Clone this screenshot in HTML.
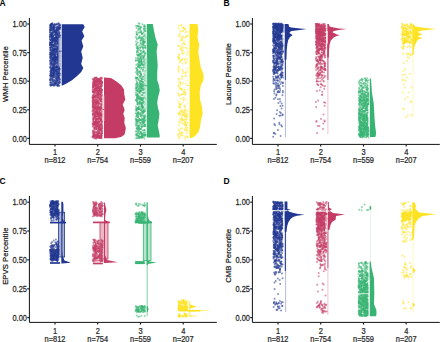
<!DOCTYPE html>
<html><head><meta charset="utf-8"><style>
html,body{margin:0;padding:0;background:#fff;width:440px;height:342px;overflow:hidden}
svg{display:block}
</style></head><body>
<svg width="440" height="342" viewBox="0 0 440 342">
<rect width="440" height="342" fill="#fff"/>
<g>
<g font-family="Liberation Sans, sans-serif" stroke-linejoin="round">
<text transform="translate(-0.5 5.7) scale(0.95 1)" font-size="9" font-weight="bold" fill="#000">A</text>
<path d="M29.4 18V144.4H216.8" stroke="#111" stroke-width="1" fill="none"/>
<path d="M27.2 138.4H29.4" stroke="#222" stroke-width="1.2"/>
<text transform="translate(26.9 141.6) scale(0.835 1)" font-size="8.9" fill="#2a2a2a" stroke="#2a2a2a" stroke-width="0.25" text-anchor="end">0.00</text>
<path d="M27.2 109.8H29.4" stroke="#222" stroke-width="1.2"/>
<text transform="translate(26.9 113) scale(0.835 1)" font-size="8.9" fill="#2a2a2a" stroke="#2a2a2a" stroke-width="0.25" text-anchor="end">0.25</text>
<path d="M27.2 81.2H29.4" stroke="#222" stroke-width="1.2"/>
<text transform="translate(26.9 84.4) scale(0.835 1)" font-size="8.9" fill="#2a2a2a" stroke="#2a2a2a" stroke-width="0.25" text-anchor="end">0.50</text>
<path d="M27.2 52.6H29.4" stroke="#222" stroke-width="1.2"/>
<text transform="translate(26.9 55.8) scale(0.835 1)" font-size="8.9" fill="#2a2a2a" stroke="#2a2a2a" stroke-width="0.25" text-anchor="end">0.75</text>
<path d="M27.2 24H29.4" stroke="#222" stroke-width="1.2"/>
<text transform="translate(26.9 27.2) scale(0.835 1)" font-size="8.9" fill="#2a2a2a" stroke="#2a2a2a" stroke-width="0.25" text-anchor="end">1.00</text>
<path d="M55 144.4V146.6" stroke="#222" stroke-width="1.2"/>
<text transform="translate(55 154.6) scale(0.885 1)" font-size="8.4" fill="#2a2a2a" stroke="#2a2a2a" stroke-width="0.25" text-anchor="middle">1</text>
<text transform="translate(55 162.6) scale(0.885 1)" font-size="8.4" fill="#2a2a2a" stroke="#2a2a2a" stroke-width="0.25" text-anchor="middle">n=812</text>
<path d="M97.7 144.4V146.6" stroke="#222" stroke-width="1.2"/>
<text transform="translate(97.7 154.6) scale(0.885 1)" font-size="8.4" fill="#2a2a2a" stroke="#2a2a2a" stroke-width="0.25" text-anchor="middle">2</text>
<text transform="translate(97.7 162.6) scale(0.885 1)" font-size="8.4" fill="#2a2a2a" stroke="#2a2a2a" stroke-width="0.25" text-anchor="middle">n=754</text>
<path d="M140.5 144.4V146.6" stroke="#222" stroke-width="1.2"/>
<text transform="translate(140.5 154.6) scale(0.885 1)" font-size="8.4" fill="#2a2a2a" stroke="#2a2a2a" stroke-width="0.25" text-anchor="middle">3</text>
<text transform="translate(140.5 162.6) scale(0.885 1)" font-size="8.4" fill="#2a2a2a" stroke="#2a2a2a" stroke-width="0.25" text-anchor="middle">n=559</text>
<path d="M183.2 144.4V146.6" stroke="#222" stroke-width="1.2"/>
<text transform="translate(183.2 154.6) scale(0.885 1)" font-size="8.4" fill="#2a2a2a" stroke="#2a2a2a" stroke-width="0.25" text-anchor="middle">4</text>
<text transform="translate(183.2 162.6) scale(0.885 1)" font-size="8.4" fill="#2a2a2a" stroke="#2a2a2a" stroke-width="0.25" text-anchor="middle">n=207</text>
<text transform="translate(7.5 74.1) rotate(-90)" font-size="7.75" fill="#111" stroke="#111" stroke-width="0.2" text-anchor="middle">WMH Percentile</text>
</g>
<path d="M54.4 58.4h0M59.1 52.8h0M59.6 53.6h0M50 80.6h0M56.1 81.3h0M50 31.6h0M52 84.9h0M55.3 54.9h0M51.9 63h0M59.3 29h0M49.9 45.5h0M55.2 60.8h0M60 38.1h0M57.4 81.3h0M58.8 40.8h0M57.4 85.7h0M56.5 38h0M54.6 68.3h0M53.9 27.6h0M53.2 81.8h0M56.6 32.2h0M54.1 74h0M57.1 31.5h0M54.9 34.4h0M50.2 42.9h0M56.4 26.7h0M53.1 71.8h0M50.4 47.3h0M52.6 75.5h0M50.4 27.3h0M52.7 69.3h0M54.7 49.2h0M56.5 74.3h0M56.4 36.4h0M54.4 56.9h0M56.9 52.5h0M58.9 38.9h0M57.3 72.1h0M50.1 30h0M55.9 83.8h0M57.8 50.9h0M58.4 45.7h0M59.5 68.5h0M59 29.5h0M50.1 30.1h0M57.9 57.2h0M50.5 34.7h0M50.2 39.5h0M54.3 28.4h0M56.2 30.9h0M50.5 26.3h0M55.6 70.1h0M57.4 41.8h0M51.5 62.6h0M58.8 36.8h0M56.6 67h0M53.9 58h0M58.1 68.8h0" stroke="#213791" stroke-opacity="0.56" stroke-width="2" stroke-linecap="round" fill="none"/>
<path d="M54.5 55.1h0M53.9 27.6h0M58.6 34.6h0M59.6 24.3h0M49.9 42.1h0M50.1 75.5h0M57.9 43.3h0M50.1 84.4h0M55.2 76.9h0M59.5 52.2h0M56.2 37.7h0M52.7 64.5h0M58.9 72.6h0M53.6 29.1h0M55.1 57.4h0M51.5 35.9h0M54.6 46.5h0M56.8 29.7h0M54.2 55.4h0M54.5 30.9h0M55.9 52.7h0M57.4 58.9h0M59.4 51.2h0M56.4 45.8h0M55.2 39.8h0M56.9 77.7h0M50.4 47.9h0M54.9 40.7h0M53.7 80.6h0M57 30.1h0M51 43.9h0M53.8 26.6h0M56.3 45.4h0M58.9 77.2h0M51.8 40.7h0M51 82.6h0M53.3 74.9h0M54.6 24h0M59.7 63.7h0M55.9 46.4h0M53.7 51.3h0M54.7 85.1h0M58.5 69h0M51 85.6h0M59.6 24.5h0M57.6 38.5h0M50.3 42.4h0M53.6 52.9h0M52.2 75.5h0M50.4 77.9h0M55.2 83.1h0M56.4 66.1h0M59.5 64.5h0M56.6 41.3h0M53 51h0M54.6 41.3h0M59.9 27.7h0M50.4 25.2h0" stroke="#213791" stroke-opacity="0.56" stroke-width="2" stroke-linecap="round" fill="none"/>
<path d="M51.7 55.4h0M57.7 40.1h0M59.1 74.8h0M54.7 69.2h0M51.9 33.7h0M51.2 26h0M58.5 45.1h0M53.9 73.7h0M58.5 37.7h0M53.1 52.6h0M56.6 44.4h0M52.7 68.4h0M53.5 40.2h0M50.6 28.3h0M59.7 64.2h0M52.8 84.4h0M57.1 61.4h0M54.5 64.4h0M57.6 75h0M51.2 80.2h0M56.2 66.6h0M50.8 73.2h0M52.1 42.4h0M57.8 55.7h0M50.7 74.9h0M58.8 52.3h0M50.2 32.6h0M53.9 53.1h0M51.2 55.1h0M57.7 53.4h0M55.3 53.6h0M56.5 62.4h0M59 43.4h0M54.9 58.9h0M50.6 58.1h0M53.4 35.4h0M55.8 57.6h0M59.4 79.7h0M50.3 49.3h0M56 60.3h0M51 43.3h0M56.9 37.8h0M52.3 24.3h0M58.7 26.9h0M58.3 66.6h0M54 85.7h0M51.1 56.4h0M53 45.6h0M52.4 80.1h0M57.8 78.3h0M54 48.7h0M50.3 68h0M54.2 64.4h0M54.1 32.2h0M55.6 61.6h0M53.4 45.8h0M59.7 57.4h0M51.2 35.8h0" stroke="#213791" stroke-opacity="0.56" stroke-width="2" stroke-linecap="round" fill="none"/>
<path d="M57.9 29h0M53.2 30.5h0M51.7 69.8h0M60 27.8h0M56.5 51h0M54.4 62.9h0M54.3 57.8h0M54.8 66.7h0M58.1 80.1h0M54.2 61h0M55.6 56.7h0M49.9 38.5h0M55.6 60.5h0M54.7 66.4h0M50.5 57.6h0M52.9 30.3h0M51.4 43.4h0M53.6 67.9h0M53.2 49.1h0M55.5 58.5h0M57.5 53.8h0M55.3 83.2h0M51.8 34.5h0M58.4 66.3h0M52.4 33.1h0M58.4 47.1h0M50.1 42.8h0M56.6 38.2h0M53.5 84.8h0M58.6 78.1h0M53 73.7h0M59.4 77.7h0M53.2 69.9h0M58.3 66.7h0M54.8 38.3h0M56.9 69.6h0M58.9 28.6h0M53.4 56.9h0M52.5 30.1h0M54.9 55.7h0M50.5 30.3h0M57.3 59.4h0M52.4 41.5h0M50.5 24.9h0M55.7 70.9h0M53.4 47.5h0M55.6 71.3h0M55.7 49.4h0M54.1 58.1h0M59.4 63.5h0M54.6 83.7h0M50.4 53h0M57.7 57.1h0M54.5 56.5h0M52.1 37.1h0M52.8 39.5h0M53 77.6h0M51.5 53h0" stroke="#213791" stroke-opacity="0.56" stroke-width="2" stroke-linecap="round" fill="none"/>
<path d="M50.7 74.3h0M50.8 26.8h0M51.8 61.2h0M57.3 80h0M53.1 65.2h0M58 35.6h0M54.8 24.8h0M55.3 49.2h0M53 81.4h0M57 76.4h0M60 63.7h0M51.4 70.8h0M57.5 35h0M57.7 27.8h0M50.7 28.2h0M57.7 34.4h0M58.7 55.7h0M55.6 52h0M53.9 67.3h0M59.1 61.1h0M58.4 77.1h0M52.3 41.9h0M56.6 73h0M59.5 34h0M58.3 72.8h0M52 45h0M55.3 31.6h0M53.3 49.7h0M51.8 37.5h0M52.4 55.1h0M52.7 47.8h0M54.3 75.8h0M57.4 57.6h0M56.6 49.5h0M58.5 71.8h0M53 48.8h0M53.6 68.8h0M50.9 73h0M53.2 54h0M50.3 28.9h0M56.6 57.7h0M50.5 75.2h0M51.1 53.7h0M59.8 66.4h0M49.8 27.3h0M57.9 72.5h0M59.5 28.2h0M54.5 44h0M54.8 53.5h0M53.7 45.4h0M54.2 66.4h0M50.5 47.7h0M53.3 68h0M55.6 83.4h0M51.3 84h0M53 60.5h0M59.9 27.8h0M53.1 39.4h0" stroke="#213791" stroke-opacity="0.56" stroke-width="2" stroke-linecap="round" fill="none"/>
<path d="M50.2 64.4h0M51.6 58.4h0M50.9 25.4h0M57 73.2h0M54.2 74h0M51.6 23.7h0M50.5 73.6h0M59.2 40h0M60 79.2h0M54.4 69.8h0M57.6 85h0M59 70.4h0M59.8 25.5h0M56.6 28.2h0M59 28.4h0M54.5 60h0M59.9 39.9h0M59.9 73.6h0M57.9 64.8h0M58.2 41.3h0M54.2 58.8h0M50.4 79.7h0M56.6 79h0M51.5 61.5h0M54 46.1h0M55.4 33.4h0M52.5 68.9h0M55.7 67.4h0M52.2 23.1h0M53.8 68.3h0M57.6 85.1h0M51.6 24.7h0M51.6 29.7h0M52.1 61h0M59 73.4h0M56.2 49.9h0M53.3 24.5h0M55 30.9h0M58.8 82.9h0M52.6 73.4h0M51 42.6h0M57.1 50.4h0M52.7 40.6h0M57.8 56h0M59.7 75.8h0M57.9 47h0M50.6 42.6h0M52.2 78.8h0M58.4 54.8h0M51.4 73.4h0M55.5 63.6h0M50.9 53.8h0M54 71.5h0M57.5 27.8h0M54.3 50.3h0M51 76.6h0M49.9 32.4h0M51.7 63.2h0" stroke="#213791" stroke-opacity="0.56" stroke-width="2" stroke-linecap="round" fill="none"/>
<path d="M51.4 23.9h0M51.7 69.3h0M52.2 67.6h0M53.4 66.4h0M58.8 47.3h0M57.1 34.3h0M53.2 72.9h0M51.1 50.5h0M52.2 69h0M51.8 33.4h0M56.1 69.8h0M59.9 82.8h0M52.6 49.9h0M57.2 66.9h0M51.3 70.2h0M50.2 29.9h0M51.3 71.8h0M56.1 41.4h0M50 44h0M52.3 59.3h0M55.2 56.2h0M53.9 45.6h0M52.1 42h0M54.3 71.9h0M59.7 25.7h0M52 52.6h0M51.3 36h0M56.9 24.5h0M53.8 38.1h0M57.1 43.7h0M56.9 57.6h0M51 27.7h0M53.4 50.3h0M55.1 25h0M53.5 29.4h0M54 51.9h0M54.6 45.9h0M51.1 28.6h0M54.9 80.2h0M58.6 48.5h0M55.5 81.4h0M55.5 51.9h0M58.7 33.1h0M55.2 34.7h0M53.2 44.9h0M55.9 69.9h0M59.2 54.9h0M55 85.3h0M51.8 36.6h0M56.5 72.1h0M59 38.9h0M53 85.3h0M56.1 37h0M56.9 66.7h0M59.1 65.9h0M55 42.7h0M56.3 30h0M59.3 25.8h0" stroke="#213791" stroke-opacity="0.56" stroke-width="2" stroke-linecap="round" fill="none"/>
<path d="M50.4 35h0M56.4 30.4h0M58.2 60.8h0M58.7 49.4h0M53 31.6h0M53.3 67.1h0M51.3 55.7h0M59 53.2h0M50.8 75.7h0M50 79.5h0M53.9 26.2h0M59 50.2h0M50.8 57.3h0M51.3 45.6h0M52.3 37h0M52 37.9h0M58.2 76.6h0M55.3 41.9h0M56.4 29.7h0M51.7 57.7h0M59 43.3h0M50.3 25h0M56.6 40.5h0M57.9 37.9h0M57.6 85.4h0M54.4 77.6h0M57.1 48.7h0M53.5 27h0M56.4 57.7h0M57.5 76.3h0M51.3 34.1h0M57.5 42.6h0M54.9 48.5h0M54.4 60.6h0M53.3 77.7h0M59.4 44.9h0M53 65.5h0M52.8 72.2h0M52.9 69.8h0M56.7 28.4h0M54 56.9h0M52.2 70.7h0M58.5 61.6h0M53.4 54.6h0M57.7 39.6h0M58.1 23.9h0M53.2 59h0M51.5 68.8h0M58 66.4h0M55.1 43h0M60 56.4h0M52.9 37h0M59.9 35.4h0M53.7 40.3h0M53.4 67.7h0M57.5 62.4h0M59.4 50.6h0M53.7 75.1h0" stroke="#213791" stroke-opacity="0.56" stroke-width="2" stroke-linecap="round" fill="none"/>
<path d="M50.1 52.4h0M52 40.1h0M51.6 68.6h0M58.6 59.3h0M58.3 76.7h0M56.1 70.9h0M58.4 66.6h0M51.8 62.1h0M57.9 31h0M57 77.5h0M53.6 29.2h0M59.7 38.4h0M50.7 65.8h0M53.5 30.4h0M55.1 71.4h0M55.9 37.2h0M50.6 40.1h0M53.8 65.2h0M55 72.9h0M50.1 34.4h0M57.2 80h0M52.9 54.5h0M50.7 85.2h0M52.1 59.7h0M54.4 70.2h0M53.7 27.6h0M58.6 37.3h0M50.4 54.4h0M55.5 75.6h0M55.6 49.6h0M59.3 38.9h0M49.9 36.3h0M55.3 83.3h0M59.3 32.6h0M51 34.5h0M52.2 59.7h0M59.7 48h0M54 26.4h0M53.6 50.2h0M58.3 43.8h0M51.1 78.3h0M52.9 76.6h0M57.3 56.8h0M57 49.4h0M55.2 44.2h0M53.7 27.1h0M57.9 84.6h0M55.8 33h0M57.1 74.2h0M51.7 64h0M57.6 26.6h0M55 49h0M50.4 59.9h0M55.3 24.5h0M58.8 78.2h0M56.9 54.7h0M55.8 59.9h0" stroke="#213791" stroke-opacity="0.56" stroke-width="2" stroke-linecap="round" fill="none"/>
<path d="M58.4 55.9h0M58 42.3h0M52.1 58.4h0M53.7 59.9h0M59.5 40.5h0M57.9 80.4h0M54.8 83.1h0M51.1 72.3h0M56.8 24.1h0M53.9 61h0M59 57.8h0M59.4 68.7h0M56.2 46.6h0M55.6 80.8h0M53.2 54.2h0M52.7 33.9h0M50.8 53.4h0M51.8 69.3h0M56 33h0M59.4 64.7h0M55.9 70.6h0M59.8 52.9h0M55.2 56.6h0M50.2 60.8h0M52.3 79.3h0M53.5 40.4h0M53.3 36.7h0M54.6 43.6h0M53.2 44.9h0M56.2 75.6h0M51 43.5h0M49.9 56.4h0M58.8 43.3h0M59.9 69.7h0M58.5 62.1h0M58.7 41.1h0M56.4 67.4h0M54.4 58.3h0M53.5 50.3h0M58.2 72.9h0M50.1 50.3h0M56.9 59h0M59.2 72.1h0M50.6 53.8h0M54.4 37.8h0M51.3 36h0M56 76.6h0M52.7 29.1h0M51.6 74.6h0M59.4 43.9h0M55.4 40.3h0M58.8 39.3h0M58.3 47.8h0M56.5 32.4h0M53.5 37.5h0M53.8 54.9h0M54.5 80h0" stroke="#213791" stroke-opacity="0.56" stroke-width="2" stroke-linecap="round" fill="none"/>
<path d="M54.9 64.9h0M51.9 48h0M56.1 40.7h0M50.6 63.5h0M54.4 40.4h0M59.3 68.7h0M52.1 56.3h0M51.8 37.4h0M56.8 30.3h0M59.8 73.9h0M59.7 59h0M59.8 74.7h0M51.9 44.8h0M58 42.3h0M57.2 67.8h0M53 57.7h0M59.5 60.1h0M59.4 58.6h0M59 57.7h0M56.6 69.7h0M55.9 27.4h0M52.8 35.4h0M55.9 41h0M55.6 78.3h0M53.8 41.9h0M51.7 39.6h0M50.1 62.9h0M50 45h0M53 68.3h0M51.1 46.9h0M55.6 32.1h0M57.9 69.6h0M50.9 85.5h0M57.3 85.6h0M50.5 85.5h0M56.7 51.8h0M50.5 52.3h0M58.5 29.6h0M50.3 75.9h0M50.4 71.3h0M56.7 81.8h0M53.2 32.6h0M50.4 82.3h0M59.7 58.5h0M51.6 32.5h0M59.6 82h0M51.7 24.5h0M53.3 58.4h0M52.3 81.2h0M59.1 41.4h0M57.2 43.2h0M57 51.4h0M57.1 71.2h0M58.7 82.1h0M50.3 67h0M55.2 56.7h0M52 51.3h0" stroke="#213791" stroke-opacity="0.56" stroke-width="2" stroke-linecap="round" fill="none"/>
<path d="M52.6 76.2h0M56.3 29.4h0M51.9 24h0M58.8 69.1h0M54 62.6h0M54.4 62.6h0M57.2 63.4h0M53.1 45.5h0M57.5 54.8h0M59.1 70.1h0M56.3 74.2h0M51 62.5h0M58.4 27.7h0M53.9 38.7h0M54 75.3h0M54.7 39.5h0M52.9 73h0M53.2 75.3h0M54.9 32h0M55.8 73.9h0M54.4 54.8h0M53.4 52.9h0M58 28.5h0M51.3 24.1h0M50.6 25.2h0M59.2 68.3h0M58 84.8h0M55.6 39.6h0M56.8 33.1h0M52.2 34.7h0M52.6 37.4h0M58 75.4h0M59.6 36.9h0M58.6 31h0M56.2 78.5h0M53.8 70.1h0M56.5 36.8h0M51.4 84.4h0M55.2 57.7h0M56.2 57.9h0M56.8 47.6h0M57.6 74h0M57.8 37.8h0M52.9 44.2h0M54.7 72.6h0M59.3 32h0M53.9 26.3h0M59.2 55.5h0M55 44.7h0M56.1 44.1h0M56.4 67.7h0M54.3 51.7h0M55.7 38.9h0M51.6 30.5h0M58.4 57.4h0M58.9 37.2h0M53.2 59.6h0" stroke="#213791" stroke-opacity="0.56" stroke-width="2" stroke-linecap="round" fill="none"/>
<path d="M53 37.5h0M52 39.3h0M54.3 26.8h0M57.3 59.8h0M53 76.1h0M53.6 59h0M58.4 58.4h0M50.9 69.3h0M51.7 27.5h0M58.1 48.7h0M55.9 71.1h0M51.9 26.3h0M58.1 62.5h0M53.5 46h0M58.5 74h0M59.1 44.7h0M59.2 28.8h0M51.2 29h0M59.9 55.7h0M51.8 52.6h0M50.3 67h0M58.8 86h0M57.5 38.6h0M54.2 51h0M57.6 69.5h0M53.5 32.7h0M56.6 81.2h0M51.7 52.7h0M54.8 58.7h0M55.8 31.5h0M53.5 39.4h0M59.9 29.4h0M57 34.3h0M54.8 37.8h0M51.8 65.3h0M54.4 27.1h0M51.9 46.4h0M53.9 61.8h0M52.1 29.3h0M56.3 24.4h0M50.9 70h0M57.8 36.8h0M53.6 69.2h0M59.4 82.2h0M52.2 64.4h0M59.4 35.2h0M51.6 69.6h0M49.8 54.4h0M56 63.8h0M55.1 53.9h0M54.2 29.7h0M56.2 49h0M55.5 57.5h0M57.9 69.8h0M50.8 25.8h0M52.9 25h0M50 36.9h0" stroke="#213791" stroke-opacity="0.56" stroke-width="2" stroke-linecap="round" fill="none"/>
<path d="M50.5 71.5h0M53.2 41.8h0M53.6 59.2h0M58.4 28.3h0M54.4 27.7h0M57.9 82.8h0M53.7 76.5h0M55 38.9h0M50.2 57.9h0M58.8 67h0M59.3 33.1h0M51.1 51h0M52 49.9h0M53.8 35.3h0M58.9 83.6h0M59.6 53.5h0M51.9 57.4h0M57 34.4h0M58.3 35.5h0M53.7 59.1h0M52.2 42.4h0M56.3 35.1h0M55.4 34.8h0M57.9 27.6h0M52.4 57.9h0M53.5 71.5h0M56.8 65.2h0M59.5 46h0M52.7 70.4h0M54.1 63h0M50.5 79.5h0M53.9 67.6h0M56.7 83h0M56.4 73.5h0M50 44.5h0M52.7 50.9h0M53.8 70h0M59.6 49.2h0M53 53.6h0M57.5 59.7h0M55.8 35.8h0M55.3 61.6h0M55 58.8h0M54.8 60.4h0M55.1 39.1h0M56.7 78.9h0M50 36.9h0M55.7 63h0M56.6 29.9h0M58.6 56.9h0M59.5 79.2h0M57.7 51.8h0M51.2 72.4h0M54.8 67h0M59.8 61h0M56.1 41.1h0M52 27.6h0" stroke="#213791" stroke-opacity="0.56" stroke-width="2" stroke-linecap="round" fill="none"/>
<path d="M58.4 47.5h0M50.7 59.9h0M53.5 64.6h0M50.1 61.1h0M58.7 25.6h0M56.4 36h0M51.9 76.9h0M55.2 50.6h0M55.6 32.3h0M57.6 48.7h0M51.5 54.4h0M54.4 39.6h0M58.1 46.4h0M57.9 57.2h0M55.1 67.9h0M50.3 47.4h0M51.4 75.7h0M58.3 60.5h0M56.2 35.5h0M55.1 39.7h0M52.2 27.3h0M50.3 29.7h0M59.9 25.1h0M55.6 57.4h0M54.5 82h0M59.1 24.3h0M58.7 37.9h0M59.4 71.8h0M52.2 38.8h0M59.3 85.6h0M50.6 34.6h0M59.1 24.5h0M51.7 45.6h0M59.9 27.1h0M56.2 40.6h0M52.8 67h0M51.5 64.1h0M51.4 74.8h0M57.4 53.9h0M57.3 49.5h0M51.5 45.1h0M57.6 59.9h0M52.2 83.1h0M56 61.8h0M51.7 37.7h0M59.5 51.7h0M54.9 64.3h0M50.7 54.5h0M58.7 42.7h0M57.4 38.8h0M50.5 40.1h0M58.8 51.8h0M57.2 83.2h0M58.2 77.4h0M50.4 29.4h0M58.7 75.9h0M53.2 83.6h0" stroke="#213791" stroke-opacity="0.56" stroke-width="2" stroke-linecap="round" fill="none"/>
<path d="M58.4 23h0M55.9 46.5h0M55.8 31.9h0M52.1 67.2h0M55.6 42.6h0M58.1 63.6h0M55.1 59.3h0M54 56.5h0M51.9 76.2h0M50.5 44.6h0M50.4 82.8h0M54.1 72.2h0M59.9 43.6h0M55.5 34.2h0M54.1 49.6h0M55.1 40.4h0M53 27.8h0M52.1 32.9h0M52.3 59.5h0M53.2 63.6h0M59.7 65.1h0M53 80h0M57.5 47.4h0M52.2 32.3h0M53.2 25.5h0M53.7 28.3h0M50.7 50.1h0M56.1 49h0M51.6 55.5h0M57.1 30.5h0M60 35.8h0M52.1 47.6h0M51.3 63.2h0M57.1 38.9h0M56.9 34.4h0M52.3 49h0M57.4 39h0M57.1 32.9h0M53.9 84.2h0M59.8 81h0M55.1 47.6h0M59.2 66.6h0M59.4 64.6h0M50.7 55.9h0M53.2 69h0M51 40.3h0M51.7 24h0M56.3 84.4h0M56.9 71h0M55.7 38.3h0M54.3 31.1h0M59 48.4h0M55.6 56.4h0M57 67.3h0M56.9 34.2h0M56.9 70.1h0M50.8 63.3h0" stroke="#213791" stroke-opacity="0.56" stroke-width="2" stroke-linecap="round" fill="none"/>
<path d="M61.7 24.2L83.3 24.2L84.7 27.1L82.2 31.2L84.3 36.3L81.6 40.4L83.3 46.5L81.2 51.6L82.7 57.8L81.2 63.9L83.3 68L81.2 72L77.1 76.1L72 80.2L66.5 83.5L62.5 85.6L61.7 85.6Z" fill="#213791"/>
<rect x="58.6" y="37.6" width="3" height="29.1" fill="#fff" fill-opacity="0.75"/>
<rect x="58.6" y="37.6" width="3" height="29.1" fill="#213791" fill-opacity="0.22"/>
<path d="M58.6 51.2H61.6" stroke="#213791" stroke-width="0.8"/>
<path d="M99.5 88.8h0M100 121.6h0M95.4 95.4h0M92.6 97.6h0M97.8 85.3h0M98.4 124.2h0M94 110.9h0M95 96.8h0M93.5 83.2h0M97.1 93.2h0M101.7 128.7h0M95.4 103.1h0M97.8 112.9h0M96.8 113.9h0M98.1 82h0M99.1 114.5h0M97.7 93.8h0M99.6 109.7h0M96.2 135.6h0M99.5 135.4h0M100.4 90.7h0M100.7 113.2h0M94 123.6h0M97.7 88h0M94.2 108.7h0M94.9 137.2h0M94.5 107.5h0M96.8 127.3h0M99 80.3h0M100 126.9h0M101.1 88.5h0M96 121h0M95.4 84.5h0M93 136.3h0M100.3 109h0M100.7 129h0M96.1 122.4h0M94.3 83.3h0M93.6 133.9h0M98.5 92.1h0M95 107.9h0M94.8 107.2h0M101.8 86.6h0M97.7 83.2h0M92.7 98.9h0M95.7 80.4h0M95.8 104.3h0M95.5 123.9h0M97.1 126.3h0M101.1 78.4h0M97.7 122.7h0M100.5 78.9h0M97 136.4h0M96.9 100.1h0M95.3 112.1h0M96.9 112.9h0M93.7 105.5h0" stroke="#C43C66" stroke-opacity="0.56" stroke-width="2" stroke-linecap="round" fill="none"/>
<path d="M102 92.2h0M100.6 86.5h0M100.2 120.2h0M102.2 116.5h0M100.6 98.5h0M95.5 100h0M101 92.7h0M100.3 133.8h0M94.1 138.1h0M93.6 85.9h0M95.7 100h0M98.4 127.6h0M100.5 129.9h0M101.6 132.9h0M100.7 128.7h0M101.9 127.1h0M93.2 98.8h0M100.3 81.2h0M100.6 110h0M94.8 89.7h0M93.1 124.2h0M98.7 80.4h0M96.1 134.5h0M98.4 115.7h0M94.2 131.8h0M95.8 93.1h0M95.3 113.4h0M97 124.5h0M93.3 91.7h0M102 104.9h0M97.9 114.1h0M102.1 131.2h0M97.7 123.8h0M97.9 135h0M98.6 128.3h0M94.6 123.4h0M95.7 80.9h0M96.4 133.8h0M98.4 113.2h0M99.3 130.6h0M98.4 133h0M99.6 113.4h0M97.1 125.7h0M97 110.8h0M101.1 90.4h0M92.6 136.7h0M93.5 121.7h0M98 121.2h0M96 126.3h0M98.9 136.4h0M97.6 119h0M96.3 101.1h0M100.9 108.2h0M98 93.9h0M98.8 117h0M101.7 84h0M96.2 135.2h0" stroke="#C43C66" stroke-opacity="0.56" stroke-width="2" stroke-linecap="round" fill="none"/>
<path d="M101.5 118.7h0M93 79.2h0M94.4 101.5h0M99.5 91.7h0M99.1 122h0M94.7 78.2h0M95.7 87.8h0M96.3 84.7h0M101.3 135.9h0M97.8 113h0M93.9 113.6h0M95 122.2h0M99.9 115.2h0M94.8 92.4h0M93.2 122.1h0M97.1 78.4h0M100.5 124.5h0M100.5 107.8h0M92.9 114.7h0M95.3 111.3h0M102.2 95.2h0M96.8 129.1h0M100.7 137.4h0M98.5 95.6h0M99.5 87.9h0M96.8 119.3h0M94.9 88.9h0M96.5 85.1h0M100 91.8h0M98.9 96.7h0M99.2 80.3h0M100.8 133.3h0M93.5 122h0M99.2 83.9h0M94.3 135.7h0M94.3 97.1h0M99.9 128.6h0M97.8 98.3h0M96 86.1h0M100.9 90.5h0M99.3 122.8h0M101.6 83.1h0M99 80.7h0M101.6 98h0M94.3 129.3h0M97.2 81.3h0M97.1 135.7h0M99.7 99.2h0M99.7 114.1h0M100.8 96.9h0M100.7 87.1h0M100.9 92.1h0M96.2 82.6h0M94.8 82.1h0M96.4 103.6h0M93.2 110h0M101 81.6h0" stroke="#C43C66" stroke-opacity="0.56" stroke-width="2" stroke-linecap="round" fill="none"/>
<path d="M94.4 92h0M96.3 82.8h0M100 84.4h0M99.6 129.8h0M98 113.1h0M97.3 85.6h0M100 98.1h0M98.8 132h0M98.9 106.4h0M102.2 128.5h0M96.3 88.3h0M94.8 81.4h0M101.4 80.5h0M98.8 114.5h0M101.3 138h0M98.8 130.2h0M98.4 130.4h0M92.9 120.3h0M93.1 120.4h0M99.3 103h0M101 136.7h0M98.3 93.4h0M101.7 115.5h0M99.3 90.7h0M102.3 82.9h0M100.9 93.7h0M99.3 91.4h0M101.5 119.5h0M100.4 114.4h0M96.7 111.5h0M97.1 90.1h0M96.6 113.7h0M94 107.5h0M98.5 102.5h0M97.5 105.6h0M92.9 87.3h0M93.2 94.7h0M93.1 84.3h0M96.2 114.2h0M98.4 115.1h0M101.5 113.8h0M95.4 115h0M98.3 121.8h0M94.6 122.6h0M96.9 91h0M100.1 95.4h0M101.2 89.4h0M93.6 96.9h0M92.9 99.5h0M101.7 132.5h0M99.5 127.3h0M96.1 124.3h0M97 106.8h0M101.4 129.7h0M94.6 123.5h0M101.8 104.3h0M99.4 128.7h0" stroke="#C43C66" stroke-opacity="0.56" stroke-width="2" stroke-linecap="round" fill="none"/>
<path d="M100.8 120.3h0M100.8 114.3h0M99.8 130.4h0M96.7 96.9h0M99.2 137.1h0M101.2 123.3h0M99.4 122h0M95.1 123.9h0M99.1 87.2h0M94.1 128h0M92.7 124.3h0M96.6 110.9h0M96.2 135.4h0M102.2 96.6h0M99.2 118.1h0M96.1 77.8h0M93.1 85.5h0M97.7 134h0M99.3 128.4h0M93.8 134.6h0M101.2 133.9h0M98 102.5h0M95.7 100.7h0M98.3 137.1h0M92.7 137.2h0M96.9 102h0M98.3 123.4h0M97.7 99.3h0M94.4 81.7h0M96.1 78.1h0M98.7 129.7h0M96.1 97.5h0M100.2 108.4h0M95.9 117.5h0M95.2 88.9h0M100 93.9h0M95.5 127.8h0M95.5 78h0M93.3 103.4h0M98 91.8h0M97.9 110.1h0M95.4 96.2h0M93.5 96.7h0M94.7 89.2h0M102.2 121.1h0M96.7 112.8h0M95.4 108h0M98.5 105.8h0M96.2 94.5h0M100 125.6h0M100.9 123.7h0M93.3 106.2h0M97.8 87.6h0M98.5 108.7h0M101.1 81.5h0M92.9 91.9h0" stroke="#C43C66" stroke-opacity="0.56" stroke-width="2" stroke-linecap="round" fill="none"/>
<path d="M99.1 115.9h0M93 84.4h0M98.5 136.1h0M95.6 122.8h0M100.1 116.2h0M99.1 90.6h0M93.7 83.3h0M101.1 99.1h0M96.6 109h0M94.3 123.7h0M99.6 125.8h0M98.1 95.3h0M98.1 86.3h0M93.5 90.3h0M96.2 116.6h0M98.7 137.7h0M100.7 137.9h0M93.7 121.6h0M95 87h0M101.1 101.3h0M98.6 81.4h0M94.6 90h0M95 116.7h0M97.9 124.4h0M96.9 116.5h0M97.7 111h0M95.8 138.4h0M100.1 77.9h0M97.7 113.9h0M97.2 135.6h0M95.1 106.2h0M92.7 123.6h0M96.2 79.2h0M97.3 103.6h0M93 116.9h0M100.9 136.8h0M92.7 105.1h0M96.3 124.8h0M101.6 115.4h0M93.4 81h0M95.5 89.1h0M100.3 137.2h0M95.8 87.9h0M100.7 104.3h0M96 137.2h0M96.3 111.5h0M102.2 133.1h0M97.8 130.4h0M98.3 120h0M96.7 112.5h0M94.1 117.7h0M97.1 111.4h0M99.2 109h0M94.2 104.6h0M94.8 85.5h0M96.2 79.8h0" stroke="#C43C66" stroke-opacity="0.56" stroke-width="2" stroke-linecap="round" fill="none"/>
<path d="M99.6 107.7h0M94.5 84.4h0M98.2 131.9h0M99.2 86.8h0M92.7 106.6h0M98.5 80.6h0M100.6 107.8h0M94.6 95.3h0M99.3 112.3h0M101.7 90.2h0M94.4 96.8h0M99.1 98h0M97.3 122.4h0M100.8 80.1h0M101.3 121.7h0M100.9 124.7h0M94.1 112.2h0M95.8 124.6h0M101.5 133.9h0M94.2 121.9h0M101.8 108.4h0M92.9 126.8h0M99.6 91.3h0M96.2 103.9h0M94.2 99.2h0M101.8 122.9h0M97.5 88.4h0M97.6 86.5h0M98.8 112h0M101.4 136.9h0M96 113h0M96.7 107.1h0M96.4 128h0M93.1 92.3h0M95 135.6h0M98.1 82.7h0M92.9 114.5h0M102 82.4h0M97 78.4h0M93.4 131.1h0M95.6 121.1h0M98.7 122.7h0M98.9 135.8h0M97.2 113h0M98.8 91.4h0M96.5 138.1h0M102.1 122.3h0M94.6 115.4h0M98.6 101.3h0M98.1 79.1h0M94.2 133h0M96.5 109.2h0M97.4 102.5h0M98 137.5h0M96 88.5h0M96.1 109.7h0" stroke="#C43C66" stroke-opacity="0.56" stroke-width="2" stroke-linecap="round" fill="none"/>
<path d="M97.4 101h0M98.8 87.8h0M100.7 117.6h0M102 89.9h0M98.4 108.6h0M95.9 86.3h0M96.1 100h0M95.3 122h0M100.6 83.1h0M94.2 91.6h0M99.7 96h0M96.3 94h0M101.2 77.9h0M95 125.6h0M97.1 90h0M97.1 132.3h0M98.5 85.7h0M96.6 109.6h0M93.1 100h0M94.6 77.8h0M98.1 81.5h0M94.1 78.4h0M96.2 104h0M99.6 88.8h0M101 84.5h0M102.2 78.4h0M98.9 83.8h0M95.1 102.1h0M96.6 128.9h0M95.3 78.7h0M95.1 84.7h0M98.7 86.5h0M96.8 110.5h0M94.2 106.6h0M97 134.2h0M98.9 128.3h0M97.9 81.8h0M98.9 79h0M93.3 85.9h0M94 136.5h0M92.6 90.3h0M99.6 94.6h0M101.5 85.3h0M96.6 121.8h0M97.9 107.2h0M99.9 82.3h0M93.5 102.4h0M93.6 82h0M95.4 91.4h0M101 120.8h0M100.7 135.3h0M99.2 89.3h0M98.3 80.5h0M97.9 113.6h0M97.8 110.3h0M95.6 106.5h0" stroke="#C43C66" stroke-opacity="0.56" stroke-width="2" stroke-linecap="round" fill="none"/>
<path d="M93.1 79.2h0M97.8 100.4h0M94 102.2h0M94.2 79.7h0M93.2 85.5h0M93.7 79.8h0M102.1 114.5h0M98.8 126.5h0M93.1 87.3h0M101.4 106.4h0M96 106.3h0M95.5 95.7h0M99.7 131.2h0M95.2 83.8h0M99.2 111h0M92.7 97.4h0M97.6 93.9h0M95.4 131.8h0M93.2 95.5h0M93.4 126.6h0M93.4 103h0M95 115h0M97.9 109.1h0M102.1 107.8h0M97.2 111.3h0M100.5 94.3h0M93.4 110.6h0M98.4 103.8h0M101.1 137.7h0M93.3 95.7h0M97.7 122.6h0M94.9 115.2h0M93.3 134.7h0M98.5 122.3h0M97.1 123.1h0M97.5 137.2h0M97.7 96.1h0M95.9 118.9h0M97.8 90.5h0M92.7 100.9h0M96.4 119h0M94.3 93.3h0M96.1 129.3h0M97 92.9h0M102.3 127.4h0M97.9 88.1h0M93.6 132.6h0M101.2 124.6h0M93.5 84.7h0M101.7 123.7h0M99.4 111.1h0M95.2 135.6h0M95 113.1h0M101.4 128.4h0M98.6 125h0M94.4 109.2h0" stroke="#C43C66" stroke-opacity="0.56" stroke-width="2" stroke-linecap="round" fill="none"/>
<path d="M96.2 97.7h0M98.1 108.5h0M93.9 125.2h0M94.4 122.1h0M99.2 138h0M97.2 132.5h0M99.4 114h0M94.5 84.8h0M95.6 104.3h0M96 92.2h0M95.1 127h0M92.9 106.9h0M95.3 82.4h0M102 121.3h0M92.6 101.8h0M102.2 101.6h0M96.3 81.8h0M100.1 99.9h0M101.1 99.1h0M97.2 84.5h0M99.8 129.6h0M99.8 94.6h0M98 118.9h0M98.6 101h0M98.4 97.3h0M94.3 107.8h0M95.2 124.4h0M96.7 125.4h0M100.1 119.7h0M99.1 127.8h0M101.4 114.7h0M101.9 104.9h0M102.3 110.8h0M102 101.2h0M95.6 81.8h0M96.9 116.4h0M94.1 107h0M93.4 82.8h0M95.6 120.4h0M95.6 81.6h0M93.7 119.6h0M95.7 86.6h0M98.6 133.4h0M95.9 89.6h0M102.2 114.9h0M101.2 85.4h0M95 82.5h0M101.1 129.3h0M102.2 125.2h0M99.4 130.6h0M96.9 102.7h0M101.1 136.4h0M100 136.4h0M101.3 118.9h0M99.4 128.1h0M98.2 122.7h0" stroke="#C43C66" stroke-opacity="0.56" stroke-width="2" stroke-linecap="round" fill="none"/>
<path d="M98.3 133.4h0M97.2 79.9h0M98.7 94.6h0M99.1 136.6h0M95.4 105.3h0M94.6 80.3h0M100.1 114.7h0M100.3 114.3h0M98.1 94.6h0M99.6 124.9h0M98.4 136.1h0M101.1 99.5h0M99.7 81.2h0M99.8 124.4h0M94.8 91h0M99.3 83.4h0M95.1 90.8h0M92.6 136.4h0M96.1 89.9h0M93.9 85.7h0M96.9 80.9h0M95.4 123.9h0M98 91.9h0M92.8 113.6h0M98.4 94.1h0M92.8 87.6h0M94 119h0M93.6 107.6h0M95 83.8h0M94.3 108.3h0M95.4 132.4h0M95.6 136h0M98.4 106.7h0M99.9 79.1h0M99.9 114.2h0M98.3 135h0M98.3 118.7h0M101.7 133.5h0M100.8 104.9h0M92.8 104.9h0M93.5 115.1h0M99.2 127.3h0M93.9 104.2h0M93 92.1h0M94.6 136.1h0M101.9 99.2h0M95.9 135.4h0M96.3 137h0M99.8 90.1h0M101.7 103.9h0M100.8 97.1h0M96.2 123h0M98.6 108.5h0M99.8 103.3h0M98.8 84.4h0M94.7 135.1h0" stroke="#C43C66" stroke-opacity="0.56" stroke-width="2" stroke-linecap="round" fill="none"/>
<path d="M97.5 108h0M94.5 98h0M98.5 89.2h0M93.6 79.7h0M100.4 101.6h0M97.2 95.9h0M102 102.4h0M97 114.1h0M95.8 129.2h0M97 106.1h0M94.3 138.1h0M97.7 79h0M97.7 79.5h0M95.2 109.6h0M99.3 133.3h0M96.4 85.1h0M98.5 97h0M102.1 113.5h0M98.6 117.7h0M98.8 126.4h0M98.1 102.4h0M101 118.9h0M96.9 131.7h0M98.6 125.3h0M101 80.3h0M93.1 96.8h0M98.6 104.7h0M95.5 135.4h0M95 114.9h0M96.3 107.8h0M100.8 92.4h0M95 110.2h0M98.8 104.6h0M95.2 111.5h0M99.8 88.2h0M101.3 131.2h0M98.5 93.3h0M93.5 125h0M95.4 115.9h0M94.8 134h0M98.5 108.4h0M97.6 137.4h0M98 91.2h0M94.4 128.5h0M99.8 117.9h0M99.6 112.1h0M96.8 87.1h0M98.8 116h0M92.8 109.3h0M92.7 97h0M92.9 131.8h0M101.8 108.1h0M99.7 89.5h0M97.5 116h0M97 119.1h0M95.5 103h0" stroke="#C43C66" stroke-opacity="0.56" stroke-width="2" stroke-linecap="round" fill="none"/>
<path d="M98.1 92.1h0M101.2 113.4h0M100.9 137.8h0M100.6 119.3h0M97.3 101.8h0M94.6 116.8h0M96.2 102.6h0M92.9 103.2h0M92.6 111h0M97 119.4h0M100.4 84.9h0M100.2 111.5h0M95.9 83.9h0M95.7 116.6h0M92.8 130.5h0M96.7 126.5h0M101.4 138h0M94.2 80.5h0M97.8 80.9h0M93.9 96.1h0M97 81.3h0M96 135.8h0M95.4 112.6h0M99.8 114.4h0M97.3 95.1h0M102 117.1h0M99.4 128.7h0M99.8 87h0M98.5 103.7h0M95.4 118.2h0M99.2 88.4h0M101.7 82.4h0M93 95.5h0M101 108.5h0M98.6 116.4h0M92.9 114.2h0M94.6 113.8h0M100.2 116.3h0M101.4 91h0M97.4 126.5h0M102.2 130.8h0M97.8 127h0M96 78h0M101.2 85.6h0M101.7 95.7h0M95.6 127.4h0M99.3 114.9h0M93.5 97.6h0M93.7 84.9h0M94.7 117.7h0M99.6 135.5h0M99.2 116h0M98.3 93.7h0M101.2 106.8h0M101.9 95.2h0M94.6 130.1h0" stroke="#C43C66" stroke-opacity="0.56" stroke-width="2" stroke-linecap="round" fill="none"/>
<path d="M99.6 82.3h0M97.9 134.9h0M96.1 119.9h0M100.9 100.2h0M96.1 138.6h0M101.6 135.5h0M98.9 99h0M102 99.5h0M101.2 81.7h0M95.8 112.1h0M96.9 128.8h0M95.9 123.4h0M101.7 85.1h0M102 90.4h0M99.7 115h0M102.1 89.5h0M101.5 93h0M98.6 135.9h0M100.4 93.5h0M97.4 79.2h0M93.4 103.5h0M95.1 117h0M97 88.4h0M97.9 118.3h0M94.8 104.2h0M98.3 133.1h0M95 125.2h0M93.7 91h0M95.5 120.1h0M95.1 81.1h0M94.1 101h0M99.6 107.8h0M100 106.8h0M93.4 117.8h0M96.1 122.3h0M101.9 111.6h0M100.4 109.9h0M94.3 86.2h0M93.3 105.4h0M99.9 125h0M100.5 118.3h0M101.1 124.8h0M93.8 93.9h0M95.6 108.6h0M97.8 107.3h0M101.8 81.7h0M97.5 102.6h0M98.7 117.5h0M97.2 90.8h0M98.9 133.1h0M98.3 102.8h0M98.1 103.7h0M97.9 136.9h0M99.5 118.3h0M97.1 136.8h0M97.9 114.7h0" stroke="#C43C66" stroke-opacity="0.56" stroke-width="2" stroke-linecap="round" fill="none"/>
<path d="M92.9 89.1h0M96.3 120.8h0M100.8 89.6h0M98.8 79.1h0M96.5 82.4h0M95.7 121.7h0M100.8 126.4h0M101 112.6h0M100.1 113.6h0M93 101.1h0M94.6 132.4h0M100.3 128.6h0M95.3 118.6h0M101.9 135.5h0M95.9 81.9h0M94.8 78.4h0M93.5 113h0M94.9 91h0M95 101.5h0M99.2 126.9h0M100.6 114.8h0M93.7 79.9h0M93.4 91.4h0M93.5 118.7h0M98.4 94h0M94.9 100.2h0M93.8 108.5h0M92.8 132.9h0M95.7 96.7h0M98.3 121.1h0M95.8 99.6h0M99.1 83.1h0M100.2 109.3h0M98.6 107.5h0M93 102.8h0M100 87.8h0M102.2 125.9h0M96.8 95.2h0M94.4 88.4h0M99.8 99h0M102.3 81.9h0M95.9 107.5h0M93.2 124.7h0M100.7 130h0M101.5 128.5h0M99.4 90.8h0M93.1 91.6h0M101.4 77.5h0M93.8 135.5h0M95.4 102h0M100.7 107.7h0M100.1 90.1h0M97.1 97.2h0M97.5 94.6h0M95 116.2h0M96.8 85.6h0" stroke="#C43C66" stroke-opacity="0.56" stroke-width="2" stroke-linecap="round" fill="none"/>
<path d="M100.8 115.4h0M99.5 133h0M95.9 77.6h0M92.9 87.4h0M94.1 86.6h0M100.3 80h0M100.8 101.1h0M100.4 83h0M96.6 109.3h0M92.9 82.4h0M97.5 80.6h0M99.6 118.7h0M95.8 102.6h0M100.8 129.3h0M93.1 119.1h0M101.3 95.3h0M93.6 135.5h0M92.9 107.7h0M92.6 111.4h0M101.4 128.5h0M98 87.3h0M94.9 83.6h0M94.6 89.3h0M96.8 136.8h0M97.2 126.1h0M93.7 134h0M98 94.9h0M96.2 78.3h0M96.8 116.1h0M101.7 121.6h0M96.5 83.2h0M94.3 96.1h0M96.4 77.6h0M96.6 88.4h0M98.7 91.5h0M96.9 90.7h0M95.2 115.8h0M93.1 123.9h0M98.8 86.2h0M96.7 84.4h0M94.9 127.5h0M93.2 82.5h0M93.7 115.4h0M92.9 98.1h0M100.9 88.2h0M101.3 125.2h0M95.7 97.8h0M93.6 100.1h0M101.5 85.8h0M99.8 138h0M92.9 87.5h0M95.1 136.2h0M98.9 113.6h0M94.2 95.7h0M95.9 85.5h0M99.7 129.7h0" stroke="#C43C66" stroke-opacity="0.56" stroke-width="2" stroke-linecap="round" fill="none"/>
<path d="M104 77.6L104.5 77.6L111 78.1L116.1 81.2L121.2 85.3L123.9 89.3L124.3 94.4L125.3 99.6L122.7 104.7L124.7 109.8L123.3 113.8L124.7 117.9L124.3 123L125.9 128.1L125.2 131.5L124.6 134.5L121.5 136.8L115.4 138.3L104 138.3Z" fill="#C43C66"/>
<rect x="102.2" y="95.6" width="2.1" height="25.4" fill="#fff" fill-opacity="0.75"/>
<rect x="102.2" y="95.6" width="2.1" height="25.4" fill="#C43C66" fill-opacity="0.2"/>
<path d="M102.2 109.5H104.3" stroke="#C43C66" stroke-width="0.8"/>
<path d="M144.1 111h0M142.5 89.6h0M140.1 53.8h0M137.8 107.7h0M143 69.7h0M143.3 79.2h0M140 29h0M138.9 61.4h0M136.2 88.7h0M137.5 98.6h0M143.2 88.2h0M142.5 99.1h0M142.5 137.1h0M140.3 81.1h0M139.6 67.3h0M138.6 55.1h0M140.4 132.4h0M137.5 82.7h0M139.6 87.6h0M136.5 88.2h0M145.3 126.2h0M136.1 88.7h0M138.5 26.5h0M141.4 84.1h0M140.1 67.1h0M144.1 26h0M143.9 41.9h0M135.9 77.2h0M144.1 73.6h0M142.4 90.3h0M137 52.5h0M144 67.4h0M139.2 133.8h0M145.4 119.9h0M136.7 69h0M136.7 77.8h0M139.7 98.1h0M139.8 62.4h0M141.1 61.5h0M144.6 26.6h0M137.8 60.6h0M144.8 89.4h0M142.3 98.8h0M142.1 105.1h0M140.1 102.2h0" stroke="#37B473" stroke-opacity="0.56" stroke-width="2" stroke-linecap="round" fill="none"/>
<path d="M142.7 82.9h0M141.3 132h0M139.3 60h0M136.1 84.5h0M138.7 98.9h0M140.9 110.2h0M138.8 112.7h0M139.4 65.7h0M141.9 81.3h0M138.9 55.3h0M137.5 115.5h0M138 137.7h0M136 25.8h0M143.4 111.7h0M141.9 61.5h0M139.9 35.9h0M139.4 85.5h0M141 85.6h0M139.6 98.4h0M136.6 108h0M145.2 98.1h0M144.6 45.8h0M137.8 117.4h0M135.9 85.4h0M142.1 135.7h0M140.1 96.7h0M138.6 88.8h0M141.8 137.3h0M143.7 61.2h0M143.2 44.5h0M136.8 120.9h0M143.8 41.6h0M137.8 100.6h0M135.8 118.4h0M137.8 135.2h0M143.5 32.5h0M142.7 108.1h0M137.5 69.9h0M141.5 114.9h0M137 128.7h0M138.4 55h0M137.8 66.4h0M138.5 121.5h0M144.7 124.3h0M140.7 51h0" stroke="#37B473" stroke-opacity="0.56" stroke-width="2" stroke-linecap="round" fill="none"/>
<path d="M144.5 120.7h0M139 59h0M141.1 57.1h0M144.1 85.2h0M143.4 57.1h0M140.3 119.6h0M144.9 42.6h0M136.5 87.3h0M142 105.4h0M141.3 38.8h0M140.3 137.3h0M142.6 106.2h0M142.3 133.9h0M136.5 133.8h0M136.2 110.9h0M136.4 134.4h0M144.5 121.8h0M137.2 50.9h0M138 98.2h0M144.4 134.7h0M140.4 58.2h0M144.2 30.5h0M138.8 109.4h0M144.4 135.5h0M143.6 36.2h0M144.5 117.8h0M141.1 52.9h0M138.7 127.7h0M135.8 58.2h0M141.9 126.7h0M137.9 112.4h0M143.2 82.2h0M144.6 61.2h0M142.3 81.4h0M141.3 113.1h0M144.6 65h0M143.2 48.1h0M138.7 37.6h0M144.6 93.1h0M137.3 77.8h0M136.8 87.5h0M142.4 94.9h0M142.9 118.8h0M144.8 63h0M143.6 132.5h0" stroke="#37B473" stroke-opacity="0.56" stroke-width="2" stroke-linecap="round" fill="none"/>
<path d="M138.1 112.9h0M143.3 98.1h0M138.7 129.5h0M139.6 125.6h0M136.6 28h0M144.2 63.9h0M139.4 60.4h0M140.2 65.3h0M145.3 134.2h0M141.9 55.7h0M143 42.3h0M136.9 73.7h0M142.3 101.2h0M142.3 110.7h0M144.2 118.2h0M137.7 93.8h0M139.4 60h0M140.4 131.9h0M140.8 136.6h0M141.6 78.1h0M139.7 61.6h0M140.5 57h0M142.7 92.4h0M137.4 122.4h0M140.6 114.4h0M145.4 28.8h0M136.9 114.3h0M144.8 121.1h0M140.6 90.5h0M144.4 53.7h0M139.4 23.6h0M141.6 62.2h0M139.8 137.9h0M141.4 120.3h0M142.6 107.8h0M144.3 55.8h0M143.5 109.4h0M137.1 102.1h0M141.2 110.4h0M141.8 79.1h0M143.6 106.9h0M139.4 56.2h0M138.9 108.6h0M140 129.1h0M140.2 120.1h0" stroke="#37B473" stroke-opacity="0.56" stroke-width="2" stroke-linecap="round" fill="none"/>
<path d="M140.6 58.3h0M142.6 124.6h0M136.3 125.1h0M135.8 131.5h0M136 72.3h0M142.6 89.5h0M143.1 38.8h0M137.5 109.2h0M142.4 115.6h0M137.5 34.8h0M141.9 137.5h0M137.8 113.5h0M144.6 59.6h0M137.1 47.1h0M136.8 47.7h0M138.5 116h0M142.3 95h0M138 108.8h0M142.3 88.4h0M141.6 62.4h0M142.6 38.5h0M140.6 26.9h0M143.5 123.7h0M145.1 132.2h0M137.7 135.8h0M139.2 26.3h0M140.8 99.4h0M140.3 84.5h0M135.8 125.6h0M140.9 76.5h0M144.9 80.4h0M143.5 115.8h0M137.7 66.3h0M138.5 120.2h0M138.9 62.5h0M143.4 58.3h0M141.1 98.1h0M142.6 33.4h0M138.9 125.9h0M137.8 30.6h0M144.6 130.1h0M144.8 104.8h0M141.2 95.1h0M136.9 109.9h0M137 48.5h0" stroke="#37B473" stroke-opacity="0.56" stroke-width="2" stroke-linecap="round" fill="none"/>
<path d="M139.5 86.8h0M136 92.7h0M138.4 97.5h0M142.1 111.4h0M144.4 64.7h0M137.3 138h0M138.6 108.2h0M141.9 133.9h0M137.7 120.5h0M144.1 85.3h0M142.8 122.6h0M137.8 42.4h0M143.5 86h0M142.5 64.7h0M145.3 116.3h0M138.8 28.7h0M142.3 24.2h0M138.1 57.9h0M145.4 67.3h0M141.1 73.6h0M140.1 103.3h0M138.6 67h0M139.5 136.7h0M136.3 80.1h0M141.6 67.8h0M145.4 135.2h0M137.6 70.5h0M144.1 62.5h0M142.8 126.5h0M139.4 130.7h0M141.5 33.8h0M137 54.6h0M140.4 91.6h0M137.2 116.1h0M140.1 77.9h0M135.8 90.6h0M141.6 59.5h0M137.4 125.4h0M136.6 100.4h0M140.7 57.2h0M137.1 25.9h0M143.8 51.8h0M144.8 135.6h0M140.3 98.1h0M135.8 119.5h0" stroke="#37B473" stroke-opacity="0.56" stroke-width="2" stroke-linecap="round" fill="none"/>
<path d="M143.2 99.2h0M141.1 81.7h0M140.7 55.1h0M136.9 51.8h0M141.7 64.5h0M142.6 102.6h0M145.4 52.7h0M141 83.6h0M136 109.2h0M139.3 96.2h0M141.3 98.8h0M141 31.6h0M136.4 95.1h0M137.4 97h0M135.9 87.8h0M144.7 78.7h0M142.5 107.5h0M136.4 34.2h0M139.9 71.2h0M142.7 119.7h0M144.5 97.7h0M142.7 71.3h0M143.7 120.5h0M139 91.8h0M142 103.1h0M145.5 108.5h0M142.9 76.4h0M141.7 59.3h0M143 48.9h0M144.3 126.1h0M144.2 96.1h0M142 126.3h0M137.2 98.2h0M145.4 45.8h0M143.2 40h0M137.8 127h0M143.4 122.3h0M143.2 112.2h0M136.9 122h0M142.1 99.9h0M145 124.7h0M143.4 116.2h0M140.5 37.8h0M139.9 114.3h0M138.7 29.5h0" stroke="#37B473" stroke-opacity="0.56" stroke-width="2" stroke-linecap="round" fill="none"/>
<path d="M137.7 50.9h0M141.3 128.5h0M142.1 120.9h0M137 70.6h0M137.1 101.7h0M137.4 95.4h0M142 112.1h0M139.4 32.3h0M138.4 129.5h0M143.9 89.6h0M136.2 44.5h0M138.9 138.3h0M143.8 112.6h0M140.1 91.4h0M141.2 120.3h0M140.6 54h0M138 130.1h0M138.2 78.9h0M139.9 83.4h0M142.7 51.6h0M143.3 43.1h0M141.5 105.3h0M144.3 118.2h0M137.8 107.9h0M139.3 80.4h0M141.6 47.1h0M138.3 132.6h0M136.3 123.6h0M140.8 137h0M144.7 135.9h0M144.2 57h0M136.4 32h0M139.8 54.5h0M135.9 37.1h0M137 83.2h0M138.9 62.5h0M142.2 85.4h0M139.9 71.6h0M137.7 84.3h0M140.1 128.9h0M135.8 60.7h0M139.4 104.6h0M139.9 101.7h0M143.4 121h0M139.3 109.1h0" stroke="#37B473" stroke-opacity="0.56" stroke-width="2" stroke-linecap="round" fill="none"/>
<path d="M139.9 81.5h0M143 77.1h0M141.3 88.8h0M142.1 63.7h0M145.4 62.9h0M136.4 77.9h0M140.7 106.7h0M143.7 101.2h0M143.8 67.4h0M145.4 86.4h0M142 122h0M138.7 61.4h0M142.1 135.9h0M137.7 113.6h0M137.1 135h0M140.7 59h0M141.8 118h0M142.2 109h0M141.1 91.6h0M137 33.2h0M137.5 116.9h0M141.2 103.4h0M144.6 117.1h0M136.9 98.2h0M145.4 135h0M142.8 47.4h0M143.6 66h0M144.3 122.3h0M138 96.5h0M141.5 133.3h0M143.4 121.6h0M141 60.8h0M141.7 37.4h0M145.1 110.5h0M144.8 47.2h0M139.5 134h0M137.3 135.6h0M142.1 79.2h0M139 91.5h0M144.9 115h0M139.3 71.9h0M141.1 108.3h0M138.1 89.2h0M137.6 91h0M145.4 134.7h0" stroke="#37B473" stroke-opacity="0.56" stroke-width="2" stroke-linecap="round" fill="none"/>
<path d="M145.3 53.6h0M143.3 82.1h0M140.5 123h0M139.3 118.9h0M138.5 52.5h0M140.3 90.4h0M145 108.7h0M143.8 28.9h0M142.4 106.1h0M143.1 119.6h0M137.4 71.8h0M137.4 59.9h0M142.7 64.9h0M137.5 103.7h0M140.4 40.9h0M136 68.1h0M137.6 48.5h0M145.2 26.4h0M143.7 111.7h0M136.5 78h0M141.4 100.2h0M136.5 119.5h0M144.5 34.2h0M144.9 125h0M143.3 36.4h0M135.9 60.5h0M142.7 84.8h0M143.1 45h0M139.3 67.7h0M139.3 88.4h0M145.3 47.7h0M144.6 31h0M138.7 102.8h0M139.6 86.7h0M143.2 56.1h0M139.3 86.6h0M137.6 95.5h0M140 120.5h0M143.9 130.2h0M140 47.3h0M144.9 30.9h0M137.5 133.3h0M137.7 74.8h0M138.7 23.5h0M144.7 92.3h0" stroke="#37B473" stroke-opacity="0.56" stroke-width="2" stroke-linecap="round" fill="none"/>
<path d="M140.8 91.1h0M138.7 136.2h0M139.8 90.2h0M137.5 86.4h0M144.6 75.5h0M139.3 119h0M141 129.2h0M137.5 58h0M142.3 42.6h0M136 121h0M138.3 79.8h0M139.2 49.9h0M145.5 30.9h0M144 125.8h0M137.6 55.8h0M140.4 84.5h0M144.5 119.1h0M138.3 38.4h0M137.4 104.5h0M140.1 124h0M140.9 74.2h0M136.2 109h0M143.6 43.4h0M135.9 41.4h0M141.9 103.1h0M136.9 34.7h0M138.4 113.8h0M136.4 109.3h0M136.6 121.1h0M141.6 126.8h0M140.8 88.2h0M143.3 102.2h0M141.1 40.6h0M136.4 45.5h0M138 104.6h0M139 106.5h0M138.9 114.5h0M138.4 72.1h0M136 116.2h0M139.6 76.5h0M142.7 114.1h0M140.6 88.2h0M137.5 63.7h0M145.5 70.5h0M140.7 115.8h0" stroke="#37B473" stroke-opacity="0.56" stroke-width="2" stroke-linecap="round" fill="none"/>
<path d="M145.4 59.4h0M136.5 83.4h0M143.3 93.1h0M137 128.5h0M141 63.8h0M137.6 123.6h0M145 60.1h0M141.8 105.3h0M143.3 41.1h0M144.8 117.1h0M136.8 43.5h0M143.4 57.8h0M141.6 137.7h0M142.7 98.2h0M138.3 54.5h0M144.3 126.3h0M136.1 138.4h0M138.1 117h0M143.7 28.5h0M140.5 54h0M145.4 37.6h0M145 71.5h0M143.5 119.1h0M141 119.8h0M141 69.1h0M136.6 131.2h0M140.8 40h0M137.8 74.5h0M143.8 51.1h0M141.1 75h0M140.3 113.2h0M145.1 75h0M136.4 138.2h0M136.2 135.7h0M145 41.4h0M137.3 128.4h0M135.9 113.2h0M144.7 28.9h0M142.7 107.2h0M137.5 91.4h0M138.5 26.6h0M138.1 117.1h0M145 35.7h0M139.4 92.6h0M142.1 97.6h0" stroke="#37B473" stroke-opacity="0.56" stroke-width="2" stroke-linecap="round" fill="none"/>
<path d="M136.8 108.6h0M141.6 79.1h0M142.2 53.6h0M141.7 136.3h0M142.1 106.5h0M139 128.1h0M141.2 86.8h0M140.7 30.4h0M136.9 90.5h0M144.4 25.1h0M140.9 43.7h0M144 135h0M137.8 25.7h0M140.6 65.2h0M136.5 128.3h0M138.7 121h0M143.4 122.7h0M140.7 86.8h0M135.8 100h0M141.4 37.8h0M144.1 26.6h0M144.5 130.3h0M139.8 103.6h0M141.9 33.8h0M138.3 131.8h0M139.4 45.3h0M144.4 27h0M142.3 103.8h0M136.2 65.1h0M145.2 97.9h0M140 101.3h0M139.9 98h0M143.9 51.8h0M140.4 73.4h0M140.6 62h0M142.6 130.5h0M142.6 40.5h0M140 93.3h0M137.8 130.7h0M139.2 38.3h0M141.2 126.5h0M137.7 73.3h0M136.7 125.4h0M137.4 83.9h0M137.2 90.5h0" stroke="#37B473" stroke-opacity="0.56" stroke-width="2" stroke-linecap="round" fill="none"/>
<path d="M144.4 42.3h0M138.3 125.7h0M135.9 106.4h0M137.1 99.8h0M140.4 109.7h0M144.1 101.8h0M144 84h0M136.6 38.2h0M139.3 136.2h0M137.8 47.7h0M141.3 134.3h0M136.5 119.7h0M139.3 63.7h0M143.9 110.6h0M140.2 28.5h0M139.5 109.3h0M135.9 123.2h0M141.5 32.4h0M142.5 99.9h0M138.6 107.3h0M140.9 50.7h0M140.1 73.1h0M141.9 63.4h0M143.3 136.9h0M141 116.2h0M139.4 128.5h0M141.1 99.2h0M141.7 124.6h0M143 134.8h0M136.7 97.1h0M138.3 64.4h0M136.4 88.8h0M137.2 68.1h0M143.9 133.6h0M136.8 81.7h0M143.1 113.1h0M143 47h0M142.3 38.8h0M138.1 84.9h0M141.8 86.6h0M141.6 67.6h0M143.1 51.9h0M144.1 59.8h0M142.5 38.4h0M139.9 65.1h0" stroke="#37B473" stroke-opacity="0.56" stroke-width="2" stroke-linecap="round" fill="none"/>
<path d="M141.3 84.8h0M141.1 88.3h0M142.9 135.3h0M140.4 48.6h0M142.3 123.2h0M144.9 64.6h0M136.9 128.2h0M138.7 64.9h0M140.7 27.2h0M136.2 134.6h0M141.9 33.7h0M136 78.3h0M144.3 138.5h0M142.2 137.3h0M140.5 75.9h0M137.6 119.8h0M139.7 99.6h0M137.8 46.2h0M142.9 86.4h0M137.9 90.3h0M136 100.5h0M144.5 76.2h0M137.6 93.9h0M143.4 57.8h0M143.1 69.6h0M140.3 90.3h0M142.5 106.4h0M144.6 54.9h0M136.2 113.4h0M140.4 47.8h0M138.4 125.8h0M145.2 92.7h0M141.2 60.7h0M141.4 133.5h0M139.4 136.8h0M144.7 39.4h0M140.4 43.1h0M138.8 102.4h0M138.1 95.6h0M144.9 111.3h0M145.2 78.1h0M139.7 122.4h0M136.8 95.6h0M144.6 109.9h0M139.8 82.7h0" stroke="#37B473" stroke-opacity="0.56" stroke-width="2" stroke-linecap="round" fill="none"/>
<path d="M138.8 127.3h0M139.3 76.2h0M136.8 115.2h0M144 93h0M143 103.6h0M142.2 44.3h0M142.8 89.2h0M143.4 44.3h0M136.8 94.8h0M142.4 88h0M138.4 55.6h0M145.4 47.9h0M137.7 103.7h0M141.2 99h0M141.3 104.3h0M141.1 74.6h0M144.9 102.7h0M141.4 99.4h0M137.3 77.7h0M145.5 99.4h0M138.6 48.5h0M141.2 87h0M138 109.1h0M141.1 80.4h0M138.9 32.7h0M144.6 110.3h0M137.3 86.1h0M136.6 110.6h0M143.5 90.1h0M137.9 49.3h0M139.2 37.1h0M137.1 87.2h0M138.4 112.1h0M145.4 81.1h0M139.3 65.6h0M145.3 84h0M137.3 47.9h0M141.5 86.5h0M135.9 94.6h0M144.9 88.3h0M140.9 32.1h0M136.9 39.6h0M142.3 84.8h0M141.6 45.6h0M140.9 27.6h0" stroke="#37B473" stroke-opacity="0.56" stroke-width="2" stroke-linecap="round" fill="none"/>
<path d="M146.8 23.9L152.8 23.9L153.6 28.8L155.4 37.5L157.7 44.6L156.6 51.6L157.2 58.6L157.7 65.6L157.2 72.6L157.2 80L158.9 85.3L159.8 90.5L158 97.5L157.2 102.8L158 108L159.4 113.3L158.9 118.6L157.7 125.6L158.9 130.9L159.8 136.1L159.5 137.5L146.8 137.5Z" fill="#37B473"/>
<rect x="144.4" y="57.6" width="2.8" height="52.9" fill="#fff" fill-opacity="0.6"/>
<rect x="144.4" y="57.6" width="2.8" height="52.9" fill="#37B473" fill-opacity="0.2"/>
<path d="M144.4 85.7H147.2" stroke="#37B473" stroke-width="0.8"/>
<path d="M178 113.5h0M181.9 52.7h0M182.3 69.8h0M179.3 104.1h0M186.4 119.5h0M185.2 37.6h0M180.9 105h0M187.8 68h0M180.4 49.2h0M186.5 133.2h0M186.4 131.3h0M179.7 115.1h0M180.3 119.2h0M180.8 84.4h0" stroke="#FDE321" stroke-opacity="0.55" stroke-width="2" stroke-linecap="round" fill="none"/>
<path d="M185.5 76h0M182.3 59.2h0M185.8 83.4h0M186.2 129.3h0M187.4 130.3h0M184.5 110.7h0M187.9 89.3h0M178.1 46h0M185.3 60.5h0M183.2 91.2h0M185.1 122h0M179 94.7h0M178.7 130h0M185.4 114.8h0" stroke="#FDE321" stroke-opacity="0.55" stroke-width="2" stroke-linecap="round" fill="none"/>
<path d="M185.6 32.3h0M181.1 133.2h0M182.8 50.7h0M182.4 63.5h0M183.5 123.8h0M178.6 28.3h0M179.7 121.4h0M185.3 107.5h0M181.6 112.2h0M183.4 94.2h0M184 120.1h0M184.7 130.3h0M178.8 71.8h0M182.9 71.4h0" stroke="#FDE321" stroke-opacity="0.55" stroke-width="2" stroke-linecap="round" fill="none"/>
<path d="M182.8 43.4h0M182.2 50.5h0M179.2 106.3h0M182.1 75.9h0M186.7 58.4h0M183.9 99.3h0M179.3 122.6h0M184.9 119.5h0M187.8 52h0M181 40.4h0M187.2 127.8h0M179.8 133.6h0M181.7 115.9h0M186.9 61.6h0" stroke="#FDE321" stroke-opacity="0.55" stroke-width="2" stroke-linecap="round" fill="none"/>
<path d="M181.5 39.5h0M181.3 94.8h0M181.9 135.8h0M179.5 35.3h0M181.8 132.2h0M182.5 76.9h0M182.6 102.5h0M181.9 89.8h0M181.2 25.5h0M178.5 59.4h0M179.9 62.6h0M185.7 47.7h0M184.7 125h0M184.2 116h0" stroke="#FDE321" stroke-opacity="0.55" stroke-width="2" stroke-linecap="round" fill="none"/>
<path d="M182.4 38h0M184.2 111.8h0M181.6 49.1h0M187.1 136.5h0M181.8 88.7h0M179 54.4h0M181.9 78.9h0M183.7 27.2h0M179.3 113.5h0M186.6 125h0M178 135.8h0M179.2 95.7h0M178.8 101.5h0M185.8 126h0" stroke="#FDE321" stroke-opacity="0.55" stroke-width="2" stroke-linecap="round" fill="none"/>
<path d="M180.3 89h0M180.2 88.8h0M180.5 82.4h0M180 33.4h0M187.2 71.7h0M182.2 93.9h0M178.9 25.8h0M181.6 123.2h0M178.5 85.5h0M179.8 103.8h0M183.2 36.4h0M182.3 94.3h0M186.1 126.8h0M181.2 98.7h0" stroke="#FDE321" stroke-opacity="0.55" stroke-width="2" stroke-linecap="round" fill="none"/>
<path d="M185.2 92.4h0M186.8 117h0M182.7 119.7h0M186.2 63.3h0M180.3 107.6h0M187.7 35.3h0M181.6 120.4h0M180.7 88.7h0M184.4 105.6h0M182.1 118h0M187.3 59h0M180.3 113.7h0M185 29.1h0M185.1 94.7h0" stroke="#FDE321" stroke-opacity="0.55" stroke-width="2" stroke-linecap="round" fill="none"/>
<path d="M181.4 110.8h0M182.9 114.2h0M184.1 92.1h0M180 104.2h0M179.5 131.6h0M182.2 128.2h0M184.7 89.7h0M187.7 103.4h0M187 116.5h0M186.2 124.7h0M186.2 75.9h0M183.7 28.3h0M184.6 129.2h0M185.3 92.5h0" stroke="#FDE321" stroke-opacity="0.55" stroke-width="2" stroke-linecap="round" fill="none"/>
<path d="M185.7 122.7h0M179.2 67.4h0M181.6 45.7h0M187.5 70.7h0M179.4 106.7h0M183.1 114.5h0M183.8 100.2h0M181.9 111.9h0M178.1 57h0M186.4 119.4h0M185.1 43.9h0M182.7 120.2h0M180 111.1h0M182.6 27.9h0" stroke="#FDE321" stroke-opacity="0.55" stroke-width="2" stroke-linecap="round" fill="none"/>
<path d="M185.5 72.5h0M184.7 113.3h0M186.2 36.6h0M183 83.2h0M186.1 72.5h0M185.2 138.5h0M182.7 73.3h0M183.7 97.6h0M186.8 54.5h0M179 45.9h0M180.3 30.9h0M178.5 85.4h0M182.5 135.3h0M183.9 41.4h0" stroke="#FDE321" stroke-opacity="0.55" stroke-width="2" stroke-linecap="round" fill="none"/>
<path d="M178.9 57.4h0M178.5 70.1h0M186.5 68.7h0M186.7 99.6h0M185.2 124.1h0M180.5 61h0M185.1 115.4h0M180.8 37.3h0M180.1 107.7h0M180.4 128.5h0M186.3 109.7h0M178.4 36h0M186.7 36.4h0M182.1 39.9h0" stroke="#FDE321" stroke-opacity="0.55" stroke-width="2" stroke-linecap="round" fill="none"/>
<path d="M186 113.8h0M184.8 110.1h0M187.5 122.4h0M179.2 58h0M179.1 78.8h0M185.5 136.4h0M178.1 93.2h0M183.3 30.7h0M182.7 110.3h0M179.7 113.1h0M179.1 82.6h0M182.3 54h0M184.6 59h0" stroke="#FDE321" stroke-opacity="0.55" stroke-width="2" stroke-linecap="round" fill="none"/>
<path d="M185.6 73h0M185.2 29.2h0M179.3 87.4h0M183.1 47.6h0M185.9 62.7h0M185.8 93.7h0M178.1 69.1h0M179.6 137.1h0M180.3 82.5h0M178.1 134h0M184.3 122.1h0M178.5 57.3h0M184 52.9h0" stroke="#FDE321" stroke-opacity="0.55" stroke-width="2" stroke-linecap="round" fill="none"/>
<path d="M181.6 25.1h0M187.3 48.4h0M187.5 61.2h0M182 60.1h0M178.9 55h0M186.7 115.6h0M187.5 137.2h0M184.1 44.1h0M185.3 117.2h0M178.9 125.3h0M181.3 118.7h0M180.4 134.7h0M187.2 114.5h0" stroke="#FDE321" stroke-opacity="0.55" stroke-width="2" stroke-linecap="round" fill="none"/>
<path d="M186.8 80.8h0M187.3 111.7h0M178.6 79.7h0M182.9 115.1h0M180.7 47.8h0M180.3 59.7h0M183.9 112.6h0M186.9 31.8h0M178.5 66.4h0M179 138.1h0M184.9 106.6h0M182.6 132.9h0M182.4 31.2h0" stroke="#FDE321" stroke-opacity="0.55" stroke-width="2" stroke-linecap="round" fill="none"/>
<path d="M189.5 23.9L197.4 23.9L198.3 30.5L197.4 37.5L199.2 44.6L198.3 51.6L199.2 58.6L200.9 67.4L203.5 74.4L203.5 80L200.9 85.3L199.7 92.3L200 99.3L201.8 106.3L202.7 113.3L200.9 120.4L200 127.4L198.3 132.6L193.9 137L191 137.9L189.5 137.9Z" fill="#FDE321"/>
<rect x="186.2" y="56.8" width="3.4" height="52.2" fill="#fff" fill-opacity="0.5"/>
<path d="M186.2 85.3H189.6" stroke="#FDE321" stroke-width="0.8"/>
</g>
<g transform="translate(223 0)">
<g font-family="Liberation Sans, sans-serif" stroke-linejoin="round">
<text transform="translate(0.6 5.7) scale(0.95 1)" font-size="9" font-weight="bold" fill="#000">B</text>
<path d="M29.4 18V144.4H216.8" stroke="#111" stroke-width="1" fill="none"/>
<path d="M27.2 138.4H29.4" stroke="#222" stroke-width="1.2"/>
<text transform="translate(26.9 141.6) scale(0.835 1)" font-size="8.9" fill="#2a2a2a" stroke="#2a2a2a" stroke-width="0.25" text-anchor="end">0.00</text>
<path d="M27.2 109.8H29.4" stroke="#222" stroke-width="1.2"/>
<text transform="translate(26.9 113) scale(0.835 1)" font-size="8.9" fill="#2a2a2a" stroke="#2a2a2a" stroke-width="0.25" text-anchor="end">0.25</text>
<path d="M27.2 81.2H29.4" stroke="#222" stroke-width="1.2"/>
<text transform="translate(26.9 84.4) scale(0.835 1)" font-size="8.9" fill="#2a2a2a" stroke="#2a2a2a" stroke-width="0.25" text-anchor="end">0.50</text>
<path d="M27.2 52.6H29.4" stroke="#222" stroke-width="1.2"/>
<text transform="translate(26.9 55.8) scale(0.835 1)" font-size="8.9" fill="#2a2a2a" stroke="#2a2a2a" stroke-width="0.25" text-anchor="end">0.75</text>
<path d="M27.2 24H29.4" stroke="#222" stroke-width="1.2"/>
<text transform="translate(26.9 27.2) scale(0.835 1)" font-size="8.9" fill="#2a2a2a" stroke="#2a2a2a" stroke-width="0.25" text-anchor="end">1.00</text>
<path d="M55 144.4V146.6" stroke="#222" stroke-width="1.2"/>
<text transform="translate(55 154.6) scale(0.885 1)" font-size="8.4" fill="#2a2a2a" stroke="#2a2a2a" stroke-width="0.25" text-anchor="middle">1</text>
<text transform="translate(55 162.6) scale(0.885 1)" font-size="8.4" fill="#2a2a2a" stroke="#2a2a2a" stroke-width="0.25" text-anchor="middle">n=812</text>
<path d="M97.7 144.4V146.6" stroke="#222" stroke-width="1.2"/>
<text transform="translate(97.7 154.6) scale(0.885 1)" font-size="8.4" fill="#2a2a2a" stroke="#2a2a2a" stroke-width="0.25" text-anchor="middle">2</text>
<text transform="translate(97.7 162.6) scale(0.885 1)" font-size="8.4" fill="#2a2a2a" stroke="#2a2a2a" stroke-width="0.25" text-anchor="middle">n=754</text>
<path d="M140.5 144.4V146.6" stroke="#222" stroke-width="1.2"/>
<text transform="translate(140.5 154.6) scale(0.885 1)" font-size="8.4" fill="#2a2a2a" stroke="#2a2a2a" stroke-width="0.25" text-anchor="middle">3</text>
<text transform="translate(140.5 162.6) scale(0.885 1)" font-size="8.4" fill="#2a2a2a" stroke="#2a2a2a" stroke-width="0.25" text-anchor="middle">n=559</text>
<path d="M183.2 144.4V146.6" stroke="#222" stroke-width="1.2"/>
<text transform="translate(183.2 154.6) scale(0.885 1)" font-size="8.4" fill="#2a2a2a" stroke="#2a2a2a" stroke-width="0.25" text-anchor="middle">4</text>
<text transform="translate(183.2 162.6) scale(0.885 1)" font-size="8.4" fill="#2a2a2a" stroke="#2a2a2a" stroke-width="0.25" text-anchor="middle">n=207</text>
<text transform="translate(7.5 74.1) rotate(-90)" font-size="7.75" fill="#111" stroke="#111" stroke-width="0.2" text-anchor="middle">Lacune Percentile</text>
</g>
<path d="M54.5 35.1h0M55.1 49.8h0M51 34.7h0M55 41.4h0M57.7 25.9h0M58 46h0M50.9 23.8h0M53.1 24.4h0M58.2 74.2h0M52.6 76.2h0M58.7 25.3h0M54.2 40h0M57.2 34.9h0M54.9 26.3h0M52.9 28.2h0M51.3 26.8h0M58.3 54.4h0M57.8 29.8h0M53.9 23.8h0M52.9 27.3h0M54.8 70.8h0M52 35.2h0M52.2 33.4h0M55.3 40h0M56.4 34.6h0M59.1 39.3h0M59.2 62.1h0M53.2 34.2h0M50.4 40.8h0M59 44h0M57 70h0M52.6 61h0M51.6 41.1h0M51.5 62.3h0M51 40h0M53.9 25.8h0M59.5 26.8h0M50.5 33.6h0M56.1 30.7h0M53.4 71h0M55.1 43h0M51 41.1h0M58 49.1h0M53.7 33.2h0M56.2 55.4h0M58.3 29.3h0M51.1 39.6h0M59.9 45.6h0M54.3 36h0" stroke="#213791" stroke-opacity="0.56" stroke-width="2" stroke-linecap="round" fill="none"/>
<path d="M58.1 23.5h0M58.6 108.4h0M55 76.9h0M56.4 59.5h0M54.1 25.6h0M52.8 43.1h0M50.6 35.1h0M55.5 39.8h0M53.3 67.1h0M59 46h0M53.4 65.9h0M55.8 88.1h0M59.4 65.6h0M55.7 57.2h0M57.4 30.1h0M55.1 80.5h0M51.3 25.9h0M58.9 43.3h0M54.1 24.2h0M51.1 51h0M58.1 69.7h0M57.5 115.5h0M54.5 58.9h0M57.3 36.3h0M53.4 68.1h0M52.6 32.8h0M58.8 25.8h0M56.7 59.2h0M56.3 68.9h0M50.1 76.8h0M53.6 114.1h0M52.4 30.8h0M58.8 41.1h0M59 69.7h0M57.1 45.4h0M56.2 47.8h0M59.1 53.8h0M58.1 67.7h0M52.4 45.5h0M57.3 59.8h0M52.6 23.9h0M58.3 57.2h0M51.1 26.9h0M50.8 27.4h0M57.5 52.6h0M53.2 72.6h0M51.3 41.3h0M60 61.3h0M57.2 32.8h0" stroke="#213791" stroke-opacity="0.56" stroke-width="2" stroke-linecap="round" fill="none"/>
<path d="M57.2 52h0M57.1 39.3h0M54.1 63.4h0M59.9 32.6h0M53.5 94.6h0M51.1 42.9h0M52 65.9h0M54.1 80.3h0M58.7 103.5h0M57.5 34.2h0M59.1 28.7h0M55 28.9h0M51 65.7h0M59.6 25.7h0M59.7 27.5h0M59 75.7h0M54.1 41.2h0M51.1 40.8h0M54.5 27h0M54.8 41.5h0M53.5 55.1h0M52.8 53.2h0M56.3 39.1h0M56.7 57.8h0M54.1 59.9h0M50.5 38.5h0M53.3 37.5h0M59.7 38.3h0M53.5 33.2h0M56 48h0M50.6 66.5h0M57.2 34.8h0M54 48.4h0M53.1 87.4h0M59.5 42.2h0M52.8 42.3h0M57.2 28h0M58.6 32.6h0M58.9 28.9h0M56.4 115.8h0M55.3 52.1h0M59.4 64.4h0M58.4 50.5h0M53.6 46.9h0M54.3 63.8h0M52.7 63.5h0M50.3 83.3h0M57.6 67.5h0M52.4 45.1h0" stroke="#213791" stroke-opacity="0.56" stroke-width="2" stroke-linecap="round" fill="none"/>
<path d="M53.1 32.2h0M54.4 86.2h0M53.6 31.8h0M57.5 42.2h0M57.5 24.1h0M53.1 77.6h0M53.1 86.2h0M53.3 50.5h0M55 83.6h0M54.3 29.4h0M51 36.6h0M58.9 27.2h0M58.4 27.9h0M55.5 28.4h0M53.7 25.5h0M56 23.5h0M51.1 71.4h0M50.8 58.4h0M51 26.5h0M52 37.5h0M53.2 27.9h0M50.6 27.7h0M51.9 48.2h0M59 42.6h0M53.6 83.2h0M58.1 68.7h0M55.6 28.5h0M56.2 78.3h0M57.9 32.2h0M53.7 38.7h0M58.5 62.3h0M53.9 27.3h0M57.4 58.5h0M54.4 24.9h0M52.3 69.4h0M53.7 61h0M59.8 51.4h0M57.2 101.6h0M58.9 42.7h0M56.4 53.7h0M54.8 26.5h0M55.1 43.4h0M52.7 52.7h0M58.7 57.1h0M58.4 77.5h0M50.4 30.3h0M53.1 25.8h0M56.8 32.1h0M50.5 25.3h0" stroke="#213791" stroke-opacity="0.56" stroke-width="2" stroke-linecap="round" fill="none"/>
<path d="M57.2 28h0M54.6 73.6h0M58.4 24.7h0M55.1 36h0M50.6 62.6h0M50.2 136.7h0M60 77.4h0M54.5 26h0M54.1 59.2h0M51.1 91.2h0M59.7 26.8h0M58.7 36.2h0M51.4 73.3h0M59.8 63.1h0M58.5 59.6h0M51.2 118.6h0M57.1 33.9h0M59.6 26h0M51 37.4h0M55.4 66.7h0M55.6 35.5h0M54.3 80.6h0M50.4 50.3h0M58 44.4h0M50.4 69.6h0M52.9 58.2h0M54.7 36h0M53 28h0M58.8 28.3h0M52.2 40.7h0M53.4 28.1h0M57.2 33.7h0M54.4 51.6h0M55.5 40.2h0M54.3 37.9h0M50.4 58.1h0M51.8 24.2h0M59.9 86.1h0M52.7 82.5h0M55.6 47h0M55.3 53.7h0M52.5 37.3h0M55.7 58.6h0M53 70.2h0M55.8 24.7h0M50.5 73h0M52.5 43.2h0M50.8 73.4h0M57.8 75.6h0" stroke="#213791" stroke-opacity="0.56" stroke-width="2" stroke-linecap="round" fill="none"/>
<path d="M53.7 61.6h0M56.5 47.5h0M57.3 28.1h0M52.5 45.5h0M50.7 30.6h0M53 62.2h0M55.3 57h0M53.1 35.8h0M58.4 55.1h0M59.2 29.9h0M54.2 85h0M52.5 48.7h0M50.6 31.3h0M58.6 66.4h0M58.3 125.2h0M53.9 50.2h0M57.2 90.1h0M58 42.3h0M60 50.9h0M55.9 63.4h0M55 70.2h0M55.3 33.5h0M56.3 86.2h0M57.6 37.7h0M53.1 31.7h0M50.3 80.9h0M51 34.5h0M56 44.4h0M59.6 43h0M59.4 95.2h0M56.8 32h0M56.4 25.7h0M51.1 55.9h0M50.9 31.4h0M52.4 84.5h0M56 47.5h0M56.8 49.9h0M52.4 48.9h0M57.7 24.5h0M54.7 53.7h0M55.3 33.1h0M55.2 27.5h0M58.8 30.8h0M53.1 34.1h0M50.7 33.4h0M58.1 29.5h0M50.6 26.8h0M51.5 68.8h0M54.1 110.3h0" stroke="#213791" stroke-opacity="0.56" stroke-width="2" stroke-linecap="round" fill="none"/>
<path d="M53.4 76.7h0M51.9 26.4h0M59.7 31.3h0M52.2 24.1h0M50.6 38.9h0M54.9 35.3h0M58.9 27.7h0M58.9 24.7h0M56.3 58.3h0M53.7 44h0M59.5 36.1h0M59.9 83.3h0M50.2 51.3h0M58.2 31.9h0M55.6 36.3h0M53.7 54.8h0M53.8 60.7h0M55.1 31.2h0M51.9 48.1h0M51.4 39.2h0M53.4 37h0M56.3 52.7h0M56.1 57.3h0M58.9 60.6h0M58.3 77.5h0M57.3 54.1h0M59 42.8h0M58.7 26.8h0M56.3 24.9h0M59.3 72.8h0M54.9 24.8h0M50.9 25.6h0M58.8 37.2h0M57.1 46.2h0M57.3 74.6h0M57.5 54.4h0M54 26.9h0M53.2 30.2h0M59.7 25.3h0M50.5 28.2h0M56.7 67.9h0M53.9 26.9h0M56.4 75.2h0M54.5 24.1h0M50.8 25.6h0M56.9 57.4h0M51.4 37.5h0M55.3 56.7h0M56 68.1h0" stroke="#213791" stroke-opacity="0.56" stroke-width="2" stroke-linecap="round" fill="none"/>
<path d="M57.6 83.9h0M52.1 67.3h0M59.7 114.5h0M54.1 31.9h0M54.3 33.4h0M59.1 35.4h0M51.5 58.2h0M51.5 52.3h0M58.2 38.3h0M58.2 51.2h0M56.6 30.3h0M57.7 35.8h0M55.6 66.9h0M51.4 50.8h0M54.2 39h0M57.8 65.9h0M57.5 28.7h0M56.3 122.8h0M51.6 27.3h0M56.8 53.7h0M51.6 58.9h0M51.8 37.2h0M52 80.6h0M50.3 41.3h0M55.9 30.5h0M58 51.3h0M57.9 112.9h0M53.5 45.3h0M58.3 76.5h0M55 44h0M57.3 56.9h0M56.1 38.5h0M58.2 38.6h0M50.3 60.6h0M51.2 72h0M54.1 35.5h0M58 29.4h0M55.2 70.8h0M55.4 45.4h0M57.4 49h0M57.2 79.4h0M59.2 28h0M55.7 46.5h0M53.5 28.2h0M55.2 76.7h0M59.8 27.9h0M50.6 71.7h0M59.4 49.1h0M58.8 46.7h0" stroke="#213791" stroke-opacity="0.56" stroke-width="2" stroke-linecap="round" fill="none"/>
<path d="M54.1 67.4h0M57.6 47h0M54.8 32.5h0M50.9 32.1h0M51.7 48.9h0M53.7 59.1h0M58.7 35h0M57.5 63.7h0M53.3 44.3h0M51.2 47.6h0M50.8 74.3h0M59 126.5h0M53.8 59.5h0M50.3 32h0M50.1 27.6h0M54.2 36.8h0M52.8 43.2h0M52 26.2h0M52.3 72.5h0M51 99.1h0M53.9 88.5h0M59.7 72.8h0M53.6 28.9h0M54.8 88.2h0M59.4 44.5h0M52.1 54.3h0M55.4 102.9h0M59.9 90.9h0M55.9 26.7h0M52.6 52.2h0M51.6 35.5h0M58.7 30.6h0M58.6 60h0M55 99.2h0M50 61.6h0M50.6 34h0M58.5 24h0M52.3 23.7h0M50.2 49.6h0M50.9 69.7h0M51.6 67.4h0M57 44.1h0M56.8 111.9h0M51.3 28.4h0M51.9 69.3h0M51.8 49.5h0M57 32.1h0M56.8 35.4h0M50.1 55.6h0" stroke="#213791" stroke-opacity="0.56" stroke-width="2" stroke-linecap="round" fill="none"/>
<path d="M54.5 36.9h0M56.4 37.6h0M50.2 40.2h0M59.1 48.5h0M58.4 82.2h0M57.7 36.4h0M55.9 39.2h0M55.4 24.9h0M52.6 56.3h0M55.5 49.1h0M51.6 62.9h0M50.1 31.5h0M52.4 67.2h0M57.6 136.1h0M50 26.6h0M50.1 53.2h0M58.7 45.3h0M55.2 50.3h0M55.7 50.5h0M58.7 51.7h0M59.6 61.8h0M58.4 27.7h0M56.9 44.8h0M51.5 89.6h0M59 35.6h0M56 52.8h0M58.1 27.2h0M50.6 28.5h0M54.4 59h0M54.4 24.6h0M54.6 70.2h0M51 83.5h0M50.5 42h0M57 25h0M53.7 33.2h0M59.5 59h0M56.9 26.8h0M59.9 35.2h0M50 23.9h0M54 73.1h0M52.9 69h0M58 31.9h0M57.7 55.8h0M52.1 68.8h0M59.9 29.7h0M52.3 31.7h0M51.1 69.4h0M50.6 32.1h0M50.9 30.6h0" stroke="#213791" stroke-opacity="0.56" stroke-width="2" stroke-linecap="round" fill="none"/>
<path d="M52.9 47.5h0M53.3 65.4h0M55.3 33.7h0M56.3 38.8h0M53.3 37.1h0M55.5 35.6h0M51.3 66.9h0M56.6 53h0M56.6 37.8h0M56.7 42.9h0M56.9 36.6h0M50 71.1h0M54.8 35.1h0M51.4 40.5h0M50.9 30.9h0M57.5 67.2h0M50.6 49.5h0M56.7 24.5h0M57.5 31h0M55.8 85.2h0M56 39.3h0M50.3 32.6h0M53.7 25.9h0M54.9 130.1h0M55.5 29.8h0M55.8 61.6h0M50.8 23.6h0M58.9 29h0M50.8 78.8h0M54.2 37.5h0M56.7 47.3h0M55.8 66.2h0M58.3 47.6h0M52.3 134.1h0M53.2 48.2h0M56.9 88.2h0M52.6 45.1h0M51.4 124h0M50.4 37.3h0M50.4 69.6h0M50.4 60.5h0M52 69h0M52.7 23.5h0M55.4 64.2h0M52.8 47.6h0M53 37.6h0M50.4 51.9h0M59.3 30.8h0M52.9 78.2h0" stroke="#213791" stroke-opacity="0.56" stroke-width="2" stroke-linecap="round" fill="none"/>
<path d="M57.3 36.3h0M50.4 49.9h0M55.3 29.4h0M54.6 30.3h0M54.3 53h0M50.3 56.5h0M50.7 132.9h0M59.6 24.6h0M51.8 39.6h0M59 43.2h0M55.5 24.1h0M51.8 73.5h0M52.1 28.6h0M56 91.9h0M57.4 27.1h0M53.3 29.9h0M58.8 24.8h0M50 33.2h0M51.7 35.3h0M55.5 37h0M58.8 38.4h0M55.3 27.4h0M55.4 36.7h0M57.4 37.5h0M58.2 73.6h0M55.3 91.1h0M55.9 35.5h0M59 61h0M53.2 95.4h0M51.1 52.3h0M53.8 63.8h0M50.1 45.2h0M58.7 32.1h0M55.3 85.9h0M55.8 54.2h0M53.7 30.6h0M58.4 45.6h0M60 52.3h0M58.6 31.1h0M58.6 53.4h0M53.3 28.6h0M55.6 34.2h0M59.5 47.1h0M50.4 26.9h0M57.2 27.5h0M55.2 55.1h0M53.1 89.3h0M59.9 52.1h0M54.2 39.4h0" stroke="#213791" stroke-opacity="0.56" stroke-width="2" stroke-linecap="round" fill="none"/>
<path d="M54.3 78.1h0M52.1 27h0M55.3 28.2h0M52 43.5h0M59.3 39.3h0M50.3 29.5h0M51.3 63.6h0M51.3 42.5h0M57.7 74.9h0M53.6 63.2h0M58.4 72.9h0M52.1 28.4h0M51.8 42.4h0M54.5 37.5h0M59.9 82.4h0M54 44.2h0M55.8 29.3h0M56.8 91.9h0M55.6 29.2h0M58.6 72h0M54.7 45.8h0M54.1 46.3h0M55.9 28.4h0M55.4 44.7h0M55 35.4h0M57.2 35.7h0M53.9 38.6h0M54 57h0M51.2 133h0M52.5 70.3h0M55.9 30.1h0M51.1 64.7h0M56.3 69.7h0M57.4 41.5h0M55.9 49.5h0M52.5 29h0M53.6 55.6h0M50.5 79.2h0M59.5 75.1h0M54.1 37.3h0M58.6 29.8h0M50.4 34.5h0M55.7 28.3h0M55 36.8h0M54.1 51.6h0M58.9 68.6h0M58.8 47h0M54.7 52.1h0" stroke="#213791" stroke-opacity="0.56" stroke-width="2" stroke-linecap="round" fill="none"/>
<path d="M55.1 31.9h0M52.1 125.3h0M57 24.8h0M50.3 52.1h0M57.3 59h0M52.2 34.3h0M52.7 51.3h0M56.1 37.9h0M52.4 36.1h0M51.9 27.5h0M53.8 62.8h0M57.1 43.8h0M59.6 105.7h0M51.3 27.2h0M50.6 67.2h0M52.3 63.8h0M52.7 33.3h0M54.2 32h0M56.9 99.1h0M56.3 31.6h0M58.3 25.2h0M54.3 29.3h0M51.2 35.8h0M58.6 34.5h0M52.6 24h0M54.6 29.9h0M51.3 72.8h0M59.7 39.6h0M52.5 41h0M54 67.2h0M56.6 34.3h0M55.1 34.6h0M57.4 62.3h0M53.8 66.6h0M57.8 53.3h0M51.6 38.4h0M57.1 48.4h0M57.9 62.2h0M52.8 24.8h0M52 63.3h0M51.3 79.8h0M51.5 25.6h0M59.9 92.4h0M56.7 25.4h0M53.3 26.6h0M56 68.6h0M57.8 30.9h0M51.6 60.2h0" stroke="#213791" stroke-opacity="0.56" stroke-width="2" stroke-linecap="round" fill="none"/>
<path d="M50.8 46.4h0M53 40.2h0M52 35.4h0M54.4 25.4h0M55.4 29h0M51.1 41.4h0M57.4 37.3h0M52.9 42.8h0M56.7 38.2h0M59.4 115.3h0M54.4 39.7h0M59.5 75.4h0M54.9 56.8h0M54.1 30.5h0M51.6 48.2h0M52.2 46.1h0M59.3 28.2h0M57.7 61.4h0M58.3 56.5h0M57.6 29.6h0M51.4 93.6h0M54.6 92.2h0M50.7 56h0M55.5 36.9h0M58.1 45.6h0M56.5 81.5h0M52.5 34.5h0M50.5 50.8h0M52.1 36.6h0M55.7 42.9h0M54.5 57.4h0M58.1 25.4h0M54.9 75.9h0M52.5 25.9h0M54.6 55.7h0M58.6 64.7h0M54.4 70h0M54.4 45.4h0M56.2 69.3h0M57.8 45.7h0M56.4 124.3h0M56.3 27.5h0M55.5 23.5h0M56.9 26.5h0M50.3 40.3h0M52.7 46.1h0M53.9 61.6h0M50.7 31.3h0" stroke="#213791" stroke-opacity="0.56" stroke-width="2" stroke-linecap="round" fill="none"/>
<path d="M50.7 29.2h0M54.8 91.9h0M59.7 39h0M50 38.7h0M53.7 26h0M53.8 72.1h0M53.9 43.6h0M50.4 41.9h0M54.3 43.5h0M55.7 45.5h0M50.8 39.6h0M56 58.1h0M50.1 35.9h0M50.3 62.6h0M50.7 43.5h0M53.6 62.2h0M56.4 40h0M54.9 62.7h0M57.6 39.5h0M55.2 35.2h0M58.7 36.2h0M52 34.1h0M54.4 52.2h0M56.3 40h0M59.7 24.7h0M57 31.6h0M57.1 25.8h0M59.6 68.3h0M57.5 106.1h0M54.8 46.6h0M56.2 51.2h0M56.8 41.9h0M51 37.1h0M50.1 23.8h0M55 36.8h0M55.9 37.9h0M50.4 70.5h0M54.3 28.4h0M52.4 97.7h0M59.5 34.1h0M56.8 29.9h0M58.4 49.4h0M50.5 48.9h0M57.4 52h0M59.8 41.2h0M54 64.4h0M58.9 28.4h0M57.5 26.1h0" stroke="#213791" stroke-opacity="0.56" stroke-width="2" stroke-linecap="round" fill="none"/>
<path d="M62.4 45V80" stroke="#213791" stroke-width="1.2" stroke-opacity="0.85"/>
<path d="M62.4 80V137.4" stroke="#213791" stroke-width="0.9" stroke-opacity="0.38"/>
<path d="M61.6 24.1L65.4 24.1L66.3 27L68.5 27.4L77 28.4L83.6 29.1L77 29.9L69 30.9L67.8 31.3L66.3 32.9L68.5 34.2L69.5 35.2L68 36.3L66.6 37.5L65.1 40.5L64.3 44.6L63.7 50.4L63.4 59.8L61.6 59.8Z" fill="#213791"/>
<rect x="59.3" y="32.3" width="2.3" height="11.1" fill="#fff" fill-opacity="0.6"/>
<path d="M58 34H61.6" stroke="#fff" stroke-width="0.9"/>
<path d="M95.7 39.1h0M92.8 37.9h0M93.8 24.9h0M100 53.3h0M95.8 73.6h0M98.7 31.8h0M102 57.1h0M100.6 26.8h0M99.4 29.5h0M100.5 45.1h0M101.1 26.6h0M93.7 35.5h0M99.3 67.6h0M99.5 56.5h0M97.6 26h0M100.7 26.6h0M94.9 126.1h0M100.2 30.3h0M93.2 64.9h0M99.8 40.9h0M97.8 45.6h0M97.1 38.5h0M97.8 56.4h0M93 33.2h0M93.5 78.7h0M93.2 29.3h0M93.3 36.8h0M97.1 35.8h0M97.6 29.3h0M99 52.5h0M95.9 25.2h0M96.6 39h0M100.6 30.7h0M94.5 59.7h0M92.9 26.7h0M95.4 53.2h0M94.5 68.2h0M99.8 68.2h0M96 56.7h0M98.2 25.3h0M97 43.1h0M102 34.5h0" stroke="#C43C66" stroke-opacity="0.56" stroke-width="2" stroke-linecap="round" fill="none"/>
<path d="M101.4 66.3h0M94.8 29.7h0M99.1 39.6h0M95.7 70.9h0M93.1 29h0M98.9 35.9h0M99.7 28.5h0M101 46h0M96 35.9h0M96.1 57.7h0M102.6 41.7h0M102 37.9h0M97.2 58.2h0M97.1 36.9h0M99 58.1h0M95.9 33.5h0M93.9 91.1h0M93.9 81.3h0M97.6 30.8h0M94.1 25.6h0M100.7 61.4h0M94.9 28.6h0M96.8 40.8h0M93.2 44h0M94.3 73.6h0M102 68.9h0M96.1 53.4h0M93.8 33.1h0M93.4 27.2h0M96.9 63.6h0M96.2 40h0M98.7 41.3h0M102.5 28.6h0M99.4 48.2h0M95.8 28.3h0M95.8 37.6h0M97.5 30.3h0M95.4 69.7h0M96.2 45.6h0M95.2 63.9h0M93.2 48h0M99.3 91.7h0" stroke="#C43C66" stroke-opacity="0.56" stroke-width="2" stroke-linecap="round" fill="none"/>
<path d="M97.7 45.4h0M95.7 42.6h0M101 33.2h0M94.7 39h0M102.5 70.1h0M101.6 30.1h0M100.8 44.2h0M95.3 72.1h0M96.4 24.8h0M94.1 76.5h0M93.5 121h0M98.3 66.9h0M93.3 31.5h0M100 60.8h0M94 27.5h0M99.1 63.8h0M96.6 60.4h0M93.8 46.9h0M94.3 61.1h0M96.6 33.3h0M98.3 37.7h0M100.5 35.6h0M93.3 26.1h0M95.3 35.6h0M98.6 50.1h0M95.7 43.4h0M95.5 38.6h0M97.9 48.2h0M101 72.5h0M99.5 36.8h0M96.4 125.9h0M98.2 32.5h0M100.5 28.6h0M99.1 44.5h0M97.2 44.7h0M94.9 51.3h0M94.2 37.6h0M94 65.7h0M95.2 25h0M97.7 30.6h0M100 38.2h0M97.5 60.3h0" stroke="#C43C66" stroke-opacity="0.56" stroke-width="2" stroke-linecap="round" fill="none"/>
<path d="M99 54.7h0M98.1 42.1h0M99.3 25.9h0M95.9 29.7h0M98.2 28.1h0M98.2 39.4h0M98.6 29.9h0M94.2 39.7h0M93 31.2h0M94.6 30.1h0M101.8 34.9h0M100.5 41.1h0M95.1 61.4h0M92.9 23.9h0M93.1 35.3h0M97.8 61.7h0M101.8 121.5h0M98.3 29.5h0M101 69.4h0M99 33.4h0M101.6 105.7h0M98.9 26.5h0M100.3 39.7h0M95.3 34.7h0M98.3 30.5h0M94 26h0M100.1 38.6h0M96.6 33.6h0M96.4 50.2h0M95.3 33.6h0M93.8 54.1h0M98.9 79.6h0M95 78.5h0M102.4 33.5h0M93.2 106.9h0M94.9 30.2h0M93.6 39.2h0M93.8 24h0M96.8 28.2h0M95.3 32.4h0M97 26.9h0M100.4 35.7h0" stroke="#C43C66" stroke-opacity="0.56" stroke-width="2" stroke-linecap="round" fill="none"/>
<path d="M97.6 39.9h0M98.6 77.4h0M100.1 33.2h0M99.3 31h0M98 68.6h0M98 32.5h0M93.8 41.4h0M95.3 62.1h0M101.2 63.8h0M95.2 31.7h0M93.6 81.6h0M98.6 27.5h0M98.5 26h0M96.5 35h0M99.7 34.1h0M98.2 35.3h0M99.2 49.1h0M101.3 48.5h0M96.6 49.1h0M99.8 30.2h0M98.4 48.9h0M95.4 52.5h0M101 61.6h0M98.6 40.4h0M95.1 100.5h0M98.4 48.2h0M99.7 24.2h0M97.9 36.1h0M93.4 32.5h0M101.9 29.4h0M100.6 38.2h0M93.3 65.9h0M97.5 27.1h0M97.2 34h0M99 76.1h0M93.1 75.3h0M96.6 37.3h0M101.8 25.7h0M101.8 27.8h0M95.4 32h0M95.5 41.3h0" stroke="#C43C66" stroke-opacity="0.56" stroke-width="2" stroke-linecap="round" fill="none"/>
<path d="M99.4 43.4h0M94 36.3h0M94.4 50.9h0M98.1 46.6h0M93.6 29.4h0M97.6 34h0M93.4 31.5h0M99.1 41.5h0M98.2 34.5h0M95.7 39.2h0M95.6 43h0M93.1 52h0M93.4 39.1h0M93.2 42.4h0M102.3 41.8h0M99.7 49.6h0M93.8 36.3h0M97.9 29.7h0M94.8 75.5h0M93.6 30.1h0M97.8 45.7h0M98.6 49.5h0M99.8 34.4h0M94 65.4h0M97.1 49h0M96.7 59h0M96.9 34.6h0M102 86h0M100.5 38.8h0M96.9 25.4h0M101.1 63.5h0M95.2 26.8h0M102.4 30.2h0M99.4 60.4h0M99 94.9h0M101.6 86.2h0M97.6 87.2h0M93.4 44.6h0M96.8 32.8h0M97 60.2h0M98.6 33.2h0" stroke="#C43C66" stroke-opacity="0.56" stroke-width="2" stroke-linecap="round" fill="none"/>
<path d="M101.3 53.9h0M99.1 56.5h0M95.5 25.8h0M93.6 51.5h0M99.7 30.8h0M99 40.2h0M99 71.9h0M94.7 24.8h0M99.9 85.8h0M102.4 41.8h0M100.4 29.6h0M93.8 49.3h0M96.6 34.7h0M97.1 63.1h0M101.4 50.9h0M94.7 60.7h0M93.6 50.7h0M100.7 34.7h0M92.9 32.5h0M95.7 49.5h0M95.9 63h0M93.2 57h0M101.8 45.1h0M96.2 29.1h0M101.2 35.7h0M95.2 36.9h0M102.6 34.8h0M94.4 24.3h0M100.5 114.6h0M100.7 54.1h0M93.3 33.8h0M98.9 67.5h0M97.6 67h0M102.2 25.6h0M96.9 32.8h0M97 29.3h0M94.6 51.3h0M101.8 66h0M100.9 41.6h0M100.4 80.8h0M94.6 46.8h0" stroke="#C43C66" stroke-opacity="0.56" stroke-width="2" stroke-linecap="round" fill="none"/>
<path d="M101 44.2h0M99.3 43.8h0M98 32.7h0M94.8 43.4h0M101.1 77.2h0M98.6 60h0M98.2 55.7h0M96.7 90.3h0M95.7 50.9h0M95.8 35.2h0M101.7 45.4h0M100.8 51.5h0M94.1 54.2h0M97.6 39h0M94.9 28.2h0M98.7 44.3h0M94.2 46.1h0M101.9 57.4h0M102.3 38h0M93.3 23.8h0M93.9 47.6h0M101.9 47.4h0M96.6 40.1h0M99.8 41.3h0M99.3 94.5h0M97.2 28.8h0M101.7 47.5h0M99.7 44.2h0M95 85h0M96.5 31.1h0M100.5 48.6h0M98.4 38.5h0M98.7 84.8h0M97.8 54.2h0M99.2 28.3h0M93.8 33.4h0M95.8 49.4h0M100 129h0M94.4 51.3h0M97.8 38.3h0M93.3 60.3h0" stroke="#C43C66" stroke-opacity="0.56" stroke-width="2" stroke-linecap="round" fill="none"/>
<path d="M100.7 27.5h0M98.2 35.7h0M97.5 32.9h0M96.1 30.4h0M95.7 31.5h0M100.9 39.2h0M100.6 27.9h0M95.9 81.5h0M101.1 24.5h0M97.9 66.7h0M97.4 37.9h0M100.2 69.1h0M101.8 65.2h0M100.8 81.6h0M102.1 31h0M93.1 31h0M95.5 41h0M96.9 38.6h0M100.9 52.5h0M102 40.4h0M100 33.8h0M97.8 83.9h0M99.5 35.5h0M94.5 31h0M93.8 30.1h0M93.1 42h0M100 25.4h0M96.9 73.3h0M96.4 49.2h0M100.6 30.3h0M101.8 48.5h0M101.7 23.9h0M97.6 29.4h0M98.2 56.2h0M98.3 26.5h0M101.4 39.8h0M101.6 33h0M95.4 85.1h0M97.3 70.1h0M94.6 36.8h0M101.1 50.2h0" stroke="#C43C66" stroke-opacity="0.56" stroke-width="2" stroke-linecap="round" fill="none"/>
<path d="M95.8 30h0M101.3 33.5h0M102.3 63.5h0M95.9 23.8h0M98.6 58.6h0M97 42.5h0M94.3 30.4h0M95.8 38.8h0M101.7 47.8h0M101.5 45.5h0M101.9 42.1h0M92.8 41.6h0M93 70h0M95.3 30.5h0M97.3 48.6h0M96.1 38.2h0M96 50.6h0M97.1 45.1h0M100 31.4h0M97.1 73.2h0M101.1 46.2h0M95.5 52.8h0M101 26.4h0M99.6 27.2h0M102.5 39h0M96.5 74.9h0M98.2 39.1h0M97.2 59.4h0M102 45.5h0M97.6 60.3h0M95.5 76.3h0M99.8 75h0M94.2 74.2h0M96.1 45.4h0M99.5 46.4h0M94.3 48.9h0M95 44.7h0M97.6 45.4h0M98.1 29.1h0M94.5 32.6h0M97.2 55.3h0" stroke="#C43C66" stroke-opacity="0.56" stroke-width="2" stroke-linecap="round" fill="none"/>
<path d="M99.9 40.5h0M94.4 28.8h0M94 47.1h0M101.4 120.5h0M97.8 29.4h0M97.4 28.9h0M96.9 34.9h0M98.6 32.8h0M97.6 38.1h0M92.8 26.2h0M94.2 81.2h0M93.9 39.8h0M96 43.5h0M98.1 31.8h0M94.9 29.4h0M93 24.1h0M100 33.3h0M99.2 72h0M96.6 49.6h0M93.8 34.2h0M95.2 30.8h0M102.3 36.9h0M94.2 44.2h0M99 46h0M92.8 29h0M95.9 31.5h0M93.3 26.5h0M100.3 123.5h0M96.5 27.2h0M100.6 54.2h0M98.7 44.1h0M102.1 64h0M102.4 34h0M98.9 32.6h0M99.3 35.1h0M95.6 31.6h0M94.4 68.4h0M100.4 32.8h0M99.7 41.9h0M95.3 30.3h0M95.7 25.5h0" stroke="#C43C66" stroke-opacity="0.56" stroke-width="2" stroke-linecap="round" fill="none"/>
<path d="M95 77.1h0M97.5 56.4h0M96.1 31.8h0M94.1 33.2h0M96.9 28.9h0M101.2 88.7h0M95.3 33.1h0M101.7 70h0M102.1 41h0M99.9 32.6h0M97.1 28.4h0M101.6 30.7h0M93.7 37.2h0M101.8 42.7h0M98 118.9h0M102.1 33.9h0M100.9 28.5h0M99.7 30.9h0M101.6 53.1h0M97.3 26.7h0M97.7 81.2h0M97 32.1h0M94.6 33.2h0M95 46.8h0M94 25.8h0M100.6 25.5h0M93.7 28h0M101.5 34.3h0M94.9 38.4h0M99.8 50.4h0M94.2 33.7h0M94.3 63.7h0M102.1 68.9h0M93.6 61.3h0M95.8 53h0M95.2 25.3h0M93 44.7h0M93.3 30.6h0M99.2 48.7h0M100 55h0M95.6 47.4h0" stroke="#C43C66" stroke-opacity="0.56" stroke-width="2" stroke-linecap="round" fill="none"/>
<path d="M94.7 30.8h0M96.5 24.3h0M93.3 58.5h0M94.7 73.2h0M96.7 46.6h0M101.8 40.2h0M102 49.7h0M100.9 23.9h0M97.7 48.6h0M96.5 31h0M94.4 23.9h0M96.9 32.3h0M95.9 75.3h0M101.2 29h0M97.3 40.4h0M101 102.2h0M101.6 55.5h0M97.1 59.5h0M98.5 64.2h0M94.2 84h0M101.3 41.5h0M96.5 35.2h0M101.3 33.9h0M97.8 46.7h0M97.4 39.6h0M98.8 28h0M99.5 39.2h0M102.4 76.3h0M96.4 40.9h0M98.5 46.9h0M97.2 70.2h0M97.3 64.8h0M98.7 24.6h0M98.4 55.7h0M101.2 42h0M98.2 39.6h0M94.1 64.6h0M97.8 47.9h0M95.8 25h0M95.6 53.3h0M101.6 75.7h0" stroke="#C43C66" stroke-opacity="0.56" stroke-width="2" stroke-linecap="round" fill="none"/>
<path d="M96.3 38h0M93.4 45h0M95.1 25.1h0M99.2 44.4h0M99.1 27h0M97.9 25.3h0M102 34.4h0M93.9 46.1h0M102.3 102.7h0M102.2 69.9h0M96.3 35.7h0M99.6 37.5h0M98.5 68h0M99.6 27.5h0M98.9 34.4h0M93.6 31.9h0M96.7 75h0M101.3 51.7h0M98.7 75.5h0M98.5 25.4h0M92.8 67.2h0M96.3 59.5h0M95.8 26.5h0M96.1 33.3h0M100.5 26.7h0M97 43.8h0M95.1 56.6h0M93.7 40.8h0M102 28.6h0M93.1 36.7h0M94.1 132.9h0M99.9 43.7h0M94.9 51.2h0M97.4 36.5h0M94.4 35.7h0M102.6 28.4h0M99.4 49.8h0M102.4 37.8h0M96.7 57.9h0M98.1 32.8h0M94.9 33.7h0" stroke="#C43C66" stroke-opacity="0.56" stroke-width="2" stroke-linecap="round" fill="none"/>
<path d="M98 74.5h0M98.7 70.2h0M95.3 38.7h0M94.4 43.1h0M95.4 67.4h0M100.8 37.6h0M102.5 44h0M98.1 41.2h0M97.9 72.2h0M100.8 52.8h0M95.5 32.2h0M92.9 58.7h0M100.2 78.3h0M97.4 39.3h0M97.3 29.6h0M93.1 53.8h0M99 71.1h0M97.2 30.6h0M97.9 48.9h0M98.9 44.1h0M97.7 35h0M97.8 44.3h0M99.8 33h0M98.8 30.7h0M98.4 52.3h0M96 74.7h0M95 48.4h0M94.5 73.5h0M93.8 42.4h0M93.8 24.3h0M95.8 40.9h0M99.6 44.1h0M101.8 66.3h0M97.7 56.4h0M100.3 40.6h0M93.1 24.7h0M96 34.8h0M93.6 24.6h0M102.2 30.9h0M97.7 28.7h0M99.4 34.2h0" stroke="#C43C66" stroke-opacity="0.56" stroke-width="2" stroke-linecap="round" fill="none"/>
<path d="M99.4 42h0M98.2 39.1h0M94.4 40.4h0M101 51.8h0M99 36.1h0M99.6 41.4h0M102.2 47.4h0M98.7 66.7h0M97.1 57.1h0M102.4 55.3h0M99.4 47.4h0M94.5 60.3h0M92.9 101.9h0M95.6 31.3h0M101.4 67.7h0M99.7 33.8h0M96.8 37.9h0M97 78.3h0M94.6 42h0M97.1 39.3h0M99.1 45.2h0M95.9 45.1h0M93.7 51.7h0M101.9 69.1h0M97.2 35.6h0M97.6 68.9h0M94.4 38.4h0M99.7 46h0M93.4 121.7h0M102 26.3h0M98.5 84.2h0M98.8 43.7h0M95.6 31.1h0M94.9 34.8h0M101.9 62.4h0M100.1 32.9h0M102.5 47.7h0M95.8 43.6h0M101.2 29.3h0M96.8 30.1h0M95.9 67.5h0" stroke="#C43C66" stroke-opacity="0.56" stroke-width="2" stroke-linecap="round" fill="none"/>
<path d="M104.9 45V80" stroke="#C43C66" stroke-width="1.2" stroke-opacity="0.85"/>
<path d="M104.9 80V134" stroke="#C43C66" stroke-width="0.9" stroke-opacity="0.35"/>
<path d="M104.3 24.1L105.8 24.1L106.6 26.4L110.7 27.6L116 28.4L123.6 29.1L116 29.9L110.7 31L109.5 32.3L114 34.4L116.5 35.2L113 36.2L110.7 37.5L107.8 40.5L106.6 44.6L106 50.4L105.8 57.4L104.3 57.4Z" fill="#C43C66"/>
<rect x="103" y="31" width="2" height="12.4" fill="#fff" fill-opacity="0.6"/>
<path d="M137.7 116h0M145.1 112h0M145.5 134h0M141.2 134.5h0M143 107.8h0M142.4 106.9h0M139.4 132h0M138.2 125.8h0M142.8 83.4h0M137.8 133.4h0M141 91.2h0M143.3 103.2h0M137.4 82.4h0M140.5 129.7h0M136.1 97.4h0M137.5 121.1h0M141.6 105.3h0M139 135h0M140.1 120.1h0M137 97.1h0M141.9 87.7h0M139.6 118.9h0M139.1 133.4h0M145.4 129.5h0M142.4 126.3h0M139.9 136.5h0M144.4 133.8h0M135.8 119.5h0M136.6 127.6h0M137.2 92.5h0M144.9 127.3h0M140.8 118h0M139.9 90.8h0M141.5 85.8h0M138.1 125.6h0M141.3 110.7h0M139.8 117.6h0M143.1 115.9h0M138.3 117h0M143.2 131.1h0M143.4 89.4h0M140.6 87.4h0" stroke="#37B473" stroke-opacity="0.56" stroke-width="2" stroke-linecap="round" fill="none"/>
<path d="M141.4 98.2h0M145.4 95.7h0M143.5 110h0M144.1 114.2h0M141.4 134.7h0M136.2 88.7h0M137.4 137.1h0M142.1 101.1h0M144.3 115.4h0M140.6 120.7h0M140.7 136h0M142.4 130.7h0M138.9 133.8h0M136.7 121.9h0M144.1 118.8h0M143.7 108.9h0M142.8 103.2h0M144 117.4h0M140.9 99.8h0M135.9 135.1h0M139.1 109.3h0M138 135.5h0M142.9 97.5h0M139.5 134.6h0M145 99.7h0M138.8 93.6h0M140.5 98h0M140.3 103.3h0M144.7 93.6h0M143.9 100.7h0M137.6 134.4h0M141.6 94.1h0M145.2 104.3h0M143.3 100.7h0M136.5 121.7h0M140.6 125.4h0M141.5 129.2h0M144.1 110.1h0M144.5 128.5h0M138.9 100.7h0M143.2 128.7h0M140.7 128.1h0" stroke="#37B473" stroke-opacity="0.56" stroke-width="2" stroke-linecap="round" fill="none"/>
<path d="M142.6 100.2h0M145.2 92.8h0M137.5 96h0M139.5 110.7h0M140.7 84.1h0M144.2 100.9h0M144.7 82.8h0M138.4 123.2h0M144.7 121.8h0M136.4 123.4h0M139 129.6h0M143.5 105.8h0M145.1 96.7h0M140.1 126.8h0M140.2 92.9h0M137.4 89.6h0M142.1 128.2h0M138.9 122.7h0M142.2 123.4h0M142.3 92.3h0M138.3 134.3h0M136.4 112.2h0M141 123h0M138.5 129h0M142.9 95.1h0M139.3 94.5h0M139.3 137.4h0M143.8 99.7h0M141.2 115.3h0M142.7 105.2h0M140.6 98.9h0M138.2 132h0M136.9 136.2h0M143.3 122.7h0M137 123.1h0M140.8 119.2h0M144.1 92.7h0M138.9 133.6h0M135.8 112.4h0M137.1 135.6h0M141.9 119.4h0M140.5 126.1h0" stroke="#37B473" stroke-opacity="0.56" stroke-width="2" stroke-linecap="round" fill="none"/>
<path d="M142.2 111.1h0M138 114.4h0M139.5 136.7h0M140.7 124.4h0M142 95.2h0M143.5 109.3h0M137 118.3h0M140.1 136.3h0M144.2 110.1h0M139.5 100.8h0M140.9 132.7h0M136.4 113.8h0M137.2 107.6h0M140.8 82.8h0M142.9 126.9h0M139.6 113.3h0M139.9 125.1h0M144.2 129.3h0M144.7 107.3h0M144 118.3h0M145.1 99.5h0M142.3 127.9h0M142.8 123.5h0M142.2 118h0M138 129.6h0M145.4 99.5h0M139 104.7h0M140.2 125h0M136.9 126.9h0M137.3 99.1h0M145.6 130.9h0M144.8 85.4h0M143 115.3h0M140.6 102.5h0M144 112.6h0M136.1 133.7h0M139.6 119.9h0M144.1 118.7h0M136.8 128.2h0M140.6 106h0M144.2 130.8h0M138 130.7h0" stroke="#37B473" stroke-opacity="0.56" stroke-width="2" stroke-linecap="round" fill="none"/>
<path d="M136 113.4h0M140.4 103h0M138.5 100.1h0M139.6 125.5h0M137.5 131.7h0M138.5 109.6h0M143.1 98.2h0M142.5 132.7h0M138.3 97.6h0M141.7 120.8h0M140.6 132.4h0M141.1 122.4h0M143.9 130.1h0M137.8 95.6h0M143.3 117.7h0M139.8 132.7h0M143.1 98.2h0M141.6 97.3h0M139.5 131.9h0M141.3 129h0M137.3 121.3h0M136.7 135.2h0M138.5 94.8h0M144.1 117.8h0M145 99.1h0M144.5 105.8h0M137.4 136.4h0M138.9 132.4h0M139.6 88.2h0M144.1 105.3h0M138.5 135.6h0M137.1 102.7h0M136 92.2h0M141.5 115.2h0M138.5 122.2h0M139.8 108.1h0M144.3 81.1h0M144.1 87.1h0M144.8 95h0M137.5 96.5h0M136 117.7h0" stroke="#37B473" stroke-opacity="0.56" stroke-width="2" stroke-linecap="round" fill="none"/>
<path d="M139.5 104h0M137.9 127.2h0M138.4 100.2h0M141.3 136.9h0M137.3 91.2h0M137.6 124.1h0M141.4 124.9h0M143.4 125.3h0M140.9 94.2h0M138.2 86.8h0M139.6 114.3h0M138.6 122.5h0M139.7 134.7h0M137.6 125.1h0M141.8 78.6h0M138.3 94.3h0M142.7 131.6h0M142.2 116.2h0M142.5 131.8h0M144.3 127.9h0M144.5 135.9h0M136.1 114.8h0M140 87.2h0M140.4 104.4h0M138 80h0M142.4 135h0M144.9 103.9h0M137.6 132.5h0M143.2 125.8h0M140.4 125.2h0M141.2 131.6h0M136.5 108.7h0M138.9 133.5h0M139.5 133.7h0M140.8 96.8h0M136.7 122.4h0M140.9 105.5h0M141.9 127.3h0M137 133h0M140.9 130.8h0M142.6 96.6h0" stroke="#37B473" stroke-opacity="0.56" stroke-width="2" stroke-linecap="round" fill="none"/>
<path d="M143.1 130h0M137.6 100.5h0M144.2 125.7h0M136.7 114.9h0M145.1 131.2h0M141.6 100.8h0M138.7 115.6h0M141.5 132.3h0M140.2 134.7h0M145.3 94.3h0M141.4 101.7h0M141.9 115.9h0M139.4 93.6h0M136.7 118.1h0M143.7 133.5h0M140.5 103.4h0M135.9 100.3h0M143 108.8h0M139.5 119.2h0M136.5 84.5h0M142.1 78.6h0M141.2 129.9h0M137.9 137.3h0M138.4 129.2h0M145.3 131.3h0M145.3 118h0M140.8 111.2h0M142.9 129.7h0M144.7 134.2h0M136.4 134.8h0M144.7 128.1h0M142.9 127.7h0M138.4 96.5h0M138.3 83h0M142.9 126.4h0M139.7 83.7h0M138.3 121.6h0M144.2 127h0M143.3 136.6h0M142.3 104.4h0M137 115.2h0" stroke="#37B473" stroke-opacity="0.56" stroke-width="2" stroke-linecap="round" fill="none"/>
<path d="M138.9 114.9h0M139.2 89.4h0M141.7 103.9h0M145.3 120.7h0M137.8 131.3h0M140.2 94.8h0M138.4 135.3h0M141.5 118.5h0M139.1 90.6h0M140.2 122.7h0M139 133.7h0M139.2 125.1h0M141.6 117.7h0M137.2 128.2h0M140.9 123h0M142.7 104.7h0M142.4 107.9h0M143.9 116.9h0M141.1 99.7h0M137.1 135.9h0M136.6 80.5h0M138.1 126.2h0M136.6 128.7h0M143.2 80h0M143.3 96.4h0M140.6 106.2h0M143.3 134.5h0M138.3 102.7h0M136.5 122.5h0M137.6 90.8h0M139.2 114.6h0M137.5 101.2h0M136.4 118.7h0M143.2 92.2h0M142.3 113.7h0M137.1 118.3h0M145.3 134.8h0M143.4 124h0M142.4 99.8h0M145.5 101.1h0M144.7 89.9h0" stroke="#37B473" stroke-opacity="0.56" stroke-width="2" stroke-linecap="round" fill="none"/>
<path d="M140.4 134.4h0M137.2 95.8h0M143.5 88.7h0M137.7 107.3h0M138.2 85.7h0M135.9 130.7h0M135.8 117.6h0M139.8 124.5h0M139.5 116.6h0M141.9 108.4h0M136.3 112.1h0M139.1 135.7h0M136.6 125.5h0M136.9 135.8h0M142 123.1h0M145.5 137.4h0M137.7 118.9h0M139 105h0M140.5 112.5h0M135.9 92.7h0M136.8 117.5h0M144.1 107.3h0M138.7 103.4h0M144.9 123.7h0M138.8 134.4h0M136.3 126.8h0M136.5 128.7h0M143.6 115.2h0M138.6 97.8h0M140.7 118.3h0M145 104.4h0M143.7 98.4h0M139.6 87.6h0M144.8 88.8h0M142.9 127.1h0M138.2 107.6h0M139.3 106.3h0M142.1 111.7h0M138.5 112.1h0M139.7 128.3h0M137.5 128.8h0" stroke="#37B473" stroke-opacity="0.56" stroke-width="2" stroke-linecap="round" fill="none"/>
<path d="M141.2 125.6h0M145.2 124.1h0M141.7 110.7h0M139.2 133.7h0M145.3 133.1h0M135.9 90.7h0M137.1 122.1h0M139.2 98.9h0M144.9 106.2h0M137.7 113.7h0M136.7 120.1h0M143.5 117.3h0M135.9 120h0M136.5 109.9h0M140.8 133.2h0M143 137.4h0M136.4 103.4h0M140 108.2h0M141.9 121.2h0M136.6 101.6h0M144 90.5h0M138.9 100.4h0M136.2 106.1h0M144 133.6h0M142.9 127.2h0M136.8 120.5h0M138.5 109.2h0M142.2 101.7h0M139.3 98.2h0M136.2 98.3h0M145.4 103.8h0M143.2 114.1h0M138.5 132.2h0M141 114.8h0M138.9 132.8h0M141.2 120.2h0M143.5 134.4h0M140.3 124h0M141.7 91.5h0M139.5 123.5h0M144.7 118.5h0" stroke="#37B473" stroke-opacity="0.56" stroke-width="2" stroke-linecap="round" fill="none"/>
<path d="M137.9 131.4h0M145.3 127.7h0M137.7 102.6h0M138.6 123.6h0M143.6 115.6h0M136.3 113.9h0M144.9 91.9h0M136 104.2h0M140.1 130h0M136.3 120.4h0M145.3 128.8h0M144.4 104.6h0M140.6 94.8h0M140.2 95.4h0M140.7 134.3h0M135.9 127.3h0M142.4 129h0M140.7 129.7h0M137.3 92.5h0M141.3 119.8h0M142 114.5h0M136.5 103.8h0M140.3 107.3h0M141.3 97.5h0M138.9 128.8h0M143.9 125.3h0M138.5 131.3h0M135.9 108.4h0M136 117.1h0M139.3 133.2h0M136.5 125.9h0M144 100h0M142.3 103.7h0M143.8 87.5h0M144.2 122.8h0M137.5 133.2h0M143.8 131.9h0M138.4 104.7h0M138.9 89h0M144.2 120h0M136.6 110.7h0" stroke="#37B473" stroke-opacity="0.56" stroke-width="2" stroke-linecap="round" fill="none"/>
<path d="M136.4 99h0M135.8 129.9h0M140.5 116.2h0M142.6 106.4h0M145.5 102.3h0M138.1 111.7h0M144.8 88.2h0M137.6 117.6h0M140.2 96.7h0M145 121.5h0M137.5 111.4h0M142.5 85.2h0M144.9 109h0M143.9 120.4h0M143.7 126.3h0M145.1 118.3h0M136.9 109.9h0M142.4 94.9h0M139.8 127.1h0M144.1 133.7h0M144.8 135.2h0M141.4 131.8h0M136.6 127.9h0M140.7 131.6h0M136.3 133.6h0M136.6 99.7h0M136.9 112.4h0M138.4 127.2h0M141.2 106.2h0M144 121.8h0M136.5 113.3h0M136.7 101.3h0M143.1 126h0M135.9 95.2h0M137.5 134.6h0M143.8 119.9h0M142.5 128.3h0M143.7 99h0M135.8 95.1h0M138.7 79h0M136.4 120h0" stroke="#37B473" stroke-opacity="0.56" stroke-width="2" stroke-linecap="round" fill="none"/>
<path d="M142.1 102.3h0M144.9 131.6h0M137.9 114.9h0M139.2 128.6h0M145.3 123.1h0M138.7 112h0M144 135.7h0M141.1 99.5h0M140.8 106.5h0M141.3 103.7h0M142.8 80.7h0M139.2 91.9h0M145.2 97.6h0M139.9 100.4h0M145.1 96.1h0M136.7 128.8h0M143.4 131.7h0M144.9 104.4h0M140.5 108h0M140.9 99.9h0M142.4 92.4h0M145.4 93.8h0M140.5 126.2h0M144.4 119.5h0M137.8 124.8h0M142.6 105.1h0M143.7 101.6h0M137.3 110.2h0M141.9 124.5h0M139.7 119.2h0M137.4 110.7h0M138.2 85.5h0M144.2 101.2h0M137.5 130.9h0M135.9 81.7h0M138 130.1h0M138.8 134.3h0M143.4 120.1h0M140.2 121.1h0M141.9 126.2h0M136.3 82.9h0" stroke="#37B473" stroke-opacity="0.56" stroke-width="2" stroke-linecap="round" fill="none"/>
<path d="M137.8 124.9h0M142.8 102.5h0M141 117.1h0M142.1 95h0M138.3 121.9h0M144 96h0M139.3 91.1h0M139.1 109.4h0M141.7 94h0M139 116.7h0M144.6 113h0M142 121.4h0M142.8 110.4h0M142.7 80.5h0M140.2 96.8h0M141.4 112.7h0M145.1 110.3h0M140 130.5h0M142.4 129.8h0M137.4 91.6h0M144.8 103.4h0M137.8 131.1h0M141.8 133.8h0M141.6 135.8h0M140.6 111.5h0M144.9 110.3h0M141.5 128.3h0M144 84.9h0M143 116.1h0M144.6 99.3h0M145 119.8h0M139.1 132h0M143.8 125.3h0M141.6 116h0M136.1 87.8h0M137.8 114.2h0M139.9 79.5h0M143.4 80.1h0M141.7 120.1h0M140.9 120.6h0M139.2 109.1h0" stroke="#37B473" stroke-opacity="0.56" stroke-width="2" stroke-linecap="round" fill="none"/>
<path d="M137 129.1h0M144.7 136.2h0M137.2 85.9h0M144.2 89.8h0M136.9 124h0M145.3 113h0M136.1 110.8h0M140.5 123.6h0M137.8 105.2h0M142.5 120.6h0M136 92h0M143.2 107.3h0M145.2 120.9h0M139.3 80.7h0M138.5 118.8h0M144.6 105.4h0M140.7 118.4h0M138.7 85.6h0M142.4 129.2h0M144 123.6h0M143.5 135.5h0M144.3 110.1h0M139.5 115.3h0M142.9 118.5h0M137.3 99.6h0M140.4 117h0M137.3 130.8h0M140.8 100.1h0M141.3 128.7h0M142.5 102.3h0M144 78.3h0M139.8 101.4h0M137.9 114.2h0M141.3 99.8h0M137.2 101h0M144.2 124.1h0M138.7 79.4h0M141.2 122.4h0M136.9 130.1h0M139 122.4h0M136.8 131.1h0" stroke="#37B473" stroke-opacity="0.56" stroke-width="2" stroke-linecap="round" fill="none"/>
<path d="M143.1 128.8h0M143.9 126.7h0M138.7 132.5h0M136.7 104.7h0M143.5 115.7h0M145.3 80.3h0M137.5 135.4h0M144.7 126.7h0M140.1 111h0M137.3 98.7h0M140.7 116.4h0M136.7 125.6h0M142 83.3h0M140.5 114.7h0M144.5 100.4h0M143 80.4h0M138.3 96.9h0M140 111.6h0M138 124.9h0M143.1 87h0M139.1 126.1h0M136.3 116h0M144.7 128.7h0M142.8 110.1h0M143.8 118.7h0M136.1 115h0M143.8 96h0M141.5 129.1h0M143.9 124.2h0M141.3 127.1h0M141.3 121.3h0M144.2 133.1h0M141 118.1h0M143.3 102.1h0M136.4 102.1h0M143.4 132.7h0M137.7 113.9h0M144.9 128.7h0M145 131.3h0M138.3 117h0M136.1 110.1h0" stroke="#37B473" stroke-opacity="0.56" stroke-width="2" stroke-linecap="round" fill="none"/>
<path d="M146.8 78.6L148 78.6L148.9 92L149.8 98L150.7 103L151.2 111.8L151.6 119.5L152.3 127L153 132.6L152.8 136L152.2 137L146.8 137Z" fill="#37B473"/>
<rect x="145" y="105" width="1.6" height="21" fill="#fff" fill-opacity="0.55"/>
<path d="M181.6 35.1h0M179.4 34.5h0M181.9 31h0M178.7 26.4h0M183.4 31.3h0M179.9 44.2h0M188.4 87.5h0M180.1 40.4h0M188.2 25h0M180.7 79.8h0M180.5 70.9h0M179.8 25.2h0M181.8 26.6h0M181.6 42.7h0" stroke="#FDE321" stroke-opacity="0.56" stroke-width="2" stroke-linecap="round" fill="none"/>
<path d="M184.2 40.3h0M186.2 36.7h0M180.6 28.2h0M188.5 33.1h0M185.9 41.4h0M187.9 101.5h0M185.4 33.7h0M180.6 108.4h0M181.5 40.3h0M183.3 30.5h0M179.7 38.4h0M179.5 39.4h0M188.2 27.9h0M183.3 33h0" stroke="#FDE321" stroke-opacity="0.56" stroke-width="2" stroke-linecap="round" fill="none"/>
<path d="M187.2 37h0M181.9 35h0M188.7 115h0M187.6 27.8h0M188.8 28.1h0M188.1 27.9h0M183.6 31.8h0M182.1 25.1h0M183 117.3h0M188.7 39.7h0M186.6 36.8h0M182.3 34.6h0M185 27.8h0M181.9 31.5h0" stroke="#FDE321" stroke-opacity="0.56" stroke-width="2" stroke-linecap="round" fill="none"/>
<path d="M187.2 32.3h0M188 36.3h0M188.3 26.6h0M181 43.4h0M179.7 32.2h0M183.9 24.8h0M182.6 41.6h0M183.5 28.4h0M182.2 69.2h0M187 73.8h0M183 29.1h0M186.5 27.2h0M187.9 39.2h0M184.9 54h0" stroke="#FDE321" stroke-opacity="0.56" stroke-width="2" stroke-linecap="round" fill="none"/>
<path d="M183.4 38.2h0M183.5 77.7h0M183.9 33.6h0M182.7 81.1h0M182.1 28.2h0M185.4 30.7h0M185.5 37.2h0M185.6 32.4h0M180.9 43.3h0M184.6 57.3h0M187.1 47.3h0M188.7 39.9h0M182.7 30.9h0M180.1 53.4h0" stroke="#FDE321" stroke-opacity="0.56" stroke-width="2" stroke-linecap="round" fill="none"/>
<path d="M182.1 39.8h0M187.6 34.1h0M187.6 43.8h0M184.6 36.5h0M183.5 42.1h0M183.1 34.9h0M186 29.3h0M183.3 53.5h0M181.2 42.9h0M183.9 24.3h0M182 34.5h0M181.8 33.3h0M184.8 34.1h0M188.5 42.6h0" stroke="#FDE321" stroke-opacity="0.56" stroke-width="2" stroke-linecap="round" fill="none"/>
<path d="M185.6 40.9h0M178.6 28.3h0M180.1 27.9h0M188.2 33.7h0M181.9 38h0M185.1 54.8h0M185.4 36.6h0M183.9 33.2h0M184.6 32.2h0M182.9 29h0M179.3 38.8h0M179.6 41.4h0M180.4 109.2h0M181.5 25.4h0" stroke="#FDE321" stroke-opacity="0.56" stroke-width="2" stroke-linecap="round" fill="none"/>
<path d="M185.1 33.3h0M187.1 42.5h0M185.6 92.4h0M182.3 99.3h0M186.3 34.5h0M181.3 41.5h0M184 34.4h0M179.7 92.4h0M184.5 26.8h0M184.4 32.1h0M187.5 24.1h0M185.8 39h0M180.8 41.3h0" stroke="#FDE321" stroke-opacity="0.56" stroke-width="2" stroke-linecap="round" fill="none"/>
<path d="M186.5 46.1h0M179.5 75.1h0M185.1 26.4h0M184.8 115.5h0M185.3 34.2h0M180.1 43.5h0M187.5 25.4h0M180.7 46.7h0M186.4 37.5h0M185.5 25.9h0M186.3 33.1h0M181.8 40.8h0M180.4 34h0" stroke="#FDE321" stroke-opacity="0.56" stroke-width="2" stroke-linecap="round" fill="none"/>
<path d="M182.4 39.2h0M179.8 27.1h0M182.9 41.4h0M185.9 37.6h0M187.1 31.2h0M186.6 53.3h0M188.4 24.3h0M179.5 23.8h0M184.7 31.4h0M188 32.4h0M181.7 42.9h0M186.1 57.7h0M179.6 80h0" stroke="#FDE321" stroke-opacity="0.56" stroke-width="2" stroke-linecap="round" fill="none"/>
<path d="M179 38.8h0M180.4 48.6h0M178.6 34.3h0M188.3 38.5h0M180.2 28.9h0M182.3 42h0M181 34h0M179.3 36.3h0M182.8 38.2h0M186.8 41.7h0M188.5 24.9h0M181.4 42.6h0M180.7 84.2h0" stroke="#FDE321" stroke-opacity="0.56" stroke-width="2" stroke-linecap="round" fill="none"/>
<path d="M185.8 38h0M180.9 46.2h0M181.7 87.7h0M187.4 28.2h0M183.5 33.4h0M180.6 42.5h0M179.8 48.7h0M184.2 37h0M181.3 33.8h0M186.3 37h0M181.6 41.1h0M184.2 40.5h0M181.7 39.1h0" stroke="#FDE321" stroke-opacity="0.56" stroke-width="2" stroke-linecap="round" fill="none"/>
<path d="M179 26.9h0M179.2 24.1h0M179.4 40.1h0M185.4 35.1h0M182.2 33.4h0M187.6 54.7h0M185.4 36.5h0M183.8 34.8h0M180.4 36.6h0M183.3 28.9h0M187.7 40.4h0M184.3 36.8h0M183.7 24.9h0" stroke="#FDE321" stroke-opacity="0.56" stroke-width="2" stroke-linecap="round" fill="none"/>
<path d="M187.5 31.7h0M180.1 29.4h0M180.2 35.3h0M184.4 42.3h0M179.7 32.9h0M180.9 37.9h0M178.8 46.9h0M187.6 101.7h0M186.6 42.9h0M182.9 40.8h0M181.1 30.6h0M182.2 27.9h0M187.8 55.3h0" stroke="#FDE321" stroke-opacity="0.56" stroke-width="2" stroke-linecap="round" fill="none"/>
<path d="M179.9 33.7h0M179.3 31.9h0M187.9 42.1h0M188 24.5h0M186.6 26.6h0M180.1 28.8h0M184.1 28.9h0M188 30.5h0M186.6 42h0M179.1 31.5h0M180 29.6h0M182.2 34.8h0M183.9 60.8h0" stroke="#FDE321" stroke-opacity="0.56" stroke-width="2" stroke-linecap="round" fill="none"/>
<path d="M184 40.5h0M181.9 74.7h0M183 42.1h0M181 33.3h0M180.8 63.1h0M180.9 31.3h0M184.8 97.2h0M184.3 46.9h0M184.5 42.1h0M180.4 30.4h0M181 25.6h0M183.4 35.8h0M184.3 39.3h0" stroke="#FDE321" stroke-opacity="0.56" stroke-width="2" stroke-linecap="round" fill="none"/>
<path d="M190 50V118" stroke="#FDE321" stroke-width="0.9" stroke-opacity="0.3"/>
<path d="M189.3 24.4L190.7 24.4L192.2 26.4L200.4 27.8L207 28.5L213.3 29.1L207 29.8L199.2 30.5L194.5 31.7L198 34L199.8 34.6L197 35.2L194.5 36.4L198 37.6L199.8 38.1L197 38.7L194.5 39.9L193.4 42.2L191.6 45.7L190.8 50.4L190.5 55.1L189.3 55.1Z" fill="#FDE321"/>
</g>
<g transform="translate(0 178)">
<g font-family="Liberation Sans, sans-serif" stroke-linejoin="round">
<text transform="translate(-0.5 5.7) scale(0.95 1)" font-size="9" font-weight="bold" fill="#000">C</text>
<path d="M29.4 18V144.4H216.8" stroke="#111" stroke-width="1" fill="none"/>
<path d="M27.2 139.6H29.4" stroke="#222" stroke-width="1.2"/>
<text transform="translate(26.9 142.8) scale(0.835 1)" font-size="8.9" fill="#2a2a2a" stroke="#2a2a2a" stroke-width="0.25" text-anchor="end">0.00</text>
<path d="M27.2 110.8H29.4" stroke="#222" stroke-width="1.2"/>
<text transform="translate(26.9 114) scale(0.835 1)" font-size="8.9" fill="#2a2a2a" stroke="#2a2a2a" stroke-width="0.25" text-anchor="end">0.25</text>
<path d="M27.2 81.9H29.4" stroke="#222" stroke-width="1.2"/>
<text transform="translate(26.9 85.1) scale(0.835 1)" font-size="8.9" fill="#2a2a2a" stroke="#2a2a2a" stroke-width="0.25" text-anchor="end">0.50</text>
<path d="M27.2 53H29.4" stroke="#222" stroke-width="1.2"/>
<text transform="translate(26.9 56.2) scale(0.835 1)" font-size="8.9" fill="#2a2a2a" stroke="#2a2a2a" stroke-width="0.25" text-anchor="end">0.75</text>
<path d="M27.2 24.2H29.4" stroke="#222" stroke-width="1.2"/>
<text transform="translate(26.9 27.4) scale(0.835 1)" font-size="8.9" fill="#2a2a2a" stroke="#2a2a2a" stroke-width="0.25" text-anchor="end">1.00</text>
<path d="M55 144.4V146.6" stroke="#222" stroke-width="1.2"/>
<text transform="translate(55 155.7) scale(0.885 1)" font-size="8.4" fill="#2a2a2a" stroke="#2a2a2a" stroke-width="0.25" text-anchor="middle">1</text>
<text transform="translate(55 163.7) scale(0.885 1)" font-size="8.4" fill="#2a2a2a" stroke="#2a2a2a" stroke-width="0.25" text-anchor="middle">n=812</text>
<path d="M97.7 144.4V146.6" stroke="#222" stroke-width="1.2"/>
<text transform="translate(97.7 155.7) scale(0.885 1)" font-size="8.4" fill="#2a2a2a" stroke="#2a2a2a" stroke-width="0.25" text-anchor="middle">2</text>
<text transform="translate(97.7 163.7) scale(0.885 1)" font-size="8.4" fill="#2a2a2a" stroke="#2a2a2a" stroke-width="0.25" text-anchor="middle">n=754</text>
<path d="M140.5 144.4V146.6" stroke="#222" stroke-width="1.2"/>
<text transform="translate(140.5 155.7) scale(0.885 1)" font-size="8.4" fill="#2a2a2a" stroke="#2a2a2a" stroke-width="0.25" text-anchor="middle">3</text>
<text transform="translate(140.5 163.7) scale(0.885 1)" font-size="8.4" fill="#2a2a2a" stroke="#2a2a2a" stroke-width="0.25" text-anchor="middle">n=559</text>
<path d="M183.2 144.4V146.6" stroke="#222" stroke-width="1.2"/>
<text transform="translate(183.2 155.7) scale(0.885 1)" font-size="8.4" fill="#2a2a2a" stroke="#2a2a2a" stroke-width="0.25" text-anchor="middle">4</text>
<text transform="translate(183.2 163.7) scale(0.885 1)" font-size="8.4" fill="#2a2a2a" stroke="#2a2a2a" stroke-width="0.25" text-anchor="middle">n=207</text>
<text transform="translate(8.2 78.2) rotate(-90)" font-size="7.75" fill="#111" stroke="#111" stroke-width="0.2" text-anchor="middle">EPVS Percentile</text>
</g>
<path d="M58.1 23.1h0M52.5 81.9h0M53.7 42.4h0M51.1 65.2h0M55.1 35.9h0M50.1 71.9h0M53.6 68h0M58.8 71.8h0M55.5 78.3h0M54.1 74.1h0M52.3 30.7h0M57.5 24.7h0M56.9 77h0M56.8 78.9h0M51.6 34h0M51.6 35.6h0M52.7 77h0M50.2 32.3h0M53.2 25.4h0M50.8 81h0M53.2 78.9h0M55.8 31.5h0M57.6 33.6h0M57.2 39.2h0M54.8 28.4h0M53.4 39.1h0M54.8 37.3h0M54.2 36.5h0M54.5 32.4h0M55.3 78h0M54.2 71.8h0M53.9 33.1h0M56 78.5h0M56.1 33.2h0" stroke="#213791" stroke-opacity="0.56" stroke-width="2" stroke-linecap="round" fill="none"/>
<path d="M57.2 69.4h0M56.6 23.4h0M50.2 68.7h0M58.7 35.3h0M56.6 23.1h0M51 76.3h0M51.3 73.4h0M50.6 26.9h0M57.3 82.8h0M50.3 81h0M56 28.6h0M55.8 30.1h0M55.9 35.2h0M53 27.8h0M53 77.6h0M50.8 27.3h0M57.9 25.2h0M58.6 33.3h0M53.9 77.9h0M51.8 24.2h0M56.7 27.5h0M56.4 28.3h0M50.7 76.8h0M57 78.9h0M52.6 73.1h0M57.7 75.4h0M51.2 36.8h0M54.8 34.4h0M53.7 24.9h0M51.5 34.3h0M55.9 30.2h0M58.6 31.3h0M57.1 80.5h0M51.7 38.6h0" stroke="#213791" stroke-opacity="0.56" stroke-width="2" stroke-linecap="round" fill="none"/>
<path d="M55.9 25.8h0M53.9 25.2h0M52.9 25.7h0M54.2 27.7h0M53.7 62.4h0M52.6 23.1h0M51.6 77.8h0M50.9 72h0M57.1 76.2h0M57.8 74.2h0M52.6 23.2h0M52.4 33.2h0M52.1 78.5h0M58.7 71.9h0M50.2 28.3h0M51.6 24.2h0M53.6 36.2h0M58.2 69.1h0M53.4 77.9h0M51.2 28.7h0M51.1 80.6h0M51.2 69.7h0M57 24.6h0M57.1 77.6h0M56.7 40.2h0M55.2 24.8h0M58.7 64.6h0M55.8 32.7h0M53 69.1h0M57.4 36h0M56.3 77.1h0M51.6 30.7h0M53.1 23.3h0M53.3 81.7h0" stroke="#213791" stroke-opacity="0.56" stroke-width="2" stroke-linecap="round" fill="none"/>
<path d="M56.6 34h0M50.9 75.1h0M53.5 39.7h0M51.9 77h0M50.3 28h0M57.2 67.9h0M51.2 71.9h0M56.6 30.6h0M53.4 24h0M54.9 78.3h0M58.6 32.2h0M53.6 37.5h0M52.2 81h0M58.1 72.7h0M50.5 77.6h0M55.3 27.9h0M57.5 72.8h0M50.8 40.2h0M52.3 34.5h0M50.6 74.1h0M53.6 72.7h0M58.6 76.4h0M52 37h0M57.5 28.7h0M57.5 23.8h0M58 79.6h0M50.9 72.4h0M55.3 74.2h0M50.9 34.4h0M52.5 81.2h0M57.9 28.3h0M55.8 77.2h0M56.8 31.1h0M53.4 38.1h0" stroke="#213791" stroke-opacity="0.56" stroke-width="2" stroke-linecap="round" fill="none"/>
<path d="M51.9 24.1h0M53.9 76.2h0M55.9 61.4h0M52.5 23.7h0M51.5 25.4h0M50.9 81h0M52.4 67.5h0M50.7 25.9h0M52 77.9h0M55.2 25h0M57.4 27.5h0M55 72h0M55.4 77.8h0M58.6 35.1h0M51.2 26h0M50.7 68.1h0M51.2 42.1h0M53.5 28.3h0M51.4 81.6h0M51.9 35.3h0M58.4 32.4h0M52.9 74.7h0M57 71.3h0M50.5 34.6h0M52.5 24.1h0M55.3 64.2h0M52.4 25.9h0M58.4 75.5h0M51.9 30.8h0M57.1 32.2h0M56 73.9h0M54.6 34.7h0M55.1 32.6h0M53.3 74h0" stroke="#213791" stroke-opacity="0.56" stroke-width="2" stroke-linecap="round" fill="none"/>
<path d="M50.8 78.9h0M52.3 76h0M57.1 32.7h0M51.4 78.5h0M56.4 76.7h0M50.4 71.9h0M53.4 38.9h0M58.5 76.3h0M56.5 82h0M56.8 41.5h0M55 26.3h0M57.6 35.1h0M57.2 79.4h0M52.7 32.5h0M51 30.9h0M57.8 72.3h0M52.8 38.2h0M53.9 80.9h0M56.2 72.4h0M51.1 81.1h0M53.8 75.6h0M55.6 25.8h0M55 25.8h0M53.4 26.5h0M52.1 64h0M51.9 24.5h0M54.1 29.4h0M58 79.1h0M54.5 24.7h0M52 28.2h0M51.8 36.9h0M58.2 63.6h0M54.2 70.4h0M53.3 29h0" stroke="#213791" stroke-opacity="0.56" stroke-width="2" stroke-linecap="round" fill="none"/>
<path d="M51.2 82.8h0M56.7 30.2h0M54 78.2h0M54.8 78.9h0M53.1 73.4h0M51.7 30.4h0M56.8 81.6h0M55.5 33.8h0M55.7 78.1h0M57.5 35.9h0M50.5 27.4h0M53.9 72.9h0M56.1 27.6h0M54.6 25.4h0M56.2 23.7h0M54.4 36.3h0M52.7 31.4h0M51.6 75.1h0M58.5 40.5h0M52.1 39.3h0M52.7 25.3h0M56.9 33.7h0M55.9 78.6h0M53.2 37.7h0M55.6 32.9h0M58.4 35.9h0M57.2 31.3h0M57.2 79h0M56.4 72.3h0M51.7 73.3h0M57.4 26.2h0M53.9 80.5h0M55 31.1h0M55.1 33.6h0" stroke="#213791" stroke-opacity="0.56" stroke-width="2" stroke-linecap="round" fill="none"/>
<path d="M54.4 72.4h0M54.1 77.1h0M54.9 36.9h0M50.2 27.7h0M57.7 70h0M56.2 33.5h0M57.8 79.3h0M56 33.5h0M56.6 38.7h0M57.1 73.7h0M58.3 72h0M50.9 25.2h0M58.2 23.8h0M53.7 25.1h0M55.8 78.4h0M54.4 81.1h0M54 23.7h0M56.1 77.8h0M55.8 35.7h0M54.2 76.5h0M52.5 82.5h0M56.6 80h0M55 25.8h0M56.1 79.2h0M55.7 80.5h0M56.4 28.8h0M51.5 25.4h0M51.4 76h0M53.1 79.9h0M58.4 35.6h0M58.2 68.5h0M53.1 76.8h0M55 23.9h0M50.8 77.3h0" stroke="#213791" stroke-opacity="0.56" stroke-width="2" stroke-linecap="round" fill="none"/>
<path d="M53.9 76.3h0M56.2 31.7h0M55.7 78.4h0M55.8 76.6h0M51.6 29.8h0M55.4 81.8h0M57 81.4h0M57.8 78.1h0M56.4 34.1h0M56.6 66.5h0M55.4 32.8h0M54.8 31.9h0M58.4 80.8h0M55.8 38h0M52.6 69.1h0M51.3 26.8h0M55.9 32.2h0M54.8 25.3h0M52 67.2h0M56.9 34.5h0M56.3 35.8h0M50.2 29.4h0M57.3 74.6h0M57.5 34.2h0M56.2 79.8h0M53.9 75.2h0M52.5 30.7h0M54.9 79.3h0M58.6 26.4h0M54.9 75.6h0M55.7 41.5h0M53 31.5h0M54.4 33.2h0M58 79.3h0" stroke="#213791" stroke-opacity="0.56" stroke-width="2" stroke-linecap="round" fill="none"/>
<path d="M56.9 34.1h0M55.7 30.5h0M52.5 31.3h0M56.9 41.7h0M56.1 66.3h0M57.5 29.5h0M53.3 72.9h0M52.9 81h0M52.1 25.7h0M58.2 35.7h0M54.7 74.8h0M56.5 64.7h0M53.3 80.5h0M57.9 78.9h0M53.3 77.7h0M53.5 79.4h0M50.3 33.5h0M52.8 29.2h0M50.7 25.3h0M57.1 81.5h0M52.6 33.8h0M52.5 35.2h0M50.9 30.9h0M50.8 73.3h0M51.1 26.8h0M55 76.5h0M51.3 37.4h0M57.3 27.3h0M57 71.5h0M52 23.2h0M50.8 75.5h0M54.8 81.8h0M52.6 79.9h0M52.1 35.2h0" stroke="#213791" stroke-opacity="0.56" stroke-width="2" stroke-linecap="round" fill="none"/>
<path d="M57.7 32.4h0M57.8 71.4h0M53 28.9h0M55.5 34h0M58.5 36.8h0M51.7 24.4h0M51.6 23.2h0M52 79.2h0M52 73.2h0M54.2 80.6h0M57.4 68.5h0M54.8 29.9h0M51.7 23.4h0M53 25.2h0M52.4 24.1h0M56.5 34.7h0M53.1 81.5h0M56.6 25.1h0M55.1 75.4h0M57.1 35.8h0M51.9 70.4h0M58.8 68.3h0M55.5 32.3h0M56.4 78.6h0M50.3 27.5h0M58 81.8h0M57.9 38h0M52.1 73.6h0M56.2 80.9h0M53.4 34.8h0M56.6 77.8h0M54.1 31.1h0M54.4 67h0M58.6 74.1h0" stroke="#213791" stroke-opacity="0.56" stroke-width="2" stroke-linecap="round" fill="none"/>
<path d="M58.2 73.6h0M51.6 33.2h0M57.8 37.5h0M54.8 37h0M55.5 73.5h0M51.9 24.1h0M53.3 26.6h0M53.8 28.8h0M53.4 25.6h0M50.2 72.2h0M54.3 24.6h0M56.3 75.5h0M50.9 25.2h0M57.4 71.2h0M54.7 30.8h0M51.7 31.9h0M52 42.7h0M56.7 74.3h0M52.9 78.9h0M50.9 31.4h0M53.8 68.5h0M58.6 40.5h0M52.5 74.7h0M56.5 25.8h0M57 31h0M57.3 37.3h0M57.4 82.4h0M53.1 37.2h0M51.9 28.4h0M57.9 27.1h0M57.8 76.7h0M54.3 30.6h0M51.1 39.9h0M56.2 30.7h0" stroke="#213791" stroke-opacity="0.56" stroke-width="2" stroke-linecap="round" fill="none"/>
<path d="M52.7 36.9h0M51.2 78.6h0M55.5 33.1h0M54.7 75h0M58.4 74.1h0M52.4 28.4h0M56.9 72.2h0M56.3 36.4h0M51.4 77h0M53.9 28.7h0M52.9 77.3h0M54.9 73.7h0M56.1 66.6h0M57.9 79h0M52 35.9h0M56.2 78.5h0M54.2 29.1h0M58.6 37.2h0M54.8 37h0M58.4 67.2h0M53.7 79.7h0M54.9 75h0M55.4 78.5h0M53.3 26.5h0M56 81h0M57.4 82.7h0M52.2 80.9h0M56.8 33.6h0M56.2 65.6h0M55.8 78h0M57.2 79.8h0M53.3 81.1h0M53.2 30.9h0" stroke="#213791" stroke-opacity="0.56" stroke-width="2" stroke-linecap="round" fill="none"/>
<path d="M56.4 26.7h0M54.5 76.5h0M53.8 35.2h0M57.5 35.5h0M54.6 75.2h0M53 70.9h0M51.5 77.9h0M56.2 23.8h0M53.7 79.6h0M54.6 76.8h0M57.4 28.4h0M56.9 66.3h0M55.9 72.8h0M55.8 39h0M53.4 82.2h0M53.6 40.8h0M50.6 79h0M57.8 65.9h0M56.1 36h0M50.5 23.4h0M55.7 69h0M53.2 26h0M50.6 34.2h0M57.9 38h0M52.6 82.8h0M58.3 74.7h0M50.8 35.4h0M58.6 25.9h0M50.3 26.7h0M50.8 71.2h0M57.6 36.5h0M55.8 81.4h0M56.5 24.7h0" stroke="#213791" stroke-opacity="0.56" stroke-width="2" stroke-linecap="round" fill="none"/>
<path d="M58.2 40.2h0M53.9 23.5h0M57.3 74.6h0M55.3 72h0M53.4 76.1h0M57.5 28.9h0M56.5 31.1h0M53.6 39h0M51.1 72.1h0M57.2 77.4h0M51.6 73.3h0M57.5 63.5h0M56.2 76.5h0M52.8 71.9h0M57.2 82.7h0M51.3 68.9h0M55.1 82.1h0M52.7 72.6h0M55.1 35.1h0M57.1 25h0M57.8 72h0M51.4 37.4h0M53 30.8h0M50.3 36.5h0M57.1 23.8h0M52.3 67.5h0M52.9 71.8h0M57.9 74.9h0M50.1 75h0M52.5 23.3h0M57.2 28.2h0M50.2 73.9h0M55.9 76.5h0" stroke="#213791" stroke-opacity="0.56" stroke-width="2" stroke-linecap="round" fill="none"/>
<path d="M51.5 25.5h0M57.7 34.7h0M53 23.1h0M58.5 34.2h0M56.9 29.1h0M55.8 75.1h0M54.9 75h0M54 25.4h0M58.5 70.1h0M55.4 27.1h0M57.1 31h0M55.6 74.3h0M52.1 72.4h0M51.9 79.3h0M52.4 35.6h0M57.4 31.8h0M55.6 23.2h0M52.6 70.9h0M51 33.3h0M54.8 74.5h0M56.5 82.1h0M54.7 77.7h0M56.7 36.9h0M57 66.9h0M56.5 71.7h0M50.4 26.9h0M53.5 35.9h0M52.6 68.2h0M56.3 76.6h0M58 76.3h0M51.3 81.4h0M52.7 67.8h0M54 67.1h0" stroke="#213791" stroke-opacity="0.56" stroke-width="2" stroke-linecap="round" fill="none"/>
<path d="M50 44.6H66" stroke="#213791" stroke-width="1.7" stroke-opacity="1"/>
<path d="M50 85H60" stroke="#213791" stroke-width="1.7" stroke-opacity="1"/>
<path d="M61.3 23.7L62.8 23.7L63.4 26L63.4 34L62.6 40L64 43.5L66 44.6L62.4 45.6L62.4 72L62.8 78L64.5 82.5L69 84L70.6 84.8L62 85.4L61.3 85.4Z" fill="#213791"/>
<rect x="58.4" y="34.2" width="6.2" height="44.8" fill="#213791" fill-opacity="0.38" stroke="#213791" stroke-width="0.8"/>
<path d="M101.3 74.5h0M99.3 73.3h0M97.1 35.1h0M102.6 36.5h0M94.2 37.2h0M95 31.6h0M94.5 69.2h0M99.9 30.5h0M95.4 30h0M97.6 76.8h0M101.6 63.1h0M94.5 80.5h0M102.3 33.2h0M101.6 24.7h0M94.8 37.3h0M94.5 26.2h0M101.7 73.2h0M96.7 25.4h0M97.6 82.6h0M94.3 62.6h0M99 62.8h0M100.1 26h0M95.6 71.7h0" stroke="#C43C66" stroke-opacity="0.56" stroke-width="2" stroke-linecap="round" fill="none"/>
<path d="M95 35.7h0M98.3 73h0M101.6 28.6h0M94.5 76.6h0M102.3 69.3h0M94.9 35.2h0M98.1 70.2h0M100.5 38.2h0M93.1 24.1h0M101.4 67.4h0M96.1 32.5h0M97 63.6h0M102.2 35.9h0M95.1 24.2h0M101.8 72.7h0M101.7 77.7h0M101.8 70.3h0M95.5 66.1h0M98.1 69.8h0M99.4 72.2h0M98.8 27.4h0M95.5 32.8h0M96.3 71.7h0" stroke="#C43C66" stroke-opacity="0.56" stroke-width="2" stroke-linecap="round" fill="none"/>
<path d="M95.6 74.5h0M95.3 34.5h0M97.6 80.1h0M95.7 71.4h0M100.9 67.8h0M99.9 33.9h0M100.9 65.8h0M95.4 79.5h0M93.5 69.5h0M99.5 65.3h0M98.4 73.9h0M100.7 29.3h0M94.2 76.2h0M93.7 24.4h0M96.2 69.4h0M93.3 64.9h0M97.8 32.8h0M93.3 81.3h0M95.5 27h0M96.3 82.8h0M96.5 80.4h0M102.2 74.8h0M94.6 67.9h0" stroke="#C43C66" stroke-opacity="0.56" stroke-width="2" stroke-linecap="round" fill="none"/>
<path d="M97.9 68.2h0M92.9 69.7h0M94.4 27.6h0M94.8 72.9h0M97.8 63.3h0M100 36.8h0M93.2 33.2h0M95.8 68.7h0M97.4 35.3h0M92.9 33.6h0M99.9 80.6h0M102.2 30.2h0M96.2 27.1h0M93.3 72h0M101.3 82.7h0M93 32.4h0M95.5 36.2h0M98.8 73.7h0M100.6 31.5h0M94.4 71.8h0M100.9 73.2h0M92.9 38.6h0M94.5 72.9h0" stroke="#C43C66" stroke-opacity="0.56" stroke-width="2" stroke-linecap="round" fill="none"/>
<path d="M95.1 82.4h0M102.6 63.1h0M96.4 73.8h0M99.9 30.1h0M96.3 73.7h0M92.9 78.5h0M101.4 81.4h0M94.9 37.3h0M99.1 26.3h0M99.8 30.2h0M101.5 27.3h0M95.1 71.5h0M102.8 27.8h0M93 82.9h0M92.8 32.2h0M101.9 34.2h0M99.7 26h0M96.5 38h0M101.9 81.9h0M101.6 34.8h0M101.5 36.9h0M96.8 34.1h0M97.5 68.4h0" stroke="#C43C66" stroke-opacity="0.56" stroke-width="2" stroke-linecap="round" fill="none"/>
<path d="M97.7 73.6h0M95.3 64h0M95.5 68.5h0M93.6 35.9h0M99.8 71.3h0M94.5 71.6h0M101.9 67.3h0M101.4 61.7h0M97.4 71h0M94.1 61.9h0M96.4 35.1h0M94.6 69.7h0M95.8 74.4h0M98.9 70.3h0M102.6 31.3h0M96.8 80.2h0M98.3 66.1h0M96.5 77.5h0M102.8 65.5h0M94.7 30.3h0M95.6 73.1h0M100.7 30h0M100.2 31.5h0" stroke="#C43C66" stroke-opacity="0.56" stroke-width="2" stroke-linecap="round" fill="none"/>
<path d="M97.2 65.3h0M98.2 78.3h0M99.8 75.6h0M101.8 25.9h0M94.7 25.7h0M98.3 72.9h0M100.9 69.4h0M100 82.7h0M97.8 30.3h0M93.8 32.3h0M98.2 37.6h0M98.9 70.7h0M101.8 33.2h0M93.4 29.9h0M98.8 26.8h0M96.3 25.6h0M95.9 29.7h0M100.9 77.6h0M94.8 35.4h0M95 78.3h0M92.9 68.1h0M99.8 66.6h0M95.8 73.7h0" stroke="#C43C66" stroke-opacity="0.56" stroke-width="2" stroke-linecap="round" fill="none"/>
<path d="M93.7 70h0M97.7 73.1h0M101.7 27.7h0M98 80.1h0M94.4 64h0M100 78.1h0M96.4 37.2h0M96 70.9h0M101.9 83.1h0M98.6 68.8h0M94 36.6h0M98.7 79.8h0M94.4 81.7h0M96.4 30.1h0M94.7 27.7h0M100.3 30.9h0M96.7 35.8h0M102.4 27.2h0M93.4 25.7h0M101.6 77.6h0M99.1 72.5h0M100.9 72.2h0M95.1 73.3h0" stroke="#C43C66" stroke-opacity="0.56" stroke-width="2" stroke-linecap="round" fill="none"/>
<path d="M97.3 79h0M97.5 34.4h0M100.1 32h0M96.5 26.1h0M102 78.9h0M95.3 78.3h0M100.3 76.5h0M93.9 32.6h0M95.8 29.9h0M98.7 78.8h0M96.1 25.8h0M96.4 32.4h0M101.8 75.4h0M94.1 37.7h0M102 28.3h0M95.9 36h0M96.1 33.2h0M92.9 75.9h0M96.5 67.8h0M96.9 76.1h0M94.9 36h0M97.6 38h0" stroke="#C43C66" stroke-opacity="0.56" stroke-width="2" stroke-linecap="round" fill="none"/>
<path d="M102.3 67.6h0M95.1 33.8h0M99.9 30.2h0M100.2 34.1h0M99.2 70h0M98.9 28.3h0M96.2 79.2h0M102.7 63.5h0M101.7 80.2h0M95.2 80.3h0M99.8 34.1h0M102 71.6h0M98.5 36.3h0M92.9 77.2h0M102.3 69.6h0M95.8 33.7h0M100.6 27.7h0M94.9 77.1h0M100.1 79.2h0M96.5 80.6h0M94.4 68.3h0M102.7 81.4h0" stroke="#C43C66" stroke-opacity="0.56" stroke-width="2" stroke-linecap="round" fill="none"/>
<path d="M97.9 65.8h0M95.7 31.1h0M95.8 71.9h0M95.1 70.6h0M99.4 35.8h0M95.5 65h0M94.8 28.7h0M94 79.6h0M99.4 35h0M93.9 78.7h0M99.6 70.5h0M95.9 77h0M99.5 37.4h0M102.3 62.5h0M98.7 79.5h0M94.7 80.4h0M93.7 66.7h0M96.1 35.7h0M101.6 79.3h0M101.7 77.4h0M95.1 76h0M92.9 82.5h0" stroke="#C43C66" stroke-opacity="0.56" stroke-width="2" stroke-linecap="round" fill="none"/>
<path d="M100.9 35.2h0M97.8 64.8h0M96.1 68.2h0M99.5 77.3h0M94.3 35.7h0M98.7 82.6h0M94.1 71.1h0M100.8 28.2h0M96.5 74.8h0M99.1 28.6h0M94.1 32.7h0M101.9 74.1h0M96 67.3h0M102.8 25.3h0M94.6 62.6h0M97.4 31.3h0M95.4 80.9h0M100 82.1h0M101.1 30.6h0M94.8 34.8h0M93.9 30.6h0M100 26.9h0" stroke="#C43C66" stroke-opacity="0.56" stroke-width="2" stroke-linecap="round" fill="none"/>
<path d="M94.3 83.4h0M99.7 25.4h0M99.6 33.8h0M95.7 62.3h0M100 75.3h0M96.6 79.7h0M95.3 79.2h0M101.5 81.8h0M101.2 65.4h0M93.5 83.3h0M99.5 76.7h0M102 71.7h0M99.2 70.6h0M95.9 65.1h0M95.4 80h0M94.3 70.5h0M94.4 70.3h0M93.6 72.1h0M97.5 37h0M95.3 67.3h0M98.3 62.4h0M99.5 37.2h0" stroke="#C43C66" stroke-opacity="0.56" stroke-width="2" stroke-linecap="round" fill="none"/>
<path d="M101.8 38.6h0M93.2 34.8h0M93.5 81.1h0M94.5 61.8h0M93.7 28.9h0M101.2 24h0M99.5 35.1h0M94.6 26.2h0M102 82.8h0M96.4 67.2h0M102.6 35.7h0M94.3 27.1h0M94.1 25.6h0M102.4 69.5h0M96.1 31.5h0M95.3 74.5h0M94.1 69.9h0M93.7 35.3h0M100.4 82.6h0M100.4 83.4h0M101.3 33.8h0M99 66.9h0" stroke="#C43C66" stroke-opacity="0.56" stroke-width="2" stroke-linecap="round" fill="none"/>
<path d="M93.2 77.5h0M95.3 25.7h0M100.9 37.2h0M101.5 67.3h0M99.9 68.7h0M97.2 71h0M93.2 61.6h0M94.3 64.1h0M101.5 75.4h0M96.3 24.2h0M98.5 64.2h0M95.8 71.1h0M101.5 77.6h0M93.8 74.1h0M101.6 32.8h0M93.1 70.4h0M93.7 28.6h0M98.3 79h0M99.3 77.8h0M98.5 33h0M99.4 29.8h0M93.1 31.3h0" stroke="#C43C66" stroke-opacity="0.56" stroke-width="2" stroke-linecap="round" fill="none"/>
<path d="M101.4 36.7h0M95 33.5h0M94.4 70.1h0M96.1 75.6h0M100.7 37.7h0M98.4 31.9h0M96.5 28.9h0M102.2 69.1h0M96.9 36.3h0M95.5 67h0M102.7 67h0M100 80.3h0M96.9 69.9h0M102.8 83.2h0M101.4 79.7h0M98.5 78.4h0M99.6 30.3h0M102.3 64.7h0M93.3 34h0M95.4 68.7h0M94.5 72h0M94.3 28.6h0" stroke="#C43C66" stroke-opacity="0.56" stroke-width="2" stroke-linecap="round" fill="none"/>
<path d="M93 44.4H109.8" stroke="#C43C66" stroke-width="1.7" stroke-opacity="1"/>
<path d="M93 85.5H102.8" stroke="#C43C66" stroke-width="1.7" stroke-opacity="1"/>
<path d="M104 24.5L104.8 24.5L105.5 28L106.4 32L105.5 36L105 42L109.8 44.4L105 45.4L105 77L107 82L118 84.2L104.8 85L104 85Z" fill="#C43C66"/>
<rect x="100" y="44.4" width="8" height="36.6" fill="#C43C66" fill-opacity="0.36" stroke="#C43C66" stroke-width="0.8"/>
<path d="M144.7 132h0M144.6 24.9h0M140.7 26.2h0M144.8 45h0M143.2 40.4h0M142.5 129.5h0M141.2 131.1h0M142.2 36.2h0M144.5 35h0M140.8 43.7h0M138.8 38.7h0M138.5 132.7h0M145.2 39h0M144.3 38.5h0M140.9 36.8h0M136.6 129.8h0" stroke="#37B473" stroke-opacity="0.56" stroke-width="2" stroke-linecap="round" fill="none"/>
<path d="M144 128.5h0M140.9 40.1h0M136 38.6h0M142.5 36.3h0M138.5 38.1h0M142.3 130.2h0M137.4 131.6h0M143.6 38.3h0M137.9 43.6h0M135.7 36.2h0M141 133.5h0M143 44h0M144.3 37.6h0M140.1 44.2h0M137.8 133.2h0M140.3 38.8h0" stroke="#37B473" stroke-opacity="0.56" stroke-width="2" stroke-linecap="round" fill="none"/>
<path d="M141.5 39.2h0M136.6 40h0M143.3 131.4h0M141.5 137.7h0M144.7 44.2h0M145.1 44.2h0M143 129.2h0M144.1 42.8h0M140.4 41.6h0M136.4 43.6h0M141.3 40.6h0M136.3 39h0M140.9 39.1h0M142 128.7h0M135.6 43.9h0M143.8 129.1h0" stroke="#37B473" stroke-opacity="0.56" stroke-width="2" stroke-linecap="round" fill="none"/>
<path d="M137.9 43.8h0M143.7 130.4h0M140.8 130.2h0M142.7 41.9h0M141.8 38h0M142 128.1h0M141.6 129.5h0M141.9 39.9h0M139 26h0M139.1 40.3h0M141 36.1h0M144.4 130.3h0M135.6 44.2h0M144.6 41.4h0M138.2 40.6h0M139.4 129.5h0" stroke="#37B473" stroke-opacity="0.56" stroke-width="2" stroke-linecap="round" fill="none"/>
<path d="M144.7 133h0M140.1 134.1h0M139.3 40.3h0M136.6 132.5h0M144.5 27.5h0M137.9 41.3h0M142.6 44.5h0M143.6 40h0M138.7 133.9h0M136.8 134.2h0M143.1 43.5h0M143 36.6h0M141.8 42.2h0M136.7 133.1h0M143.7 39.7h0M136.1 43.5h0" stroke="#37B473" stroke-opacity="0.56" stroke-width="2" stroke-linecap="round" fill="none"/>
<path d="M136.4 25.5h0M141.8 39.4h0M135.6 36.2h0M143.2 40.6h0M138.1 42.9h0M141.6 34.4h0M139 38.1h0M138.3 42.2h0M138.4 38.7h0M141.9 40.7h0M135.6 41.4h0M138.2 36.2h0M137.3 132.8h0M139.4 44.3h0M137 36.1h0M145.3 129.8h0" stroke="#37B473" stroke-opacity="0.56" stroke-width="2" stroke-linecap="round" fill="none"/>
<path d="M137.7 42.2h0M139.1 42.5h0M138.2 138.8h0M142.3 129.7h0M139.3 36.6h0M137.9 27.9h0M145 27.1h0M143.1 132.2h0M136.9 34.4h0M144.5 131.4h0M137.9 129h0M139.8 42.5h0M141.6 129h0M145.3 42.2h0M140.9 42.4h0M141.9 39.4h0" stroke="#37B473" stroke-opacity="0.56" stroke-width="2" stroke-linecap="round" fill="none"/>
<path d="M138.7 42.4h0M142.8 39.9h0M142.7 131.7h0M145 133.8h0M137 41.5h0M137.5 44h0M142.2 131.9h0M141.8 35.6h0M137.6 41.3h0M139.5 34.3h0M138.7 131.3h0M143 44.7h0M140.4 35.7h0M137.2 42.7h0M142.1 43.8h0M144.1 36.4h0" stroke="#37B473" stroke-opacity="0.56" stroke-width="2" stroke-linecap="round" fill="none"/>
<path d="M140.3 44.4h0M143.2 35.7h0M138.3 38.2h0M138.7 36.3h0M140.5 40.3h0M144.8 128.5h0M138.8 44.3h0M139.4 45h0M142.8 27.3h0M143.6 132.2h0M136 43.1h0M140.9 42.1h0M138.5 39h0M138.3 131.9h0M141.7 133.1h0M137.7 35.9h0" stroke="#37B473" stroke-opacity="0.56" stroke-width="2" stroke-linecap="round" fill="none"/>
<path d="M137.1 40.7h0M139.4 35.1h0M140.8 38.7h0M139.3 37.7h0M145.3 37.5h0M144.6 43.9h0M135.6 133.2h0M139.3 34.5h0M139.6 40.5h0M140.2 39.2h0M137.1 131.5h0M136.7 137.6h0M138.4 39.2h0M142.2 129h0M144.6 128h0M144.5 28.2h0" stroke="#37B473" stroke-opacity="0.56" stroke-width="2" stroke-linecap="round" fill="none"/>
<path d="M135.9 131.6h0M141.5 34h0M140.9 43.9h0M141.8 45h0M142.7 34.8h0M144.4 133.1h0M141.2 42.1h0M138 132.4h0M137.1 43.6h0M136.4 26.8h0M138.8 44.3h0M142.3 129.5h0M143.4 133.6h0M141.6 41.8h0M139.7 133.4h0" stroke="#37B473" stroke-opacity="0.56" stroke-width="2" stroke-linecap="round" fill="none"/>
<path d="M142.7 34.3h0M135.7 35.2h0M144.9 45.3h0M136 128.8h0M143.4 128.8h0M142.9 39.6h0M140.3 128.1h0M138.7 38.5h0M139.5 131.3h0M144.4 43.9h0M138.1 129.6h0M138.2 38.7h0M144 36.5h0M138.2 36.6h0M136.4 36h0" stroke="#37B473" stroke-opacity="0.56" stroke-width="2" stroke-linecap="round" fill="none"/>
<path d="M138.8 27.4h0M142.2 131.3h0M140.6 42h0M135.8 128.3h0M140.4 41.1h0M139 44.4h0M136.8 128.8h0M142.6 37h0M145.1 36h0M137.6 42.3h0M138.7 133.2h0M143 44.6h0M135.8 25.9h0M136.7 40.5h0M137.5 41.4h0" stroke="#37B473" stroke-opacity="0.56" stroke-width="2" stroke-linecap="round" fill="none"/>
<path d="M136.6 131.5h0M141.7 129.5h0M144.5 40h0M137 131.8h0M140.1 128.2h0M137.2 41.9h0M139.3 43.9h0M137 42.7h0M143.3 27.2h0M140.2 36.9h0M145.3 37h0M142 43.9h0M139.4 138.6h0M137.4 130.5h0M142 44.7h0" stroke="#37B473" stroke-opacity="0.56" stroke-width="2" stroke-linecap="round" fill="none"/>
<path d="M143.3 42h0M142.1 34.8h0M139.7 41.3h0M136.7 36.6h0M141.2 131.7h0M141.4 129.7h0M140.5 44.7h0M144.5 35.7h0M136.2 42.7h0M143.5 39h0M141.8 36.6h0M144.7 138h0M141.9 128.2h0M141.5 43.3h0M144.5 38.1h0" stroke="#37B473" stroke-opacity="0.56" stroke-width="2" stroke-linecap="round" fill="none"/>
<path d="M140.5 37.4h0M141.3 133.2h0M139.5 43.2h0M138.7 133h0M135.8 132.2h0M145.1 39.8h0M138.5 35.3h0M141.9 128h0M138.7 132.2h0M143 134.3h0M138.2 129.6h0M140.9 44.7h0M136.7 38h0M138.1 133.6h0M137 42.9h0" stroke="#37B473" stroke-opacity="0.56" stroke-width="2" stroke-linecap="round" fill="none"/>
<path d="M135 44.4H152" stroke="#37B473" stroke-width="1.8" stroke-opacity="1"/>
<path d="M135.1 84.6H144.8" stroke="#37B473" stroke-width="3.0" stroke-opacity="1"/>
<path d="M147.2 24.5V138.2" stroke="#37B473" stroke-width="0.9" stroke-opacity="0.7"/>
<path d="M146.6 24.5L147.6 24.5L147.8 38L149 42L152 44.4L147.8 45.5L147.8 82.5L150 83.5L156.6 84.6L148 86L147.8 87L146.6 87Z" fill="#37B473"/>
<path d="M146.8 128L147.6 128L148.6 131L147.6 134L146.8 134Z" fill="#37B473"/>
<rect x="143.3" y="44.4" width="7.7" height="38.1" fill="#37B473" fill-opacity="0.36" stroke="#37B473" stroke-width="0.8"/>
<path d="M186.3 131h0M181 137.5h0M182.7 131.2h0M179.9 129.2h0M186.2 125.3h0M181.4 129.4h0M182.3 137.9h0M184.7 135.7h0M183.2 125.2h0M179.7 124.6h0" stroke="#FDE321" stroke-opacity="0.56" stroke-width="2" stroke-linecap="round" fill="none"/>
<path d="M178.5 130.2h0M183.8 122.1h0M186.3 137h0M181.3 128.8h0M184.9 123.6h0M184 129.5h0M186.2 138.3h0M180.7 128.3h0M181.8 129.1h0M187.2 129.3h0" stroke="#FDE321" stroke-opacity="0.56" stroke-width="2" stroke-linecap="round" fill="none"/>
<path d="M181.8 128.4h0M186.3 127.2h0M182 128.3h0M178.5 123.5h0M183.6 138.6h0M184.8 129.9h0M179.2 129.6h0M184.2 123.9h0M186.2 130.8h0M182.5 122.6h0" stroke="#FDE321" stroke-opacity="0.56" stroke-width="2" stroke-linecap="round" fill="none"/>
<path d="M178.6 123.6h0M183.1 123.6h0M187.2 129.7h0M178.5 129.6h0M179.5 138.5h0M186.8 131.1h0M181.4 131.1h0M186.6 130.8h0M185.8 130.2h0M184.8 126.7h0" stroke="#FDE321" stroke-opacity="0.56" stroke-width="2" stroke-linecap="round" fill="none"/>
<path d="M186.9 124.8h0M186.8 128.4h0M178.9 131.3h0M184.1 130.2h0M178.7 124.3h0M184.6 127.3h0M184 124.3h0M179.3 131.3h0M183.1 129.1h0M181.3 129.6h0" stroke="#FDE321" stroke-opacity="0.56" stroke-width="2" stroke-linecap="round" fill="none"/>
<path d="M182.5 130h0M185.3 131.4h0M178.8 127.8h0M184.4 135.5h0M184.6 126h0M178.8 126.3h0M185.9 129.8h0M180.1 124.9h0M180.3 131.5h0M181.9 130.6h0" stroke="#FDE321" stroke-opacity="0.56" stroke-width="2" stroke-linecap="round" fill="none"/>
<path d="M179.3 137.1h0M178.9 138.5h0M186.6 128.2h0M184.5 130.3h0M180.2 131.7h0M184.3 137.1h0M179.5 138h0M186.8 122.9h0M179.6 123.7h0" stroke="#FDE321" stroke-opacity="0.56" stroke-width="2" stroke-linecap="round" fill="none"/>
<path d="M179.9 124.5h0M182.8 122.7h0M187.2 131.1h0M183.2 124.8h0M184.2 131.3h0M185.3 125.5h0M181.5 123.2h0M180.2 125h0M185 136.9h0" stroke="#FDE321" stroke-opacity="0.56" stroke-width="2" stroke-linecap="round" fill="none"/>
<path d="M186 131.2h0M184.9 136h0M185 130h0M180.4 124.9h0M178.7 138.5h0M184.9 128.4h0M182.4 129.3h0M178.8 126.2h0M184.8 131h0" stroke="#FDE321" stroke-opacity="0.56" stroke-width="2" stroke-linecap="round" fill="none"/>
<path d="M179.3 129.2h0M187.1 124.9h0M181.6 128.6h0M178.7 128.5h0M186.8 126.7h0M179.1 127.9h0M186.2 126.6h0M179.5 126.8h0M183.6 122.5h0" stroke="#FDE321" stroke-opacity="0.56" stroke-width="2" stroke-linecap="round" fill="none"/>
<path d="M183.2 137.8h0M178.5 131.1h0M180.1 128h0M186.9 137h0M181.9 122.9h0M181.9 138.7h0M178.8 137.9h0M182.4 122.6h0M181.5 124.8h0" stroke="#FDE321" stroke-opacity="0.56" stroke-width="2" stroke-linecap="round" fill="none"/>
<path d="M180.8 131h0M180.9 130.9h0M179.7 129.3h0M180.5 127.3h0M187.1 129.6h0M182.3 123.7h0M186 126.7h0M181.3 128.7h0M185.5 129h0" stroke="#FDE321" stroke-opacity="0.56" stroke-width="2" stroke-linecap="round" fill="none"/>
<path d="M182.3 126.6h0M178.8 130.1h0M186.9 138.7h0M181.2 126.1h0M182.7 128.6h0M184.6 125.1h0M182.2 130.9h0M185.3 124.4h0M178.4 131.2h0" stroke="#FDE321" stroke-opacity="0.56" stroke-width="2" stroke-linecap="round" fill="none"/>
<path d="M179.2 135.9h0M180.2 131.5h0M179.6 138.9h0M184.1 131h0M178.6 138h0M184.6 138.4h0M187.3 137.6h0M185.1 128.6h0M185.5 122.9h0" stroke="#FDE321" stroke-opacity="0.56" stroke-width="2" stroke-linecap="round" fill="none"/>
<path d="M179.5 127.4h0M183.7 125.5h0M185.6 128.7h0M186.5 130.4h0M183.9 129h0M184.9 124.7h0M183.5 129.3h0M185.8 135.7h0M183.3 131.6h0" stroke="#FDE321" stroke-opacity="0.56" stroke-width="2" stroke-linecap="round" fill="none"/>
<path d="M186 137.7h0M185.6 136.2h0M182 124.5h0M179.7 137.8h0M183.3 131h0M179.3 123.1h0M182.8 127.6h0M179.4 136.3h0M186 130.7h0" stroke="#FDE321" stroke-opacity="0.56" stroke-width="2" stroke-linecap="round" fill="none"/>
<path d="M178.3 132.7H200" stroke="#FDE321" stroke-width="1.5" stroke-opacity="1"/>
<path d="M189.8 123V139" stroke="#FDE321" stroke-width="0.9" stroke-opacity="0.9"/>
<path d="M189.4 126.6L190 126.6L196.9 128.7L190 130.6L189.4 130.6Z" fill="#FDE321"/>
<path d="M189.4 132L190.5 132L212.4 132.7L190.5 133.4L189.4 133.4Z" fill="#FDE321"/>
<path d="M189.4 137.4L190.5 137.4L200 138L190.5 138.6L189.4 138.6Z" fill="#FDE321"/>
</g>
<g transform="translate(223 178)">
<g font-family="Liberation Sans, sans-serif" stroke-linejoin="round">
<text transform="translate(0.6 5.7) scale(0.95 1)" font-size="9" font-weight="bold" fill="#000">D</text>
<path d="M29.4 18V144.4H216.8" stroke="#111" stroke-width="1" fill="none"/>
<path d="M27.2 139.6H29.4" stroke="#222" stroke-width="1.2"/>
<text transform="translate(26.9 142.8) scale(0.835 1)" font-size="8.9" fill="#2a2a2a" stroke="#2a2a2a" stroke-width="0.25" text-anchor="end">0.00</text>
<path d="M27.2 110.8H29.4" stroke="#222" stroke-width="1.2"/>
<text transform="translate(26.9 114) scale(0.835 1)" font-size="8.9" fill="#2a2a2a" stroke="#2a2a2a" stroke-width="0.25" text-anchor="end">0.25</text>
<path d="M27.2 81.9H29.4" stroke="#222" stroke-width="1.2"/>
<text transform="translate(26.9 85.1) scale(0.835 1)" font-size="8.9" fill="#2a2a2a" stroke="#2a2a2a" stroke-width="0.25" text-anchor="end">0.50</text>
<path d="M27.2 53H29.4" stroke="#222" stroke-width="1.2"/>
<text transform="translate(26.9 56.2) scale(0.835 1)" font-size="8.9" fill="#2a2a2a" stroke="#2a2a2a" stroke-width="0.25" text-anchor="end">0.75</text>
<path d="M27.2 24.2H29.4" stroke="#222" stroke-width="1.2"/>
<text transform="translate(26.9 27.4) scale(0.835 1)" font-size="8.9" fill="#2a2a2a" stroke="#2a2a2a" stroke-width="0.25" text-anchor="end">1.00</text>
<path d="M55 144.4V146.6" stroke="#222" stroke-width="1.2"/>
<text transform="translate(55 155.7) scale(0.885 1)" font-size="8.4" fill="#2a2a2a" stroke="#2a2a2a" stroke-width="0.25" text-anchor="middle">1</text>
<text transform="translate(55 163.7) scale(0.885 1)" font-size="8.4" fill="#2a2a2a" stroke="#2a2a2a" stroke-width="0.25" text-anchor="middle">n=812</text>
<path d="M97.7 144.4V146.6" stroke="#222" stroke-width="1.2"/>
<text transform="translate(97.7 155.7) scale(0.885 1)" font-size="8.4" fill="#2a2a2a" stroke="#2a2a2a" stroke-width="0.25" text-anchor="middle">2</text>
<text transform="translate(97.7 163.7) scale(0.885 1)" font-size="8.4" fill="#2a2a2a" stroke="#2a2a2a" stroke-width="0.25" text-anchor="middle">n=754</text>
<path d="M140.5 144.4V146.6" stroke="#222" stroke-width="1.2"/>
<text transform="translate(140.5 155.7) scale(0.885 1)" font-size="8.4" fill="#2a2a2a" stroke="#2a2a2a" stroke-width="0.25" text-anchor="middle">3</text>
<text transform="translate(140.5 163.7) scale(0.885 1)" font-size="8.4" fill="#2a2a2a" stroke="#2a2a2a" stroke-width="0.25" text-anchor="middle">n=559</text>
<path d="M183.2 144.4V146.6" stroke="#222" stroke-width="1.2"/>
<text transform="translate(183.2 155.7) scale(0.885 1)" font-size="8.4" fill="#2a2a2a" stroke="#2a2a2a" stroke-width="0.25" text-anchor="middle">4</text>
<text transform="translate(183.2 163.7) scale(0.885 1)" font-size="8.4" fill="#2a2a2a" stroke="#2a2a2a" stroke-width="0.25" text-anchor="middle">n=207</text>
<text transform="translate(8.1 77.8) rotate(-90)" font-size="7.75" fill="#111" stroke="#111" stroke-width="0.2" text-anchor="middle">CMB Percentile</text>
</g>
<path d="M55.6 51.1h0M58.7 41.9h0M50.9 58.6h0M54.8 72.3h0M56.4 45.8h0M55.8 35.7h0M52.9 66.3h0M50.4 78.5h0M58.8 61.7h0M54.4 54.7h0M52.1 41.7h0M57.1 91.2h0M53.4 32.3h0M51.7 28.4h0M58.2 48.1h0M58.5 35.9h0M51.6 44h0M57.3 37.2h0M59 24.3h0M57.3 24.3h0M51.3 47.6h0M50.7 64.7h0M53.5 53.7h0M57.2 106.1h0M55.3 87.5h0M52 69.8h0M52.3 54.9h0M56.5 58.1h0M55.8 25h0M51.4 61.8h0M55.9 24.6h0M53.8 90.1h0M57.4 72.3h0M56.6 36.8h0M54.6 32.7h0M59.1 31.6h0M54.6 24.3h0M55.6 125.1h0M55.4 130.5h0M58.7 32.3h0M56.7 49.8h0M50.5 79.1h0M53.8 51.3h0M50.5 72.7h0M56.1 82.7h0M57.5 49.7h0M52.2 94.6h0M50.3 59.7h0" stroke="#213791" stroke-opacity="0.56" stroke-width="2" stroke-linecap="round" fill="none"/>
<path d="M56.7 88h0M56.4 42.4h0M53.8 27.7h0M58.8 59.5h0M53.5 72.2h0M52.7 63.7h0M52.7 72.9h0M52.1 63.2h0M51.7 49.7h0M55.6 32.9h0M57.2 48.3h0M52.2 58h0M58.2 79.7h0M52.7 39.4h0M59.3 44.3h0M51.6 38.9h0M56.6 36.9h0M53.4 72.1h0M52.2 72.7h0M52.6 43.9h0M51.6 89.1h0M51.5 33.7h0M56.1 38h0M57.7 65.8h0M54.3 45.4h0M54.4 25.4h0M58.1 132.5h0M51 54h0M51.1 38.4h0M56.6 69.9h0M54.3 37.3h0M53.6 83.6h0M51.2 73.3h0M54.1 77.6h0M59.4 31.5h0M52 76.5h0M52.6 70.7h0M51.9 34.9h0M50.9 60.7h0M50.8 58.4h0M56.6 62.3h0M57.7 49.2h0M50.3 36h0M59.3 29.6h0M58.4 58.3h0M51.6 81.9h0M58.4 70.7h0M56.9 39.5h0" stroke="#213791" stroke-opacity="0.56" stroke-width="2" stroke-linecap="round" fill="none"/>
<path d="M57.2 65.1h0M51 34.6h0M59.6 45.1h0M59.6 50.3h0M55.4 37.6h0M55 128.9h0M59 30.8h0M53.5 24.3h0M56.3 24.7h0M56.6 49h0M57.4 48.7h0M59.6 28.1h0M53.1 56.2h0M58.4 57h0M52.9 39.8h0M54.3 67.2h0M59.5 30.7h0M50.8 37.8h0M56.3 65.7h0M59.1 58.8h0M54.9 49.1h0M52.1 69.3h0M52.8 65.6h0M50.8 24.2h0M53.4 64h0M51.3 47.7h0M51 74.5h0M50.7 50.7h0M50.4 30.5h0M53.6 125.5h0M53 28.3h0M54 28.6h0M58.6 80.1h0M55.1 57.8h0M54.7 24.6h0M56.1 72.3h0M56.7 73.8h0M53.6 71.1h0M54.5 40.1h0M52 54h0M55.6 47.5h0M55.8 76.1h0M56.2 39.4h0M58.5 29.4h0M58.6 33.8h0M53.4 27.5h0M58.4 47.8h0M54.1 32.8h0" stroke="#213791" stroke-opacity="0.56" stroke-width="2" stroke-linecap="round" fill="none"/>
<path d="M52.9 94.1h0M50.6 129h0M50.8 33.6h0M57.6 65.9h0M55.4 89.7h0M59.6 59.5h0M54.3 33.1h0M56 49.3h0M53.5 39.5h0M52.5 64.9h0M53.9 62.6h0M53 125.7h0M52.3 85.5h0M53.4 34.8h0M56.9 92.2h0M57.3 31h0M58.9 40.3h0M52.7 55.1h0M51.3 70h0M57.1 24.9h0M59.7 47.3h0M58 44.3h0M58.7 88.7h0M53.9 44h0M53.5 46.1h0M54.1 82.8h0M57 84.1h0M53.6 61.5h0M52.9 49h0M53.4 94h0M57.7 48.4h0M52.2 42.5h0M55.6 36.2h0M56.1 75.1h0M50.8 66.9h0M55.1 79.4h0M53.8 42.8h0M55.8 82.7h0M50.3 53.5h0M58.7 60.9h0M51.1 39.5h0M55.1 116.1h0M52.3 31h0M56.8 59.5h0M53.6 34.4h0M59.5 30.3h0M58.7 41.8h0M59.4 57.5h0" stroke="#213791" stroke-opacity="0.56" stroke-width="2" stroke-linecap="round" fill="none"/>
<path d="M51 52.8h0M53.3 40.1h0M53.6 47.9h0M53.2 63.2h0M55.6 37.4h0M58.4 25h0M50.3 54.9h0M56.8 57.1h0M57.3 53.7h0M56.3 66h0M53.4 50.3h0M57.1 54.1h0M57.6 28.5h0M52.1 60.5h0M56.1 34.9h0M56.8 71.5h0M57 31.9h0M53.2 81.4h0M57.8 60.2h0M59.4 67.7h0M52.2 28.9h0M52.4 45.8h0M54.5 72.9h0M59.4 66.3h0M50.5 34.4h0M56.6 130.2h0M55.8 125.3h0M54.7 37.8h0M58.1 40.9h0M59.2 128.1h0M56.5 36.3h0M54 59.9h0M57.8 55.9h0M57.7 61.6h0M54.2 68.1h0M56.9 51.1h0M57.6 54h0M58.4 78.3h0M52.9 50.3h0M57.2 51.8h0M51.4 78.6h0M59.5 79.3h0M55.8 33h0M55.5 25.3h0M57 28.8h0M51.9 38.1h0M56.4 81.5h0M56.7 70.2h0" stroke="#213791" stroke-opacity="0.56" stroke-width="2" stroke-linecap="round" fill="none"/>
<path d="M58 42h0M53.6 57.5h0M51.6 69.5h0M53.6 49.5h0M52.1 29.9h0M52.1 79.1h0M58.5 68.3h0M56.7 30.6h0M53.1 56.8h0M50.6 44.9h0M52.2 55h0M57.2 94h0M59.3 35.5h0M56.4 25.6h0M56 42.3h0M57.2 90.2h0M53.9 42.1h0M56.1 60.7h0M52.8 56.9h0M54.6 66.9h0M50.4 41.8h0M57.6 40.4h0M51.1 39.1h0M57 90.7h0M59.4 128.1h0M57.2 35h0M58.9 26.1h0M56.6 54.1h0M52 96.7h0M54.9 45.2h0M56.5 53.3h0M54.1 48.9h0M56.9 39.5h0M52 49.1h0M51.1 45.3h0M53.4 77.8h0M57.2 40.8h0M58.3 59.8h0M55.2 67.8h0M53.9 45.4h0M50.7 56.2h0M57.3 40.7h0M55.4 59.3h0M54.2 69.9h0M52.2 29.2h0M55.3 71.5h0M53.9 33.4h0M55.6 45.9h0" stroke="#213791" stroke-opacity="0.56" stroke-width="2" stroke-linecap="round" fill="none"/>
<path d="M59.3 40.2h0M55.3 75.1h0M50.9 66.7h0M52 24.2h0M54.3 69.8h0M55.2 24.6h0M50.3 29.1h0M59 30.4h0M55 59.7h0M50.8 56.4h0M58.2 46.2h0M53.3 82.2h0M54.4 60.1h0M58.8 69.7h0M54 78.9h0M53.4 35.2h0M51.5 30.9h0M51.4 55h0M52.2 40.4h0M55.4 79.2h0M57.5 40.5h0M50.3 36.2h0M50.5 75.6h0M52.1 126.7h0M58.5 124.1h0M53.5 37.1h0M58.8 36.1h0M51.3 40.2h0M52.3 27.6h0M54.2 30.1h0M54.6 60.5h0M52.9 69.7h0M52.1 54.3h0M53.9 56.3h0M51.2 73.2h0M56.5 75.5h0M54.4 72.4h0M52.5 62.9h0M55.8 36.8h0M54.6 87.5h0M56.6 27.8h0M57.3 61.9h0M52.3 30.8h0M51.7 30h0M54.8 68.9h0M53.4 131.7h0M56.2 30.3h0M57.5 65.6h0" stroke="#213791" stroke-opacity="0.56" stroke-width="2" stroke-linecap="round" fill="none"/>
<path d="M52.2 28.9h0M51.1 124h0M52.3 35h0M58.1 30.9h0M53.1 48.9h0M52.1 28.1h0M50.4 55.9h0M56.4 48.1h0M52.7 31.3h0M52 83h0M58.8 34.9h0M58 44.3h0M50.4 46.7h0M58 83.5h0M58.2 35.7h0M52 28.7h0M52.1 59.5h0M52.1 25.9h0M50.5 80.4h0M51.2 53.1h0M53 58.3h0M57.8 46.8h0M54.4 40.9h0M52.1 38.1h0M54.5 55.2h0M51.1 28.1h0M52.8 102.9h0M58.6 50.3h0M53.2 31.4h0M53.3 89.4h0M50.9 69.7h0M56.4 62.5h0M50.8 48h0M51.9 55h0M53.8 80.5h0M57.8 31.9h0M51.2 59h0M52.6 33.9h0M52.2 59.5h0M50.8 76.2h0M57.3 85.1h0M55.8 37.2h0M50.5 29.6h0M59.7 33.6h0M58.1 125.7h0M50.5 40h0M58.1 85.7h0M57.3 31.9h0" stroke="#213791" stroke-opacity="0.56" stroke-width="2" stroke-linecap="round" fill="none"/>
<path d="M51.3 27.7h0M52.7 42.9h0M54.4 57.8h0M58.1 52.8h0M52.5 52.4h0M57.7 79.6h0M58.1 76.9h0M57.6 38.6h0M56.7 50.3h0M55.4 69.9h0M57.3 77.1h0M50.9 34.2h0M50.3 23.6h0M51.1 33.7h0M54.2 87.4h0M55.2 37.3h0M50.9 124.7h0M52.8 36.4h0M55.7 76.8h0M57.1 30.5h0M53.7 59.7h0M54.8 100.6h0M54.7 70.7h0M59.1 55.3h0M50.6 46.6h0M55 87.2h0M51.7 66.3h0M54.6 32.7h0M55.3 48.9h0M56.3 74.4h0M56.9 64.1h0M56.4 128.5h0M51.7 56.8h0M51.1 51.6h0M54 30.3h0M50.3 31.2h0M53.8 77.5h0M57.9 55h0M55.9 94h0M53.8 76h0M51.2 46h0M52.4 24h0M56.7 102h0M57.1 69.1h0M51.1 35.3h0M51.8 75.5h0M55.8 38.5h0" stroke="#213791" stroke-opacity="0.56" stroke-width="2" stroke-linecap="round" fill="none"/>
<path d="M56.5 58.6h0M51.4 39.6h0M57.4 58.6h0M55.5 50.4h0M53.9 29.3h0M54 89.1h0M58.4 43.7h0M56.7 37.3h0M52.3 35.6h0M56.2 28.4h0M52.2 68.7h0M52 31.2h0M56.2 44.4h0M52.5 82.6h0M50.6 68.2h0M54.6 43.5h0M52.3 47h0M55.9 37.9h0M51.6 76.7h0M59.7 86.6h0M57.4 78.1h0M54 30.4h0M52.4 71.2h0M55.7 73.8h0M56.8 25.5h0M52.7 59h0M51.6 110.9h0M53 38.6h0M50.9 35.9h0M58.1 27h0M56.7 67.7h0M59.7 68.5h0M54.6 50.7h0M59.2 71.7h0M51.8 57h0M58.8 24.7h0M55.3 64.2h0M53.2 30.1h0M51.8 41.7h0M52.9 56.8h0M56.8 49.3h0M57.9 76.4h0M50.6 75.9h0M53.6 42.5h0M59.3 28.5h0M56.6 61.9h0M54 59.2h0" stroke="#213791" stroke-opacity="0.56" stroke-width="2" stroke-linecap="round" fill="none"/>
<path d="M57.9 69.6h0M53 59.1h0M53.4 63.7h0M52 51.4h0M53 24.7h0M57.9 85h0M55.9 30.8h0M53.2 95.4h0M56.9 55.6h0M53.1 31.1h0M51.6 96h0M58.9 41.1h0M56.2 54h0M51.4 27h0M57.8 28.4h0M50.5 28.4h0M59.3 42.9h0M56.1 56.3h0M56.2 42.8h0M58.8 46.1h0M59.3 57.3h0M50.4 63.4h0M53.7 72.1h0M55.2 27.8h0M57.1 64.6h0M52 83h0M59.5 28.6h0M52.8 85.2h0M58.6 61.9h0M59.2 27.2h0M56.6 25.9h0M51 30.5h0M51.6 64.8h0M55.2 69.9h0M54.9 68.8h0M52.4 48.7h0M59 86.3h0M52.5 33.5h0M56.6 79.1h0M57.8 28h0M58.8 63.8h0M56.4 39.2h0M57.1 35.3h0M52 34h0M50.4 62.7h0M53.5 35.2h0M59.4 24.7h0" stroke="#213791" stroke-opacity="0.56" stroke-width="2" stroke-linecap="round" fill="none"/>
<path d="M51.9 25.1h0M56.4 69.1h0M54 42.2h0M51.7 68h0M59.6 27h0M52.6 41.5h0M56.8 66.9h0M57.1 60.6h0M56.7 52.4h0M56.6 27.5h0M53.6 41h0M53.8 29.8h0M53.5 25.4h0M55.7 50.7h0M58.3 64.3h0M59.1 50.7h0M58.7 49.8h0M50.9 50.7h0M54 27.3h0M59.2 59.4h0M53 89.7h0M58.1 68.5h0M56.2 38.1h0M50.9 46h0M50.8 84.5h0M52 49.8h0M51.3 70h0M56.3 50.7h0M53.7 44.2h0M58.8 48.7h0M55.1 40.6h0M58 51.4h0M59.2 43h0M52.5 31.9h0M56.1 34.3h0M51.7 46.5h0M59.4 72.6h0M50.4 28.2h0M57.5 39.3h0M55.8 60.7h0M51.4 74.4h0M57.9 49.6h0M56 68.7h0M54.2 53.9h0M53.2 124.3h0M59.4 37.3h0M53.3 31.7h0" stroke="#213791" stroke-opacity="0.56" stroke-width="2" stroke-linecap="round" fill="none"/>
<path d="M58.3 43.1h0M56.4 58.9h0M50.7 60.7h0M52.2 37.2h0M57.1 39.4h0M55.4 35.9h0M57.7 37.1h0M54.4 35.7h0M54.8 71.9h0M51.8 38.7h0M58.4 74.2h0M56.4 68.2h0M55.5 89.9h0M58.6 66.3h0M51.9 26.8h0M55.1 75.3h0M52.7 31.8h0M57.7 24.4h0M52.6 24.3h0M57.2 31.5h0M54.1 64.8h0M51.6 120.7h0M59.6 27h0M59.1 46.6h0M55.5 81.9h0M52.3 67h0M54.9 70.5h0M58.1 43.2h0M57.7 41.7h0M53.9 78.2h0M56.9 123.1h0M50.4 31.2h0M51.1 94.6h0M59.1 74.9h0M55.5 42.2h0M51.6 83.7h0M54.3 25.9h0M55.1 67.2h0M58.8 38.3h0M56.2 46.4h0M54.3 25.5h0M55.4 40.7h0M57.4 64.3h0M55.8 46.2h0M51.4 69h0M56.3 26.8h0M59.6 65.9h0" stroke="#213791" stroke-opacity="0.56" stroke-width="2" stroke-linecap="round" fill="none"/>
<path d="M54.4 126h0M55 56.7h0M57.8 41h0M50.9 125.2h0M54.5 63.2h0M52.6 74.5h0M54.6 27h0M57 27.3h0M55.3 70.8h0M56.3 31.3h0M56.6 31.3h0M58.4 50.8h0M54.1 86.3h0M51.8 43.4h0M54.5 24.2h0M51.7 49.1h0M58.3 55.7h0M55.9 28.1h0M56.1 60.2h0M55.7 94.5h0M53.4 85.3h0M54.4 46.8h0M51.1 47.7h0M52.8 88.3h0M52.4 67.7h0M52.7 74.9h0M50.8 47.3h0M57.7 39.4h0M58.1 67.6h0M53.3 57.6h0M59.7 124.2h0M50.6 59.2h0M57.5 51.2h0M57.6 85.6h0M56.7 40.8h0M56.8 38h0M55.4 56h0M51 79.6h0M54.8 73h0M58.8 31.3h0M51 25.4h0M51.1 75.8h0M53 71.2h0M51.7 42.2h0M55 36.5h0M50.9 44h0M54.3 89.8h0" stroke="#213791" stroke-opacity="0.56" stroke-width="2" stroke-linecap="round" fill="none"/>
<path d="M50.8 54.8h0M51.4 25.9h0M58.8 33.5h0M54.4 25.5h0M56.8 88h0M54 35.5h0M52.3 50.3h0M50.5 31.2h0M51 49.8h0M52.3 66.6h0M54.8 128.3h0M57.5 35.6h0M56.2 25h0M53.4 37.4h0M53.1 49.7h0M57.5 51.1h0M58 35.3h0M53.7 64h0M53.1 57.9h0M54.1 42.3h0M50.6 24.6h0M58 51.7h0M59.6 100.3h0M53.8 53.5h0M55.7 37.7h0M58.4 34.8h0M59.1 47.2h0M55.8 40.7h0M53.2 49.3h0M56.4 25.4h0M56.6 67.6h0M55.4 42h0M54.7 61.2h0M58.4 56.8h0M54.7 55.1h0M53.3 34.9h0M58.6 72.5h0M57.7 38.7h0M51.8 66.8h0M52.1 62.3h0M57.9 87.2h0M51.5 28.1h0M53.4 33.4h0M59.4 68.3h0M52.2 27h0M53.5 78.4h0M56.1 60.1h0" stroke="#213791" stroke-opacity="0.56" stroke-width="2" stroke-linecap="round" fill="none"/>
<path d="M58.7 35.6h0M51.4 88.7h0M55.8 41.5h0M51.1 42.3h0M57.5 42.4h0M51.2 49h0M52.4 82.6h0M51.3 51.9h0M51.7 31.1h0M59 95.6h0M53.4 43.7h0M53.7 55.6h0M54.7 43.6h0M56 42.9h0M53.3 29.8h0M51.8 66.8h0M51.5 104.5h0M56.9 91.7h0M55.7 88.7h0M51.8 47.4h0M53.1 27.2h0M58.6 83.5h0M50.4 36.7h0M54.2 132h0M56.6 45.2h0M54.3 29.2h0M52.2 76.7h0M54.8 35.8h0M58.7 65.5h0M54.3 68.1h0M52.5 61.3h0M55.2 44h0M56.1 34.1h0M59.4 46.1h0M52.2 57.1h0M52.2 52.6h0M52.6 31h0M57.5 28.5h0M59.1 49.4h0M54.2 38.2h0M57.5 56h0M56.2 41.5h0M57.9 66.7h0M52.1 40.3h0M51.8 86.5h0M50.3 24.1h0M51.1 53.2h0" stroke="#213791" stroke-opacity="0.56" stroke-width="2" stroke-linecap="round" fill="none"/>
<path d="M62.4 50V93" stroke="#213791" stroke-width="1.3" stroke-opacity="0.9"/>
<path d="M62.6 93V134" stroke="#213791" stroke-width="0.9" stroke-opacity="0.38"/>
<path d="M61.6 23.6L64.4 23.6L64.4 31L67.7 31.4L64.4 32.5L67 34L74 35.8L81.5 36.8L74 37.8L70 39L67.5 41L65.5 44L64.2 48L63.4 54L61.6 54Z" fill="#213791"/>
<rect x="60" y="42" width="1.6" height="23" fill="#fff" fill-opacity="0.55"/>
<path d="M50 32.7H64.4" stroke="#fff" stroke-width="0.9"/>
<path d="M95.7 35.6h0M103 67.3h0M100.4 43.2h0M97.4 28.5h0M95 37.9h0M100.9 67.3h0M95.4 43.1h0M101.2 60.7h0M95.8 60.6h0M100.8 59.5h0M99.3 71h0M103.1 35.5h0M98 68.6h0M102.2 33.4h0M94.5 36.9h0M94 39.1h0M101.4 47.7h0M100.3 77.8h0M96.3 63.2h0M93.6 49.9h0M97.3 50.8h0M95.7 49.1h0M99.8 42h0M98 41.7h0M97.3 43.6h0M95 54.3h0M97.9 81.9h0M96.8 27h0M102.3 45.9h0M102.6 24.8h0M101.3 70.2h0M95 25.4h0M94.3 37.8h0M98.3 44.9h0M94.4 54.3h0M95.9 49.6h0M101.6 39.4h0M96.4 41.2h0M103.2 69.2h0M94.4 35.4h0M98.9 38.7h0M97.7 42.5h0M100 40.5h0" stroke="#C43C66" stroke-opacity="0.56" stroke-width="2" stroke-linecap="round" fill="none"/>
<path d="M96.2 82.4h0M93.6 44h0M103.2 38.3h0M101.1 29.8h0M96.2 33.8h0M101 60.5h0M103.5 41.5h0M103.7 133.5h0M99.2 66.7h0M100.7 39h0M101.2 56.8h0M98 123.6h0M99.3 60.3h0M100.3 24h0M96.7 125.8h0M100.8 50.6h0M101.4 62.4h0M99.4 42.3h0M97 73.3h0M93.7 42h0M95 47h0M101.9 50h0M96.2 50.3h0M94 39.4h0M97.5 34.1h0M93.8 52.2h0M100.1 73.8h0M96 67.6h0M94.6 38.6h0M97.7 24.8h0M103.3 39.7h0M96.9 65h0M98.1 79.5h0M93.9 41.7h0M100.4 133.5h0M96.9 51.4h0M100.2 34h0M103.7 35.7h0M96.6 35.4h0M95.1 35.6h0M95 49.2h0M95 81.8h0M98.2 44.6h0" stroke="#C43C66" stroke-opacity="0.56" stroke-width="2" stroke-linecap="round" fill="none"/>
<path d="M94.2 106.7h0M101.8 49.6h0M102.4 55.1h0M98.2 36.1h0M98.8 130.4h0M99.9 132.8h0M98.6 37.2h0M98.7 30h0M93.9 40.4h0M100.9 37.7h0M97.6 47.8h0M103.6 23.8h0M99.8 75.6h0M99.4 69.8h0M102.2 40.7h0M99 70.1h0M98.1 40h0M102.2 130.2h0M93.6 46.7h0M100.6 75h0M101.8 35.5h0M98 34.5h0M103.3 25.8h0M97.4 74.8h0M96.1 30.6h0M96.9 68.1h0M101.8 88.9h0M97.3 40.7h0M98.5 71.2h0M101.5 41.9h0M94.9 123.8h0M98.9 34.8h0M96 76.3h0M95.2 57.1h0M98.9 36h0M97.8 88.1h0M100.9 26.2h0M102.8 65.9h0M98.3 47.4h0M97.3 89.6h0M99.1 34.8h0M98.2 36.2h0M93.8 56.9h0" stroke="#C43C66" stroke-opacity="0.56" stroke-width="2" stroke-linecap="round" fill="none"/>
<path d="M93.7 34.9h0M101.2 67.8h0M99.8 45.3h0M97.3 58.8h0M94.9 30.5h0M98.3 47.1h0M100.6 73.6h0M102.2 71.9h0M96.7 37.2h0M99.3 56.2h0M96.4 42.6h0M102.5 46.5h0M99.8 41.3h0M101 50.8h0M101.3 61.2h0M99.9 59.6h0M93.8 41.1h0M96 46.7h0M99.7 68.3h0M99.7 130.9h0M100.9 57.9h0M102 59.8h0M99.5 111.7h0M97 40.4h0M99.4 41h0M103 66.4h0M95.1 51.7h0M102.3 36.1h0M99.5 65h0M97 69.3h0M95 51h0M98.2 35.4h0M99.5 105.5h0M98.4 81.8h0M101.3 51.4h0M98.2 73.4h0M99.3 31.6h0M97.4 64.8h0M96.3 58.9h0M95 45.5h0M94.2 45.9h0M98 40.9h0M97.3 83h0" stroke="#C43C66" stroke-opacity="0.56" stroke-width="2" stroke-linecap="round" fill="none"/>
<path d="M98.3 47.5h0M101.1 55.7h0M100.6 50.6h0M95 35.3h0M96.5 75h0M96.5 77.2h0M95.9 50.6h0M102.7 47.1h0M101.6 69.1h0M102.7 41.8h0M96.3 47.8h0M102.1 48.6h0M93.7 37.4h0M98 42.5h0M102.8 72.4h0M103.5 36.7h0M97.7 125.6h0M95.7 50.1h0M95.4 65.6h0M93.7 37.1h0M102.1 36.9h0M102.2 36.3h0M103.4 35.7h0M98.6 35.9h0M103.8 45.3h0M95.9 38.3h0M103.4 46.1h0M98 50.6h0M95.4 127.8h0M100.3 34.3h0M100.8 65.7h0M94.7 76.5h0M96.4 127.1h0M98.1 26.5h0M101.4 126.7h0M99.9 71.6h0M101 26.8h0M103.7 41.4h0M94 83.9h0M97.3 77.9h0M96 42.4h0M97.4 44.3h0M101.7 46.7h0" stroke="#C43C66" stroke-opacity="0.56" stroke-width="2" stroke-linecap="round" fill="none"/>
<path d="M102 71.7h0M102.6 46.2h0M96 72.7h0M98 47h0M97 129.3h0M98.9 35.2h0M101.8 35h0M101.8 129.3h0M98.4 132.4h0M99.3 47h0M97.3 52.1h0M98.8 58h0M99.6 35.8h0M96.6 76.8h0M99 37.5h0M100.9 45h0M101.9 35.3h0M96.4 25.7h0M94.7 53.7h0M95.6 45.3h0M100.4 34.1h0M97.5 39.4h0M94.6 35.7h0M98.6 53.1h0M98.1 45.7h0M95.3 43.7h0M99.5 87.3h0M93.5 40.7h0M95.6 45h0M93.9 53.3h0M101.6 46.6h0M93.6 66.6h0M97.8 71.8h0M95.4 24.7h0M96.2 35.4h0M96 62.1h0M103.1 47.5h0M98.4 43.1h0M100.2 29.3h0M96.4 79.5h0M99.1 58h0M96.6 63.3h0M98.2 56.4h0" stroke="#C43C66" stroke-opacity="0.56" stroke-width="2" stroke-linecap="round" fill="none"/>
<path d="M95.9 61.3h0M95.8 35.9h0M95.2 78h0M95.3 58.7h0M101.7 50.4h0M97.1 37.6h0M96.9 36.6h0M100.5 67.7h0M103.1 68.8h0M101.8 78.2h0M101.1 35.1h0M103.5 42.9h0M101.9 37.2h0M96.7 69h0M100.5 46.2h0M95 37.8h0M94.1 43.7h0M93.7 129.4h0M96.3 39.1h0M95.1 37.9h0M96.8 40.4h0M99.3 44.3h0M99.5 58.1h0M99.1 134.5h0M95.2 47h0M94 31.5h0M100.2 36.8h0M94.2 80.4h0M98.8 86.9h0M101.2 37.3h0M101.9 28.1h0M95.4 68.4h0M96.9 44.4h0M97.8 62.1h0M94.3 73.3h0M98.5 64.8h0M101.2 45.7h0M97.7 44.7h0M99 37.2h0M100.2 46.5h0M98.8 48.1h0M99.5 60.4h0M98.9 32.6h0" stroke="#C43C66" stroke-opacity="0.56" stroke-width="2" stroke-linecap="round" fill="none"/>
<path d="M97 25.3h0M100.4 69.3h0M101.5 73.5h0M94.9 74h0M95.9 40.3h0M98.2 67h0M97.4 39.5h0M101.7 48.9h0M98.1 55.5h0M103.6 44h0M94 34h0M101.1 37.3h0M102.1 69.1h0M96.7 50.3h0M101.9 42.9h0M100.8 45.3h0M95 48.4h0M99.1 46h0M97 64.3h0M95.7 98.3h0M96.9 34.8h0M98 45.8h0M95.6 40.3h0M100.8 54.7h0M96.2 48.1h0M103 39.4h0M99.4 38.3h0M102 39.5h0M97 44.3h0M103.1 60.9h0M96.9 30.1h0M95.4 42.5h0M97.2 31.4h0M94.5 50.5h0M96.1 34.7h0M96.7 56h0M95 39h0M97.6 38h0M103.1 45.2h0M103 43.4h0M97.6 50.2h0M95.5 27.3h0M95.7 95h0" stroke="#C43C66" stroke-opacity="0.56" stroke-width="2" stroke-linecap="round" fill="none"/>
<path d="M98.3 45.9h0M99.4 48.6h0M94.2 68.8h0M94.5 31.6h0M98.5 57h0M95.4 53.3h0M97.6 51.7h0M94.4 36.8h0M102.1 57.4h0M93.6 42.6h0M101.3 40.8h0M99.1 58.2h0M103.5 46.7h0M94.7 49.4h0M97.9 37.7h0M93.9 128.5h0M102.2 46.5h0M95.3 75.3h0M99.1 43.9h0M102.8 68.5h0M98.1 42.8h0M98.5 47.2h0M97.8 41.2h0M98.6 39.9h0M98 76h0M99 51.4h0M96.1 25.3h0M100.7 44.2h0M95.6 127.4h0M96.7 48.6h0M99.4 49.5h0M103.6 64.7h0M93.8 77.3h0M97.3 46.2h0M94.6 42.3h0M98.4 28.8h0M100.5 27.1h0M101.7 133h0M102.2 83.3h0M95.2 52.2h0M97.8 34.9h0M94 35.5h0" stroke="#C43C66" stroke-opacity="0.56" stroke-width="2" stroke-linecap="round" fill="none"/>
<path d="M100.3 68.5h0M101 30.2h0M97.8 66.4h0M94.7 50.6h0M97.1 36.6h0M98.6 61.9h0M98.2 59.6h0M101.6 36h0M95.2 48.2h0M93.6 46.2h0M96.6 55h0M97.7 25.7h0M95.5 71.9h0M100.6 38.6h0M94.9 31.5h0M103 74.6h0M103.5 54.6h0M94.6 35.8h0M100.8 37.7h0M102 85.6h0M101.4 77h0M97.2 60.7h0M93.9 125h0M98.4 48.7h0M100.5 130h0M100.8 31.7h0M103.4 42.5h0M101 64.9h0M95.7 60h0M102.1 90.5h0M101.6 91.1h0M99.6 81.4h0M100.8 45.6h0M94.7 62.3h0M94.8 43.1h0M96.5 40.5h0M96.1 40.6h0M94.5 68h0M93.8 65.1h0M96.5 129.7h0M96.6 72.4h0M101.7 49.1h0" stroke="#C43C66" stroke-opacity="0.56" stroke-width="2" stroke-linecap="round" fill="none"/>
<path d="M95.4 43.4h0M100.9 80.3h0M94.8 37h0M100.1 38.2h0M97.9 123.3h0M95.4 34.1h0M98.3 43.7h0M94.8 53.4h0M94.2 80.6h0M99.1 43.1h0M97.9 49.5h0M96.1 55.5h0M98.2 47.3h0M102.1 62.6h0M96.4 54.6h0M103 64.7h0M100 33.1h0M97.9 47.8h0M103.2 65.7h0M98.3 68h0M94.8 128.7h0M93.8 31.7h0M100.1 135.1h0M98.4 78.4h0M99.2 46.6h0M99.3 33.7h0M96.6 127.5h0M99.6 70.3h0M98 39.2h0M96.3 39.8h0M101.8 41h0M101.9 36.1h0M96.6 52.9h0M103.7 40.5h0M99.7 52.2h0M97.8 37h0M96 51.2h0M97.8 37.1h0M95.9 60h0M93.8 36.5h0M99.9 38.5h0M101 39.3h0" stroke="#C43C66" stroke-opacity="0.56" stroke-width="2" stroke-linecap="round" fill="none"/>
<path d="M100.8 62.6h0M96.2 82h0M98.8 34.8h0M102.9 31.2h0M97.1 72.2h0M100.8 77.8h0M98.8 35.2h0M101.2 52.7h0M100.9 51.8h0M95.6 41.3h0M101.5 125.4h0M95.3 74.3h0M94.4 70.6h0M96.1 51.8h0M99.6 25.9h0M95 31.3h0M96.4 48.6h0M95.7 42.8h0M101.6 34.3h0M94.5 35.3h0M99.3 53h0M101.6 49.2h0M97.9 45.3h0M103.3 40.8h0M102.6 55.1h0M101 55.6h0M95.9 35.7h0M96 40h0M98.5 53h0M95.4 72.2h0M100.2 48.9h0M94.3 67.2h0M97.3 73.6h0M99.9 48.3h0M100.7 106.5h0M95.5 50.9h0M99.7 40.2h0M95.1 34.4h0M99.9 41.3h0M97.9 41.3h0M101.6 128.7h0M97.4 45.6h0" stroke="#C43C66" stroke-opacity="0.56" stroke-width="2" stroke-linecap="round" fill="none"/>
<path d="M101.6 63.7h0M103 50.2h0M100.5 29.5h0M99.3 63.6h0M97.8 36.4h0M101.9 79h0M96.4 44.9h0M100.6 44.7h0M94.9 56.9h0M94.1 63.3h0M96 46.7h0M100.5 44.4h0M101.7 78.8h0M99.6 61.9h0M97.7 86.9h0M98.7 26.2h0M97.8 125.1h0M100.1 40.2h0M101.6 68.1h0M100.3 27.3h0M99.8 29.6h0M99.4 41.1h0M102.8 69.7h0M101.2 43.2h0M93.7 44.4h0M101.5 82h0M96 64.9h0M95.5 43.2h0M93.7 51.1h0M94.2 38h0M101.3 55h0M99.5 64h0M96.2 42.6h0M101.5 57.6h0M96.7 58.9h0M99.6 70.8h0M96.9 36.8h0M101.3 47.1h0M96.6 34.9h0M99.9 34.6h0M95.6 44.1h0M100.5 47.1h0" stroke="#C43C66" stroke-opacity="0.56" stroke-width="2" stroke-linecap="round" fill="none"/>
<path d="M93.5 42.6h0M93.5 36h0M98.4 52.8h0M99.6 34.8h0M94.4 51.5h0M94.1 34.7h0M103.2 71.9h0M101.8 40.2h0M98 82.9h0M97.4 85.9h0M97.8 57.6h0M98 80.2h0M102.6 117.5h0M103.2 126.9h0M98.9 126.8h0M102.9 53.8h0M95 46.2h0M102.8 36.5h0M99.5 50.9h0M100.5 67.1h0M102.2 27.8h0M94.9 33.7h0M99.9 132.9h0M97.2 29.2h0M98.5 54.2h0M98.7 55.8h0M94.8 55.7h0M97.5 52.2h0M99.2 39h0M94.5 67.1h0M95.8 45.3h0M95.3 56.4h0M102.5 35.3h0M102.6 37.7h0M97.5 68.5h0M97.1 74.5h0M101.1 52.7h0M94.4 66.4h0M94.3 36h0M97.4 53.5h0M94.2 40.6h0M102.9 58.8h0" stroke="#C43C66" stroke-opacity="0.56" stroke-width="2" stroke-linecap="round" fill="none"/>
<path d="M102 49.7h0M99.1 55.1h0M96.7 56.8h0M97 68.5h0M102.4 36h0M96.9 41h0M101.4 45.8h0M99.4 29.7h0M98.1 43.4h0M94.8 26.3h0M101.3 64h0M102.8 55.5h0M101.2 44.9h0M97.5 51.3h0M101.8 46.7h0M97.9 57h0M97.4 73.6h0M94.3 50.1h0M102.2 33.1h0M99.4 39.1h0M95.7 44.1h0M95.8 41.6h0M100.9 41.7h0M99.5 46.5h0M103.6 73.1h0M93.9 39.9h0M103.8 50.4h0M102.3 69.1h0M97 90.3h0M101 66.1h0M96.2 127.4h0M94.9 36h0M103.7 40.3h0M99.6 41.4h0M97 62.8h0M103.5 40.6h0M94 53.4h0M98.6 59.3h0M93.9 67.5h0M101 50.5h0M98.9 44.1h0M99.9 128.2h0" stroke="#C43C66" stroke-opacity="0.56" stroke-width="2" stroke-linecap="round" fill="none"/>
<path d="M102.2 133.7h0M98.8 83.3h0M100.3 86.4h0M95.2 56.5h0M100.7 41.8h0M99.3 46.1h0M100.5 47.3h0M100 50.3h0M93.7 24.3h0M100.8 93.2h0M99.1 126.9h0M102.9 42.2h0M98 66.9h0M102.8 126.7h0M101.4 54.8h0M98.3 46.7h0M99.4 46.6h0M100 37.9h0M99.7 34.3h0M101.8 32.4h0M102.9 91.8h0M96.4 26.1h0M102.9 39h0M101.7 49.3h0M101.8 65h0M98.7 38.8h0M102.6 36.3h0M98.2 131.3h0M94.9 113.5h0M101.6 51.7h0M102.8 37.2h0M96.8 27.2h0M95.9 40.9h0M97 35.2h0M99 45h0M99.7 38.8h0M96.7 41.1h0M101.3 47h0M95 33.4h0M101.7 87h0M97.9 48.6h0M97.5 35.3h0" stroke="#C43C66" stroke-opacity="0.56" stroke-width="2" stroke-linecap="round" fill="none"/>
<path d="M104.9 47V90" stroke="#C43C66" stroke-width="1.1" stroke-opacity="0.85"/>
<path d="M104.9 90V137" stroke="#C43C66" stroke-width="0.9" stroke-opacity="0.35"/>
<path d="M104.8 24L105.8 24L106 29.5L108.9 31.2L106.5 32.8L110 35L122.1 36.5L113 38L112.6 41.7L109 44L107.5 47L106.3 52L104.8 52Z" fill="#C43C66"/>
<rect x="102.5" y="37" width="2.2" height="17.5" fill="#fff" fill-opacity="0.55"/>
<path d="M92.5 33.1H106.5" stroke="#fff" stroke-width="0.9"/>
<path d="M143.6 107.2h0M143.3 120.4h0M145.1 126.8h0M144.4 115h0M137.9 126.1h0M142.2 129.6h0M135.7 123.9h0M142.4 105.4h0M136.5 119.7h0M138.9 119.5h0M136.9 97.3h0M143 138.3h0M137.6 115.8h0M141.4 133.8h0M142.9 103.5h0M143.9 133h0M136.2 128h0M142.5 99.9h0M142.3 137.3h0M141.7 102.5h0M144.8 95.6h0M144.6 100.5h0M144.8 118.6h0M141.9 107.6h0M142.9 108.6h0M136.4 109h0M135.9 102h0M143.8 97.2h0M135.7 89.7h0M137.4 112.2h0M135.7 107.6h0M140.6 124.3h0M138.5 90.1h0M142.3 121.7h0M139.6 95.9h0M137.2 108.5h0M142.5 83.8h0M145 123.1h0M137.2 133.5h0M145 124.8h0" stroke="#37B473" stroke-opacity="0.56" stroke-width="2" stroke-linecap="round" fill="none"/>
<path d="M142 91.7h0M144.3 96.9h0M144.8 131.9h0M138.3 93.5h0M136.4 111.6h0M141.6 122.5h0M144.1 134.5h0M138.2 95.8h0M143.9 133.5h0M136.7 129.1h0M145.1 136.6h0M140.4 87.5h0M138.9 28.9h0M136.6 103.4h0M137.4 96.8h0M140.8 127.5h0M137.3 129.9h0M138.4 85.2h0M142.5 117.8h0M136.3 98.2h0M137.6 104.7h0M140 125.5h0M139.6 137.6h0M136.2 100.7h0M145 101.6h0M138.6 104.7h0M138.2 111.9h0M139.5 137.7h0M144.8 114.4h0M139.7 120.3h0M139.4 131h0M140.9 110.3h0M139.4 126.4h0M141.6 124.3h0M144.3 91.2h0M137.9 114.9h0M142.4 132.9h0M137.9 117.8h0M142.7 109.5h0M141.1 122.1h0" stroke="#37B473" stroke-opacity="0.56" stroke-width="2" stroke-linecap="round" fill="none"/>
<path d="M140.7 104.5h0M136.5 93.2h0M138 107.3h0M144.1 122.7h0M143.2 134.1h0M144.7 137.3h0M142.9 123.7h0M143.1 92.5h0M136.4 113.8h0M143.8 123.9h0M140.9 121.5h0M139.4 97.9h0M143.1 128.4h0M142.4 111.9h0M144.5 130.2h0M141.4 138h0M141.9 105.4h0M138.6 111h0M142.5 137h0M139.9 114.9h0M139.1 115.1h0M138.6 105.1h0M144.9 109.6h0M141.1 103.4h0M135.8 134.6h0M137.9 136h0M140.8 131.4h0M136.4 125.5h0M139.4 122.8h0M138.2 122.9h0M139.2 92.8h0M142.4 85.1h0M141.5 122h0M140 112.2h0M137.9 124.9h0M138.8 112.5h0M143.8 96.8h0M138 107.7h0M141.6 126.5h0M139.4 114.2h0" stroke="#37B473" stroke-opacity="0.56" stroke-width="2" stroke-linecap="round" fill="none"/>
<path d="M143.1 109.8h0M138 84.4h0M139.3 106.2h0M135.7 109.8h0M142.6 120.9h0M143.3 106.8h0M143.2 102.8h0M143.4 117.7h0M135.9 119.9h0M138.1 134.1h0M138.2 137.2h0M144.4 126.7h0M135.6 96h0M144.9 111.6h0M142.4 114.3h0M142.6 115.9h0M142.4 117.6h0M140 127.9h0M141.2 109.3h0M139.2 127.7h0M139.7 112.2h0M142.2 107.2h0M139.8 107.1h0M139.2 99.6h0M141 111.9h0M136.1 117.3h0M137.8 131.6h0M138.7 118.3h0M144.2 106.5h0M138.3 131.1h0M144.1 122h0M138.4 128.4h0M138.4 97.7h0M144 31.9h0M144.2 122.1h0M145.1 115.8h0M143.3 118.3h0M143.9 97h0M143.4 99.3h0M142 132h0" stroke="#37B473" stroke-opacity="0.56" stroke-width="2" stroke-linecap="round" fill="none"/>
<path d="M140.3 120.1h0M141.3 107.2h0M142.7 126.7h0M144.4 133.1h0M142.3 95.1h0M141.9 111.1h0M139.7 91.4h0M142.5 109h0M138.5 133.7h0M141.9 118.8h0M143 116.4h0M143.9 127h0M137 115.1h0M143.4 129.5h0M142.8 90.3h0M144.9 110.9h0M136.1 85.2h0M138.5 93.2h0M143.6 121.2h0M136.8 137.3h0M138.7 111h0M143.7 125.1h0M136 125.1h0M141.7 112.1h0M138.1 117.4h0M141.4 93.4h0M143.4 111.9h0M139.8 112.8h0M138.4 125.4h0M135.9 85.2h0M143 130.2h0M140.6 122.4h0M136.9 134.7h0M145.2 129.1h0M136.2 94h0M139.4 115.7h0M136 122.3h0M136 133.1h0M135.9 129.5h0M138 114.8h0" stroke="#37B473" stroke-opacity="0.56" stroke-width="2" stroke-linecap="round" fill="none"/>
<path d="M143.5 95.6h0M139.3 122h0M137.1 133.2h0M144.1 133.2h0M137.3 113.8h0M138.3 106.4h0M138.1 104.9h0M142.1 115.8h0M138.2 125.7h0M143.5 113.3h0M145.1 131.1h0M145.3 121.5h0M137.4 114.7h0M144.5 121.9h0M138.7 98.2h0M140.8 133.8h0M143.1 106.8h0M139.1 84.8h0M136.8 119.7h0M144.8 125.4h0M135.6 108.9h0M140.7 109.8h0M143 93.7h0M138 134.2h0M142.7 131.6h0M144.9 134.4h0M144.4 114.6h0M138.9 100.5h0M144.2 133.5h0M141.3 120.6h0M136.9 105.6h0M143.1 115.6h0M142.5 85.7h0M140.7 132.3h0M141.5 26.6h0M142.4 123.2h0M141.7 118.8h0M139.1 97.7h0M140.4 112.2h0M136.7 129h0" stroke="#37B473" stroke-opacity="0.56" stroke-width="2" stroke-linecap="round" fill="none"/>
<path d="M141.8 88.6h0M135.7 122h0M142 106.3h0M139.1 110.9h0M139.7 121.4h0M135.9 106.9h0M139.1 121.9h0M143.7 130.5h0M137.4 93.6h0M138 120.7h0M137.6 120.1h0M138.7 32.3h0M142.2 94.8h0M139.2 113.1h0M138.5 124.3h0M140.9 104.4h0M141.1 116.5h0M139.2 119.8h0M144.6 125.9h0M138.5 107.8h0M137.2 94h0M143.3 106.7h0M139.7 137.7h0M140.6 101.9h0M141.7 116.5h0M144.3 106h0M143.2 114.1h0M135.7 100h0M137.4 126.4h0M145.3 133.4h0M138.5 127.7h0M144 108.1h0M144.2 119.9h0M143.7 127.7h0M136 104.6h0M141.9 105.1h0M142 134.6h0M144.1 116.5h0M141.9 130.6h0M139.3 131.8h0" stroke="#37B473" stroke-opacity="0.56" stroke-width="2" stroke-linecap="round" fill="none"/>
<path d="M142.4 103.9h0M137.6 124.8h0M140.1 99.5h0M141 109.5h0M139.2 131.9h0M145.2 134.9h0M136.4 103.1h0M139.8 116.3h0M140.1 124.4h0M142.2 137.7h0M141.2 126.4h0M143.8 100.3h0M135.8 114.2h0M142.2 123.8h0M141.3 98.2h0M144.1 94.5h0M135.9 125.4h0M140.5 129.7h0M143.3 121.7h0M141.2 128.3h0M142.7 128.9h0M139.8 112.7h0M140.3 107.4h0M138.4 136.9h0M137.5 114.7h0M143 134.6h0M141.3 103.3h0M144.1 101.9h0M143.3 90.1h0M143.6 124.1h0M142.6 99.8h0M144.2 127.4h0M139.2 134h0M142.7 120.1h0M137 98.1h0M143.5 136.7h0M139.3 127.6h0M138 100.6h0M138.1 135.9h0M139.2 94.7h0" stroke="#37B473" stroke-opacity="0.56" stroke-width="2" stroke-linecap="round" fill="none"/>
<path d="M141.4 102.7h0M138.7 107.8h0M144.8 133.1h0M140.8 103.5h0M141.3 96.5h0M144 109.6h0M140.2 123.1h0M139 131.9h0M136.2 31.7h0M144.6 113.9h0M143.7 118.6h0M138.4 109.7h0M139 112.7h0M142.1 136.9h0M137 98.1h0M142.5 122.6h0M137.9 121h0M141.9 97.1h0M136.2 123.6h0M143.3 94.4h0M142 103.1h0M137.9 102.5h0M138.5 124.2h0M142.1 113.3h0M138.2 88.9h0M136 87.8h0M141.9 132.5h0M144.7 85.5h0M138 126.2h0M140.9 113h0M144.8 98.1h0M144.3 134.9h0M136.7 115.4h0M139.5 104.3h0M144.2 112.8h0M144.7 125.9h0M135.8 133h0M143.2 137.4h0M137.7 112.7h0M143.4 128.6h0" stroke="#37B473" stroke-opacity="0.56" stroke-width="2" stroke-linecap="round" fill="none"/>
<path d="M142.7 97.6h0M144.9 129.6h0M143.2 114h0M136 134.9h0M145.2 118.6h0M141.6 124.3h0M140 104.6h0M143.2 127.2h0M136.1 106.9h0M142.7 119.3h0M136.2 122.8h0M141.3 132.2h0M136.6 109.3h0M137.8 105.9h0M141.7 135.5h0M140.6 101.7h0M144.6 106.8h0M135.8 124.1h0M139.1 103.5h0M140.3 130.5h0M143.9 137h0M139 97.3h0M138.3 114.8h0M144.9 126.8h0M136.8 110.5h0M143.5 85h0M140 122.9h0M135.7 106.7h0M141.3 134.9h0M140.8 136.8h0M139.1 136.6h0M139 100.5h0M137.5 122.4h0M142.9 128.2h0M144.1 105.7h0M138.7 91h0M139.2 101.1h0M142 110.6h0M142.2 111.3h0M144.8 104.5h0" stroke="#37B473" stroke-opacity="0.56" stroke-width="2" stroke-linecap="round" fill="none"/>
<path d="M137.1 133.1h0M144.8 129.4h0M144.4 137.3h0M143.4 134.9h0M143.8 108.3h0M145 136.8h0M141.3 105.2h0M135.6 127.2h0M136.9 103.9h0M142.3 126.1h0M144.8 109.8h0M141 112.8h0M140.6 112.4h0M142 126h0M137.7 111.9h0M140.3 96.8h0M136.9 120.6h0M141.3 90.2h0M135.6 102.9h0M140.3 118.4h0M140.5 108.9h0M141 106h0M143.4 108.4h0M139.2 118.3h0M138.5 103.2h0M137.3 112.6h0M143.7 97.8h0M142 134.3h0M137 104.7h0M142.7 103h0M138.8 110.9h0M140.6 104.1h0M135.9 127.3h0M135.9 104.7h0M143 118.3h0M141.8 133.1h0M144.8 135.2h0M142.2 109.4h0M138.5 129.4h0M141.6 103.5h0" stroke="#37B473" stroke-opacity="0.56" stroke-width="2" stroke-linecap="round" fill="none"/>
<path d="M136.6 137.6h0M135.8 86.1h0M139 92.8h0M138.2 108.6h0M140.7 100.7h0M138.8 96.8h0M140.7 103.9h0M143.5 133.9h0M141.6 85.7h0M137.5 105.4h0M137.9 120.4h0M140.5 126.3h0M139.1 120.2h0M142.4 103.1h0M140.9 130.2h0M143.6 134.5h0M135.9 109.1h0M140.4 110h0M144.9 114h0M139.7 98.2h0M137 103.5h0M136.3 124.2h0M137.8 96.6h0M135.7 93.5h0M136.2 124.7h0M139.1 125.7h0M135.7 132.7h0M141.5 122.9h0M142.9 111h0M142.5 125.3h0M145.2 31.9h0M141.3 102.3h0M144.6 99h0M142 126.1h0M143.9 89h0M140.8 112.5h0M142 115.4h0M140.2 121.1h0M143.3 125.2h0M139.7 114.3h0" stroke="#37B473" stroke-opacity="0.56" stroke-width="2" stroke-linecap="round" fill="none"/>
<path d="M140.3 131.3h0M135.9 101.7h0M140.9 135.3h0M136 109.5h0M145.2 115.3h0M145.1 112.9h0M140.9 122.5h0M144.2 121.2h0M138.8 108.2h0M141.4 119.1h0M142.9 136h0M137.9 136.5h0M144.2 111.5h0M142.5 111.3h0M144.3 107.2h0M137.7 120.3h0M136.1 124.9h0M136.5 121.1h0M144.7 96.3h0M135.9 136.2h0M141 116.8h0M139 100.1h0M135.8 107.6h0M141.7 114.3h0M143.1 107h0M141.9 133.3h0M143.2 123.7h0M141.1 120h0M141 128.1h0M140 117.8h0M139.6 105.3h0M144.7 130.3h0M135.9 108.2h0M139.5 112.9h0M142.7 119.9h0M136.8 88.5h0M144.1 101.9h0M135.9 118.5h0M137.7 120.1h0M143.5 95.8h0" stroke="#37B473" stroke-opacity="0.56" stroke-width="2" stroke-linecap="round" fill="none"/>
<path d="M139.4 93.5h0M144.5 135.3h0M143.5 107.4h0M138.6 138.3h0M140.5 114.5h0M139.2 130.9h0M142.4 84.2h0M142.7 114.6h0M141.5 137.2h0M145.2 125.8h0M141.1 130.2h0M136 129.5h0M141.1 111.7h0M140.1 131.8h0M141.8 117.7h0M138.4 112.1h0M143.2 84.6h0M138.6 116.8h0M142.1 118.1h0M142.5 134.2h0M143.8 109.8h0M136.8 124.3h0M144.7 89.2h0M143 115.7h0M137.8 121.8h0M136.7 135.3h0M142.7 130.5h0M137.1 137.6h0M144.2 106.2h0M138.9 126.7h0M143.6 114.9h0M136.2 132.1h0M142.4 123.8h0M141.9 114.6h0M140.8 117.8h0M136.1 118.6h0M141.3 127.7h0M142.8 106.7h0M141.1 126.9h0M136 114.6h0" stroke="#37B473" stroke-opacity="0.56" stroke-width="2" stroke-linecap="round" fill="none"/>
<path d="M137.6 128.3h0M144.9 133.8h0M138.3 134.5h0M144.9 108h0M137 119.1h0M142.2 84.6h0M140.3 120.2h0M138.4 110.4h0M144.9 129.8h0M136.2 92.8h0M141.4 132h0M142.6 115.1h0M138.9 100.5h0M143 128.8h0M137 93.9h0M138.9 137.1h0M139.7 124.1h0M135.8 123.2h0M140.7 132.1h0M145.2 127.9h0M143.7 116.9h0M137.7 137.4h0M137.3 126h0M137.7 109h0M140.9 137.7h0M144.5 128.7h0M142.1 133.4h0M143.3 130h0M138.2 127.6h0M137.9 129.6h0M144 133.2h0M143.5 115.6h0M143.5 87.4h0M140.8 104h0M144.4 110h0M142.8 101.2h0M143.3 103.3h0M140.4 123h0M143.7 126.4h0M144.7 97.8h0" stroke="#37B473" stroke-opacity="0.56" stroke-width="2" stroke-linecap="round" fill="none"/>
<path d="M142.3 102.9h0M144 125.7h0M140.3 106.7h0M136.2 108.6h0M145.1 109.8h0M143.4 137.4h0M138.4 117.3h0M140.7 109.8h0M139.5 130.8h0M141.2 134.4h0M141.9 122.8h0M140.3 129.1h0M140.8 125h0M145 127.3h0M143.3 125h0M137.5 89.4h0M139 126.1h0M140.2 86.2h0M143.2 88.2h0M144.7 117.5h0M144.6 135.1h0M141.1 107.4h0M141.7 134.9h0M138.1 132.2h0M144.4 136h0M144.7 124.6h0M136.6 110.6h0M139 102.9h0M142.8 114.2h0M139.9 127.9h0M142.2 100h0M135.9 136.2h0M136.6 136.4h0M142.5 115.2h0M139.4 130.7h0M140.2 120.5h0M142.6 132.3h0M140.5 93.1h0M142.5 120.1h0M142.6 87.4h0" stroke="#37B473" stroke-opacity="0.56" stroke-width="2" stroke-linecap="round" fill="none"/>
<path d="M147.5 25V83" stroke="#37B473" stroke-width="0.7" stroke-opacity="0.2"/>
<path d="M146.6 28L147.5 28L148.5 30L147.5 32L146.6 32Z" fill="#37B473"/>
<path d="M146.6 83.5L147.8 83.5L148.6 90L149.9 95.4L151 100.5L151.3 115L151 126.3L153.4 132L153.5 136L153 138.3L146.6 138.3Z" fill="#37B473"/>
<rect x="145.4" y="100.5" width="1.4" height="37.5" fill="#fff" fill-opacity="0.6"/>
<path d="M135.7 115.6H146.8" stroke="#fff" stroke-width="0.7"/>
<path d="M186.9 32.1h0M187.1 34.3h0M182.3 48.7h0M179.7 43.5h0M180.7 41.6h0M187 27.7h0M184.6 39h0M180.2 46.5h0M187.8 39.3h0M186.6 41.3h0M180.9 38.4h0M181.7 37.4h0M180.9 39.4h0M180.4 41.1h0M183.1 33.6h0M187.2 31.9h0M181.1 130.5h0M187.6 89.6h0" stroke="#FDE321" stroke-opacity="0.56" stroke-width="2" stroke-linecap="round" fill="none"/>
<path d="M188.5 40.2h0M185.6 41.1h0M188 40h0M180.3 38.4h0M187.1 38h0M186.4 37h0M185.2 98.9h0M187 41.5h0M180.5 39.8h0M182.3 39h0M184.9 37.2h0M188.6 48.6h0M182.9 91.2h0M180.7 41.6h0M184.4 48.6h0M178.8 42.4h0M179.6 37h0M185.1 34.5h0" stroke="#FDE321" stroke-opacity="0.56" stroke-width="2" stroke-linecap="round" fill="none"/>
<path d="M187.6 38.6h0M182.4 34.8h0M183.5 33.6h0M184.1 39h0M186 42.3h0M187.8 34.3h0M184.4 31.7h0M184.2 59.8h0M179.3 43.9h0M188.4 34.4h0M180.4 96.9h0M183.1 54.3h0M188.3 36h0M186.1 37.7h0M182 38.7h0M183.3 89.8h0M180 38h0M181.6 40.4h0" stroke="#FDE321" stroke-opacity="0.56" stroke-width="2" stroke-linecap="round" fill="none"/>
<path d="M179.8 39.7h0M179.8 38h0M180.7 36.8h0M187.6 35.7h0M187.6 96.3h0M185.6 40.2h0M180 39.3h0M179.2 51.6h0M180.8 43.5h0M183.1 36.5h0M186.9 33.6h0M180.3 54.3h0M181.2 35.6h0M179.7 39.8h0M187.6 41.5h0M180.1 40.6h0M188 34.4h0M188.1 45.1h0" stroke="#FDE321" stroke-opacity="0.56" stroke-width="2" stroke-linecap="round" fill="none"/>
<path d="M183.7 56.3h0M188.4 60.9h0M184.2 97.5h0M179.2 38.9h0M179.4 77.2h0M186.9 36.2h0M183.6 41.1h0M185.3 99.2h0M187.9 39.4h0M187 40.6h0M181 32.2h0M185.7 124.2h0M184.2 37.8h0M184.1 39.9h0M179.2 38.9h0M187.8 37.4h0M186.1 45.4h0M186.3 41.4h0" stroke="#FDE321" stroke-opacity="0.56" stroke-width="2" stroke-linecap="round" fill="none"/>
<path d="M180.9 35.4h0M181.1 40.4h0M188.4 37.5h0M183.6 62.7h0M181 47.6h0M183 42.1h0M183.7 51.2h0M186.4 36.5h0M181.4 54h0M188.3 130.4h0M180.5 124.9h0M181 59.5h0M186.3 37.3h0M187.1 39.2h0M180.4 35.7h0M186.4 40.3h0M180.2 40.8h0M185.4 53.8h0" stroke="#FDE321" stroke-opacity="0.56" stroke-width="2" stroke-linecap="round" fill="none"/>
<path d="M178.5 37.9h0M181 94.1h0M180.9 89h0M188.3 34.5h0M184.3 37.6h0M180 45.6h0M188.6 38.8h0M186 48.7h0M179.3 37.4h0M183.2 35.6h0M188.3 45.6h0M180.5 34.7h0M180.1 62.9h0M182.8 130.3h0M184.2 35.7h0M179.4 37.6h0M181 41.3h0M183.5 94.4h0" stroke="#FDE321" stroke-opacity="0.56" stroke-width="2" stroke-linecap="round" fill="none"/>
<path d="M185.2 23.9h0M185.8 40.4h0M179.3 36.2h0M179.7 38.1h0M187.9 34.9h0M180.7 39.1h0M186.1 38.5h0M183.9 46.6h0M181.8 86.4h0M181.9 63.2h0M183.1 39.7h0M179.1 94.8h0M187 43.9h0M188.1 41h0M187.7 35.3h0M186.3 35.3h0M187.1 30.8h0M182 35.1h0" stroke="#FDE321" stroke-opacity="0.56" stroke-width="2" stroke-linecap="round" fill="none"/>
<path d="M187.8 28.4h0M183.7 35.4h0M181.1 37.3h0M183.6 36.7h0M178.9 49.5h0M187.2 56.9h0M179.2 39.4h0M183 41.9h0M183.4 47.4h0M179.7 25.7h0M179.4 35.6h0M181.2 39.5h0M181.1 50.6h0M181.2 50.3h0M182.9 98.2h0M187.4 41.7h0M188.3 98.8h0" stroke="#FDE321" stroke-opacity="0.56" stroke-width="2" stroke-linecap="round" fill="none"/>
<path d="M181.8 25.5h0M179.6 35.4h0M184.2 91.8h0M181.6 41.5h0M185.3 40.1h0M179.5 47.5h0M186.9 34.5h0M185.2 41.6h0M179.9 41.8h0M183.7 97.4h0M180.1 39.9h0M183.7 40.7h0M179.1 41.4h0M180.3 41.8h0M186 34.5h0M178.7 32.6h0M182.7 36.9h0" stroke="#FDE321" stroke-opacity="0.56" stroke-width="2" stroke-linecap="round" fill="none"/>
<path d="M182.4 38.4h0M182.6 61.1h0M180.2 26.5h0M182.4 36.6h0M179.7 42.2h0M184.9 39.6h0M181.8 41.6h0M180.9 35.9h0M187 85.1h0M181.1 28.7h0M182.5 39.6h0M180.8 54.8h0M188.2 44.5h0M181 34.7h0M178.9 56.5h0M181.5 35.7h0M185.9 36.7h0" stroke="#FDE321" stroke-opacity="0.56" stroke-width="2" stroke-linecap="round" fill="none"/>
<path d="M182.7 97.8h0M180.5 125.4h0M178.5 49.5h0M179.7 49.5h0M181.8 57.8h0M179.9 36.9h0M179.7 53.7h0M181.5 99.7h0M181.6 25.5h0M180 36.4h0M182.3 35.6h0M186.1 35.4h0M187.3 49.6h0M187.5 62.2h0M180.3 123.3h0M188.2 39.8h0M179.7 41.6h0" stroke="#FDE321" stroke-opacity="0.56" stroke-width="2" stroke-linecap="round" fill="none"/>
<path d="M188.5 88.3h0M187.5 40.9h0M185 40.3h0M180.8 36.9h0M183.9 36.9h0M181.1 40.5h0M187.1 46.4h0M183.4 36.5h0M181 64.1h0M180.5 40.6h0M181.8 35.4h0M182.2 43.1h0M182.7 25.1h0M181.6 89.3h0M188.6 54.7h0M188 34.7h0M183.5 36.4h0" stroke="#FDE321" stroke-opacity="0.56" stroke-width="2" stroke-linecap="round" fill="none"/>
<path d="M183.5 96.6h0M179.8 35.7h0M182.1 85h0M179.3 34.8h0M187 96.4h0M183.1 40.8h0M184.2 37.8h0M183.4 37.5h0M186.8 44.6h0M182.5 50.2h0M181.2 78.8h0M188.2 34.6h0M183 37.7h0M181.5 98.6h0M180.5 27h0M184.9 45.4h0M181.1 37h0" stroke="#FDE321" stroke-opacity="0.56" stroke-width="2" stroke-linecap="round" fill="none"/>
<path d="M178.9 36h0M182.3 33.3h0M180.7 42.1h0M182.9 42.6h0M185.8 37.9h0M180.6 37.6h0M187.9 46.2h0M183 86.6h0M184.8 37h0M185.2 37.2h0M184.1 41.7h0M185.6 41.2h0M181 33.9h0M178.7 24.9h0M187.1 32.8h0M184.3 35.6h0M185.5 35.5h0" stroke="#FDE321" stroke-opacity="0.56" stroke-width="2" stroke-linecap="round" fill="none"/>
<path d="M184.5 38.1h0M180 91.9h0M178.8 43.6h0M187.4 130h0M188.5 39.9h0M187 38.1h0M179.4 38.7h0M187.5 36.6h0M183 46.6h0M184.8 40.9h0M185.1 36.5h0M182.1 40.2h0M183.6 35.5h0M186.5 44.1h0M180.5 41.6h0M184.6 49.3h0M181.6 37.3h0" stroke="#FDE321" stroke-opacity="0.56" stroke-width="2" stroke-linecap="round" fill="none"/>
<path d="M190 50V135" stroke="#FDE321" stroke-width="0.9" stroke-opacity="0.3"/>
<path d="M189.3 24.3L191.4 24.3L193.3 28.6L192 30L193.3 31.7L196 34.5L212.9 36.3L199.4 38L195.1 40.9L192.7 44.6L191.6 48L191.4 54L191 59L190.3 62L189.3 62Z" fill="#FDE321"/>
<path d="M189.8 90L190.6 90L192.6 92.4L190.6 95L189.8 95Z" fill="#FDE321"/>
<path d="M189.8 125L190.6 125L192 127L190.6 129L189.8 129Z" fill="#FDE321"/>
<rect x="187.7" y="38.4" width="1.6" height="11.1" fill="#fff" fill-opacity="0.55"/>
</g>
</svg>
</body></html>
